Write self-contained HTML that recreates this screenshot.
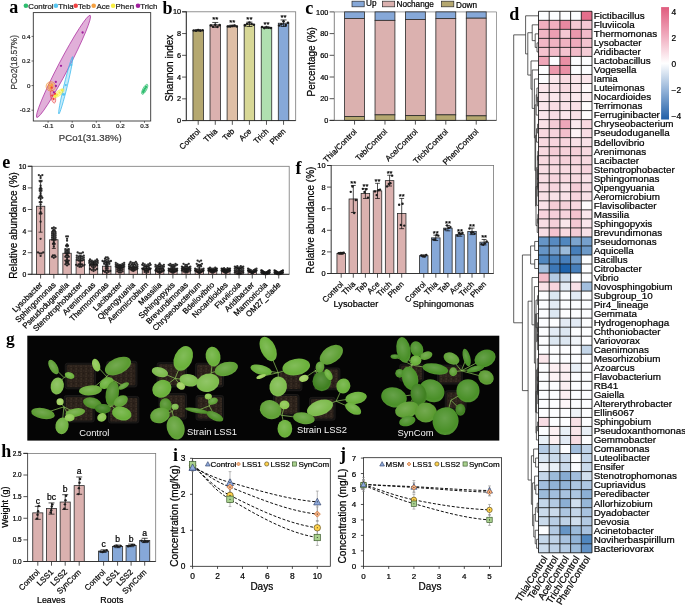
<!DOCTYPE html>
<html><head><meta charset="utf-8"><title>Figure</title>
<style>html,body{margin:0;padding:0;background:#fff}svg{display:block}</style></head>
<body><svg width="685" height="606" viewBox="0 0 685 606">
<rect width="685" height="606" fill="#fff"/>
<text x="9.20" y="13.20" font-size="18" text-anchor="start" fill="#000" font-family="Liberation Serif, Times New Roman, serif" font-weight="bold" >a</text>
<circle cx="25.90" cy="5.70" r="2.3" fill="#2dbd6e" stroke="none" stroke-width="0.5" />
<text x="28.20" y="8.50" font-size="7.9" text-anchor="start" fill="#222" font-family="Liberation Sans, Arial, sans-serif" stroke="#222" stroke-width="0.22" >Control</text>
<circle cx="55.90" cy="5.70" r="2.3" fill="#56c5f0" stroke="none" stroke-width="0.5" />
<text x="58.20" y="8.50" font-size="7.9" text-anchor="start" fill="#222" font-family="Liberation Sans, Arial, sans-serif" stroke="#222" stroke-width="0.22" >Thia</text>
<circle cx="75.70" cy="5.70" r="2.3" fill="#f04040" stroke="none" stroke-width="0.5" />
<text x="77.90" y="8.50" font-size="7.9" text-anchor="start" fill="#222" font-family="Liberation Sans, Arial, sans-serif" stroke="#222" stroke-width="0.22" >Teb</text>
<circle cx="93.70" cy="5.70" r="2.3" fill="#f5a040" stroke="none" stroke-width="0.5" />
<text x="96.40" y="8.50" font-size="7.9" text-anchor="start" fill="#222" font-family="Liberation Sans, Arial, sans-serif" stroke="#222" stroke-width="0.22" >Ace</text>
<circle cx="113.10" cy="5.70" r="2.3" fill="#f8ee40" stroke="none" stroke-width="0.5" />
<text x="115.60" y="8.50" font-size="7.9" text-anchor="start" fill="#222" font-family="Liberation Sans, Arial, sans-serif" stroke="#222" stroke-width="0.22" >Phen</text>
<circle cx="138.00" cy="5.70" r="2.3" fill="#a0209e" stroke="none" stroke-width="0.5" />
<text x="140.20" y="8.50" font-size="7.9" text-anchor="start" fill="#222" font-family="Liberation Sans, Arial, sans-serif" stroke="#222" stroke-width="0.22" >Trich</text>
<rect x="33.30" y="12.60" width="117.40" height="108.40" fill="#fff" stroke="#333" stroke-width="0.9" />
<clipPath id="ca"><rect x="33.3" y="12.6" width="117.39999999999999" height="108.4"/></clipPath><g clip-path="url(#ca)">
<ellipse cx="63.50" cy="66.40" rx="57.60" ry="5.20" transform="rotate(-62.4 63.50 66.40)" fill="#b5379f" fill-opacity="0.4" stroke="#a8259c" stroke-width="0.65"/>
<ellipse cx="65.75" cy="85.30" rx="29.50" ry="1.70" transform="rotate(-76.4 65.75 85.30)" fill="#56c5f0" fill-opacity="0.35" stroke="#38b8ee" stroke-width="0.7"/>
<ellipse cx="144.70" cy="89.30" rx="5.60" ry="1.90" transform="rotate(-62 144.70 89.30)" fill="#2dbd6e" fill-opacity="0.4" stroke="#2dbd6e" stroke-width="0.6"/>
<ellipse cx="50.80" cy="86.40" rx="4.70" ry="4.70" transform="rotate(0 50.80 86.40)" fill="#f5a040" fill-opacity="0.22" stroke="#f08a20" stroke-width="0.6"/>
<ellipse cx="50.60" cy="86.40" rx="2.60" ry="3.30" transform="rotate(0 50.60 86.40)" fill="#f5a040" fill-opacity="0.22" stroke="#f08a20" stroke-width="0.5"/>
<ellipse cx="53.00" cy="96.60" rx="2.30" ry="6.60" transform="rotate(-13 53.00 96.60)" fill="#f04040" fill-opacity="0.2" stroke="#e84040" stroke-width="0.6"/>
<ellipse cx="58.70" cy="93.30" rx="6.60" ry="2.40" transform="rotate(-39 58.70 93.30)" fill="#f8ee40" fill-opacity="0.45" stroke="#f4e840" stroke-width="0.5"/>
<circle cx="82.60" cy="32.50" r="1.15" fill="#a0209e" stroke="none" stroke-width="0.5" />
<circle cx="61.00" cy="65.80" r="1.15" fill="#a0209e" stroke="none" stroke-width="0.5" />
<circle cx="55.80" cy="81.90" r="1.15" fill="#a0209e" stroke="none" stroke-width="0.5" />
<circle cx="55.90" cy="86.00" r="1.15" fill="#a0209e" stroke="none" stroke-width="0.5" />
<circle cx="54.00" cy="92.30" r="1.15" fill="#a0209e" stroke="none" stroke-width="0.5" />
<circle cx="71.20" cy="65.00" r="1.15" fill="#56c5f0" stroke="none" stroke-width="0.5" />
<circle cx="65.80" cy="85.10" r="1.15" fill="#56c5f0" stroke="none" stroke-width="0.5" />
<circle cx="64.00" cy="94.50" r="1.15" fill="#56c5f0" stroke="none" stroke-width="0.5" />
<circle cx="63.00" cy="94.40" r="1.15" fill="#56c5f0" stroke="none" stroke-width="0.5" />
<circle cx="143.20" cy="92.00" r="1.15" fill="#2dbd6e" stroke="none" stroke-width="0.5" />
<circle cx="144.20" cy="90.20" r="1.15" fill="#2dbd6e" stroke="none" stroke-width="0.5" />
<circle cx="145.00" cy="88.60" r="1.15" fill="#2dbd6e" stroke="none" stroke-width="0.5" />
<circle cx="146.00" cy="87.00" r="1.15" fill="#2dbd6e" stroke="none" stroke-width="0.5" />
<circle cx="143.60" cy="91.00" r="1.15" fill="#2dbd6e" stroke="none" stroke-width="0.5" />
<circle cx="50.00" cy="85.60" r="1.15" fill="#f5a040" stroke="none" stroke-width="0.5" />
<circle cx="51.50" cy="87.00" r="1.15" fill="#f5a040" stroke="none" stroke-width="0.5" />
<circle cx="50.50" cy="88.00" r="1.15" fill="#f5a040" stroke="none" stroke-width="0.5" />
<circle cx="52.00" cy="85.00" r="1.15" fill="#f5a040" stroke="none" stroke-width="0.5" />
<circle cx="51.70" cy="87.70" r="1.15" fill="#f04040" stroke="none" stroke-width="0.5" />
<circle cx="52.20" cy="95.60" r="1.15" fill="#f04040" stroke="none" stroke-width="0.5" />
<circle cx="55.10" cy="93.90" r="1.15" fill="#f04040" stroke="none" stroke-width="0.5" />
<circle cx="53.50" cy="99.00" r="1.15" fill="#f04040" stroke="none" stroke-width="0.5" />
<circle cx="55.20" cy="96.20" r="1.15" fill="#f8ee40" stroke="none" stroke-width="0.5" />
<circle cx="57.30" cy="94.60" r="1.15" fill="#f8ee40" stroke="none" stroke-width="0.5" />
<circle cx="59.60" cy="92.60" r="1.15" fill="#f8ee40" stroke="none" stroke-width="0.5" />
<circle cx="62.00" cy="90.40" r="1.15" fill="#f8ee40" stroke="none" stroke-width="0.5" />
<circle cx="56.30" cy="95.30" r="1.15" fill="#f8ee40" stroke="none" stroke-width="0.5" />
</g>
<line x1="48.10" y1="121.00" x2="48.10" y2="122.80" stroke="#333" stroke-width="0.7" />
<text x="48.10" y="128.00" font-size="6.2" text-anchor="middle" fill="#222" font-family="Liberation Sans, Arial, sans-serif" stroke="#222" stroke-width="0.22" >-0.1</text>
<line x1="72.20" y1="121.00" x2="72.20" y2="122.80" stroke="#333" stroke-width="0.7" />
<text x="72.20" y="128.00" font-size="6.2" text-anchor="middle" fill="#222" font-family="Liberation Sans, Arial, sans-serif" stroke="#222" stroke-width="0.22" >0</text>
<line x1="96.30" y1="121.00" x2="96.30" y2="122.80" stroke="#333" stroke-width="0.7" />
<text x="96.30" y="128.00" font-size="6.2" text-anchor="middle" fill="#222" font-family="Liberation Sans, Arial, sans-serif" stroke="#222" stroke-width="0.22" >0.1</text>
<line x1="120.40" y1="121.00" x2="120.40" y2="122.80" stroke="#333" stroke-width="0.7" />
<text x="120.40" y="128.00" font-size="6.2" text-anchor="middle" fill="#222" font-family="Liberation Sans, Arial, sans-serif" stroke="#222" stroke-width="0.22" >0.2</text>
<line x1="144.50" y1="121.00" x2="144.50" y2="122.80" stroke="#333" stroke-width="0.7" />
<text x="144.50" y="128.00" font-size="6.2" text-anchor="middle" fill="#222" font-family="Liberation Sans, Arial, sans-serif" stroke="#222" stroke-width="0.22" >0.3</text>
<line x1="31.50" y1="36.40" x2="33.30" y2="36.40" stroke="#333" stroke-width="0.7" />
<text x="30.50" y="38.60" font-size="6.2" text-anchor="end" fill="#222" font-family="Liberation Sans, Arial, sans-serif" stroke="#222" stroke-width="0.22" >0.4</text>
<line x1="31.50" y1="61.00" x2="33.30" y2="61.00" stroke="#333" stroke-width="0.7" />
<text x="30.50" y="63.20" font-size="6.2" text-anchor="end" fill="#222" font-family="Liberation Sans, Arial, sans-serif" stroke="#222" stroke-width="0.22" >0.2</text>
<line x1="31.50" y1="85.60" x2="33.30" y2="85.60" stroke="#333" stroke-width="0.7" />
<text x="30.50" y="87.80" font-size="6.2" text-anchor="end" fill="#222" font-family="Liberation Sans, Arial, sans-serif" stroke="#222" stroke-width="0.22" >0</text>
<line x1="31.50" y1="110.20" x2="33.30" y2="110.20" stroke="#333" stroke-width="0.7" />
<text x="30.50" y="112.40" font-size="6.2" text-anchor="end" fill="#222" font-family="Liberation Sans, Arial, sans-serif" stroke="#222" stroke-width="0.22" >-0.2</text>
<text x="17.40" y="62.30" font-size="8.3" text-anchor="middle" fill="#3a3a3a" font-family="Liberation Sans, Arial, sans-serif" transform="rotate(-90 17.40 62.30)" stroke="#3a3a3a" stroke-width="0.22" >PCo2(18.57%)</text>
<text x="90.30" y="141.00" font-size="9.6" text-anchor="middle" fill="#3a3a3a" font-family="Liberation Sans, Arial, sans-serif" stroke="#3a3a3a" stroke-width="0.22" >PCo1(31.38%)</text>
<text x="162.60" y="13.80" font-size="18" text-anchor="start" fill="#000" font-family="Liberation Serif, Times New Roman, serif" font-weight="bold" >b</text>
<rect x="186.30" y="11.80" width="109.40" height="108.80" fill="#fff" stroke="#777" stroke-width="0.8" />
<line x1="186.30" y1="11.80" x2="186.30" y2="120.60" stroke="#2a2a2a" stroke-width="0.9" />
<line x1="182.10" y1="120.60" x2="295.70" y2="120.60" stroke="#2a2a2a" stroke-width="0.9" />
<line x1="182.10" y1="11.80" x2="186.70" y2="11.80" stroke="#2a2a2a" stroke-width="0.9" />
<line x1="182.10" y1="120.60" x2="186.30" y2="120.60" stroke="#2a2a2a" stroke-width="0.8" />
<text x="181.00" y="123.20" font-size="7.3" text-anchor="end" fill="#000" font-family="Liberation Sans, Arial, sans-serif" stroke="#000" stroke-width="0.22" >0</text>
<line x1="182.10" y1="98.84" x2="186.30" y2="98.84" stroke="#2a2a2a" stroke-width="0.8" />
<text x="181.00" y="101.44" font-size="7.3" text-anchor="end" fill="#000" font-family="Liberation Sans, Arial, sans-serif" stroke="#000" stroke-width="0.22" >2</text>
<line x1="182.10" y1="77.08" x2="186.30" y2="77.08" stroke="#2a2a2a" stroke-width="0.8" />
<text x="181.00" y="79.68" font-size="7.3" text-anchor="end" fill="#000" font-family="Liberation Sans, Arial, sans-serif" stroke="#000" stroke-width="0.22" >4</text>
<line x1="182.10" y1="55.32" x2="186.30" y2="55.32" stroke="#2a2a2a" stroke-width="0.8" />
<text x="181.00" y="57.92" font-size="7.3" text-anchor="end" fill="#000" font-family="Liberation Sans, Arial, sans-serif" stroke="#000" stroke-width="0.22" >6</text>
<line x1="182.10" y1="33.56" x2="186.30" y2="33.56" stroke="#2a2a2a" stroke-width="0.8" />
<text x="181.00" y="36.16" font-size="7.3" text-anchor="end" fill="#000" font-family="Liberation Sans, Arial, sans-serif" stroke="#000" stroke-width="0.22" >8</text>
<line x1="182.10" y1="11.80" x2="186.30" y2="11.80" stroke="#2a2a2a" stroke-width="0.8" />
<text x="181.00" y="14.40" font-size="7.3" text-anchor="end" fill="#000" font-family="Liberation Sans, Arial, sans-serif" stroke="#000" stroke-width="0.22" >10</text>
<text x="172.50" y="68.00" font-size="10" text-anchor="middle" fill="#000" font-family="Liberation Sans, Arial, sans-serif" transform="rotate(-90 172.50 68.00)" stroke="#000" stroke-width="0.22" >Shannon index</text>
<rect x="192.95" y="30.30" width="10.50" height="90.30" fill="#b5a870" stroke="#2a2a2a" stroke-width="0.8" />
<line x1="198.20" y1="29.64" x2="198.20" y2="30.95" stroke="#000" stroke-width="0.7" />
<line x1="195.20" y1="29.64" x2="201.20" y2="29.64" stroke="#000" stroke-width="0.7" />
<line x1="195.20" y1="30.95" x2="201.20" y2="30.95" stroke="#000" stroke-width="0.7" />
<circle cx="193.80" cy="30.50" r="1.3" fill="#1c1c1c" stroke="none" stroke-width="0.5" />
<circle cx="196.00" cy="30.71" r="1.3" fill="#1c1c1c" stroke="none" stroke-width="0.5" />
<circle cx="198.20" cy="30.12" r="1.3" fill="#1c1c1c" stroke="none" stroke-width="0.5" />
<circle cx="200.40" cy="30.80" r="1.3" fill="#1c1c1c" stroke="none" stroke-width="0.5" />
<circle cx="202.60" cy="30.25" r="1.3" fill="#1c1c1c" stroke="none" stroke-width="0.5" />
<line x1="198.20" y1="120.60" x2="198.20" y2="124.80" stroke="#2a2a2a" stroke-width="0.8" />
<text x="200.80" y="131.80" font-size="8" text-anchor="end" fill="#000" font-family="Liberation Sans, Arial, sans-serif" transform="rotate(-45 200.80 131.80)" stroke="#000" stroke-width="0.22" >Control</text>
<rect x="210.02" y="24.86" width="10.50" height="95.74" fill="#dbb1af" stroke="#2a2a2a" stroke-width="0.8" />
<line x1="215.27" y1="22.46" x2="215.27" y2="27.25" stroke="#000" stroke-width="0.7" />
<line x1="212.27" y1="22.46" x2="218.27" y2="22.46" stroke="#000" stroke-width="0.7" />
<line x1="212.27" y1="27.25" x2="218.27" y2="27.25" stroke="#000" stroke-width="0.7" />
<circle cx="210.87" cy="25.43" r="1.3" fill="#1c1c1c" stroke="none" stroke-width="0.5" />
<circle cx="213.07" cy="26.76" r="1.3" fill="#1c1c1c" stroke="none" stroke-width="0.5" />
<circle cx="215.27" cy="24.82" r="1.3" fill="#1c1c1c" stroke="none" stroke-width="0.5" />
<circle cx="217.47" cy="26.85" r="1.3" fill="#1c1c1c" stroke="none" stroke-width="0.5" />
<circle cx="219.67" cy="25.14" r="1.3" fill="#1c1c1c" stroke="none" stroke-width="0.5" />
<text x="215.27" y="22.06" font-size="7.8" text-anchor="middle" fill="#000" font-family="Liberation Sans, Arial, sans-serif" stroke="#000" stroke-width="0.22" >**</text>
<line x1="215.27" y1="120.60" x2="215.27" y2="124.80" stroke="#2a2a2a" stroke-width="0.8" />
<text x="217.87" y="131.80" font-size="8" text-anchor="end" fill="#000" font-family="Liberation Sans, Arial, sans-serif" transform="rotate(-45 217.87 131.80)" stroke="#000" stroke-width="0.22" >Thia</text>
<rect x="227.09" y="25.94" width="10.50" height="94.66" fill="#dfbfa6" stroke="#2a2a2a" stroke-width="0.8" />
<line x1="232.34" y1="25.18" x2="232.34" y2="26.71" stroke="#000" stroke-width="0.7" />
<line x1="229.34" y1="25.18" x2="235.34" y2="25.18" stroke="#000" stroke-width="0.7" />
<line x1="229.34" y1="26.71" x2="235.34" y2="26.71" stroke="#000" stroke-width="0.7" />
<circle cx="227.94" cy="26.53" r="1.3" fill="#1c1c1c" stroke="none" stroke-width="0.5" />
<circle cx="230.14" cy="26.51" r="1.3" fill="#1c1c1c" stroke="none" stroke-width="0.5" />
<circle cx="232.34" cy="26.05" r="1.3" fill="#1c1c1c" stroke="none" stroke-width="0.5" />
<circle cx="234.54" cy="25.50" r="1.3" fill="#1c1c1c" stroke="none" stroke-width="0.5" />
<circle cx="236.74" cy="26.46" r="1.3" fill="#1c1c1c" stroke="none" stroke-width="0.5" />
<text x="232.34" y="24.78" font-size="7.8" text-anchor="middle" fill="#000" font-family="Liberation Sans, Arial, sans-serif" stroke="#000" stroke-width="0.22" >**</text>
<line x1="232.34" y1="120.60" x2="232.34" y2="124.80" stroke="#2a2a2a" stroke-width="0.8" />
<text x="234.94" y="131.80" font-size="8" text-anchor="end" fill="#000" font-family="Liberation Sans, Arial, sans-serif" transform="rotate(-45 234.94 131.80)" stroke="#000" stroke-width="0.22" >Teb</text>
<rect x="244.16" y="24.31" width="10.50" height="96.29" fill="#d8d896" stroke="#2a2a2a" stroke-width="0.8" />
<line x1="249.41" y1="22.14" x2="249.41" y2="26.49" stroke="#000" stroke-width="0.7" />
<line x1="246.41" y1="22.14" x2="252.41" y2="22.14" stroke="#000" stroke-width="0.7" />
<line x1="246.41" y1="26.49" x2="252.41" y2="26.49" stroke="#000" stroke-width="0.7" />
<circle cx="245.01" cy="25.40" r="1.3" fill="#1c1c1c" stroke="none" stroke-width="0.5" />
<circle cx="247.21" cy="23.81" r="1.3" fill="#1c1c1c" stroke="none" stroke-width="0.5" />
<circle cx="249.41" cy="22.56" r="1.3" fill="#1c1c1c" stroke="none" stroke-width="0.5" />
<circle cx="251.61" cy="24.01" r="1.3" fill="#1c1c1c" stroke="none" stroke-width="0.5" />
<circle cx="253.81" cy="24.72" r="1.3" fill="#1c1c1c" stroke="none" stroke-width="0.5" />
<text x="249.41" y="21.74" font-size="7.8" text-anchor="middle" fill="#000" font-family="Liberation Sans, Arial, sans-serif" stroke="#000" stroke-width="0.22" >**</text>
<line x1="249.41" y1="120.60" x2="249.41" y2="124.80" stroke="#2a2a2a" stroke-width="0.8" />
<text x="252.01" y="131.80" font-size="8" text-anchor="end" fill="#000" font-family="Liberation Sans, Arial, sans-serif" transform="rotate(-45 252.01 131.80)" stroke="#000" stroke-width="0.22" >Ace</text>
<rect x="261.23" y="27.58" width="10.50" height="93.02" fill="#b0e0b0" stroke="#2a2a2a" stroke-width="0.8" />
<line x1="266.48" y1="26.92" x2="266.48" y2="28.23" stroke="#000" stroke-width="0.7" />
<line x1="263.48" y1="26.92" x2="269.48" y2="26.92" stroke="#000" stroke-width="0.7" />
<line x1="263.48" y1="28.23" x2="269.48" y2="28.23" stroke="#000" stroke-width="0.7" />
<circle cx="262.08" cy="27.02" r="1.3" fill="#1c1c1c" stroke="none" stroke-width="0.5" />
<circle cx="264.28" cy="28.11" r="1.3" fill="#1c1c1c" stroke="none" stroke-width="0.5" />
<circle cx="266.48" cy="27.15" r="1.3" fill="#1c1c1c" stroke="none" stroke-width="0.5" />
<circle cx="268.68" cy="27.82" r="1.3" fill="#1c1c1c" stroke="none" stroke-width="0.5" />
<circle cx="270.88" cy="27.99" r="1.3" fill="#1c1c1c" stroke="none" stroke-width="0.5" />
<text x="266.48" y="26.52" font-size="7.8" text-anchor="middle" fill="#000" font-family="Liberation Sans, Arial, sans-serif" stroke="#000" stroke-width="0.22" >**</text>
<line x1="266.48" y1="120.60" x2="266.48" y2="124.80" stroke="#2a2a2a" stroke-width="0.8" />
<text x="269.08" y="131.80" font-size="8" text-anchor="end" fill="#000" font-family="Liberation Sans, Arial, sans-serif" transform="rotate(-45 269.08 131.80)" stroke="#000" stroke-width="0.22" >Trich</text>
<rect x="278.30" y="23.22" width="10.50" height="97.38" fill="#86a8d8" stroke="#2a2a2a" stroke-width="0.8" />
<line x1="283.55" y1="19.96" x2="283.55" y2="26.49" stroke="#000" stroke-width="0.7" />
<line x1="280.55" y1="19.96" x2="286.55" y2="19.96" stroke="#000" stroke-width="0.7" />
<line x1="280.55" y1="26.49" x2="286.55" y2="26.49" stroke="#000" stroke-width="0.7" />
<circle cx="279.15" cy="25.47" r="1.3" fill="#1c1c1c" stroke="none" stroke-width="0.5" />
<circle cx="281.35" cy="24.35" r="1.3" fill="#1c1c1c" stroke="none" stroke-width="0.5" />
<circle cx="283.55" cy="21.37" r="1.3" fill="#1c1c1c" stroke="none" stroke-width="0.5" />
<circle cx="285.75" cy="25.10" r="1.3" fill="#1c1c1c" stroke="none" stroke-width="0.5" />
<circle cx="287.95" cy="22.74" r="1.3" fill="#1c1c1c" stroke="none" stroke-width="0.5" />
<text x="283.55" y="19.56" font-size="7.8" text-anchor="middle" fill="#000" font-family="Liberation Sans, Arial, sans-serif" stroke="#000" stroke-width="0.22" >**</text>
<line x1="283.55" y1="120.60" x2="283.55" y2="124.80" stroke="#2a2a2a" stroke-width="0.8" />
<text x="286.15" y="131.80" font-size="8" text-anchor="end" fill="#000" font-family="Liberation Sans, Arial, sans-serif" transform="rotate(-45 286.15 131.80)" stroke="#000" stroke-width="0.22" >Phen</text>
<text x="305.30" y="13.60" font-size="18" text-anchor="start" fill="#000" font-family="Liberation Serif, Times New Roman, serif" font-weight="bold" >c</text>
<line x1="334.00" y1="11.90" x2="496.50" y2="11.90" stroke="#777" stroke-width="0.7" />
<line x1="496.50" y1="11.90" x2="496.50" y2="120.40" stroke="#777" stroke-width="0.7" />
<rect x="344.60" y="11.90" width="19.90" height="6.51" fill="#86a8d8" stroke="#2a2a2a" stroke-width="0.8" />
<rect x="344.60" y="18.41" width="19.90" height="98.08" fill="#dbb1af" stroke="#2a2a2a" stroke-width="0.8" />
<rect x="344.60" y="116.49" width="19.90" height="3.91" fill="#b5a870" stroke="#2a2a2a" stroke-width="0.8" />
<line x1="354.55" y1="120.40" x2="354.55" y2="124.60" stroke="#2a2a2a" stroke-width="0.8" />
<text x="357.35" y="132.20" font-size="8" text-anchor="end" fill="#000" font-family="Liberation Sans, Arial, sans-serif" transform="rotate(-45 357.35 132.20)" stroke="#000" stroke-width="0.22" >Thia/Control</text>
<rect x="375.02" y="11.90" width="19.90" height="8.46" fill="#86a8d8" stroke="#2a2a2a" stroke-width="0.8" />
<rect x="375.02" y="20.36" width="19.90" height="94.50" fill="#dbb1af" stroke="#2a2a2a" stroke-width="0.8" />
<rect x="375.02" y="114.87" width="19.90" height="5.53" fill="#b5a870" stroke="#2a2a2a" stroke-width="0.8" />
<line x1="384.97" y1="120.40" x2="384.97" y2="124.60" stroke="#2a2a2a" stroke-width="0.8" />
<text x="387.77" y="132.20" font-size="8" text-anchor="end" fill="#000" font-family="Liberation Sans, Arial, sans-serif" transform="rotate(-45 387.77 132.20)" stroke="#000" stroke-width="0.22" >Teb/Control</text>
<rect x="405.44" y="11.90" width="19.90" height="7.59" fill="#86a8d8" stroke="#2a2a2a" stroke-width="0.8" />
<rect x="405.44" y="19.50" width="19.90" height="96.13" fill="#dbb1af" stroke="#2a2a2a" stroke-width="0.8" />
<rect x="405.44" y="115.63" width="19.90" height="4.77" fill="#b5a870" stroke="#2a2a2a" stroke-width="0.8" />
<line x1="415.39" y1="120.40" x2="415.39" y2="124.60" stroke="#2a2a2a" stroke-width="0.8" />
<text x="418.19" y="132.20" font-size="8" text-anchor="end" fill="#000" font-family="Liberation Sans, Arial, sans-serif" transform="rotate(-45 418.19 132.20)" stroke="#000" stroke-width="0.22" >Ace/Control</text>
<rect x="435.86" y="11.90" width="19.90" height="6.73" fill="#86a8d8" stroke="#2a2a2a" stroke-width="0.8" />
<rect x="435.86" y="18.63" width="19.90" height="96.24" fill="#dbb1af" stroke="#2a2a2a" stroke-width="0.8" />
<rect x="435.86" y="114.87" width="19.90" height="5.53" fill="#b5a870" stroke="#2a2a2a" stroke-width="0.8" />
<line x1="445.81" y1="120.40" x2="445.81" y2="124.60" stroke="#2a2a2a" stroke-width="0.8" />
<text x="448.61" y="132.20" font-size="8" text-anchor="end" fill="#000" font-family="Liberation Sans, Arial, sans-serif" transform="rotate(-45 448.61 132.20)" stroke="#000" stroke-width="0.22" >Trich/Control</text>
<rect x="466.28" y="11.90" width="19.90" height="6.29" fill="#86a8d8" stroke="#2a2a2a" stroke-width="0.8" />
<rect x="466.28" y="18.19" width="19.90" height="97.65" fill="#dbb1af" stroke="#2a2a2a" stroke-width="0.8" />
<rect x="466.28" y="115.84" width="19.90" height="4.56" fill="#b5a870" stroke="#2a2a2a" stroke-width="0.8" />
<line x1="476.23" y1="120.40" x2="476.23" y2="124.60" stroke="#2a2a2a" stroke-width="0.8" />
<text x="479.03" y="132.20" font-size="8" text-anchor="end" fill="#000" font-family="Liberation Sans, Arial, sans-serif" transform="rotate(-45 479.03 132.20)" stroke="#000" stroke-width="0.22" >Phen/Control</text>
<line x1="334.30" y1="11.90" x2="334.30" y2="120.40" stroke="#666" stroke-width="0.8" />
<line x1="329.60" y1="120.40" x2="496.50" y2="120.40" stroke="#2a2a2a" stroke-width="0.9" />
<line x1="329.60" y1="120.40" x2="334.00" y2="120.40" stroke="#2a2a2a" stroke-width="0.8" />
<text x="328.30" y="123.00" font-size="7.3" text-anchor="end" fill="#000" font-family="Liberation Sans, Arial, sans-serif" stroke="#000" stroke-width="0.22" >0</text>
<line x1="329.60" y1="98.70" x2="334.00" y2="98.70" stroke="#2a2a2a" stroke-width="0.8" />
<text x="328.30" y="101.30" font-size="7.3" text-anchor="end" fill="#000" font-family="Liberation Sans, Arial, sans-serif" stroke="#000" stroke-width="0.22" >20</text>
<line x1="329.60" y1="77.00" x2="334.00" y2="77.00" stroke="#2a2a2a" stroke-width="0.8" />
<text x="328.30" y="79.60" font-size="7.3" text-anchor="end" fill="#000" font-family="Liberation Sans, Arial, sans-serif" stroke="#000" stroke-width="0.22" >40</text>
<line x1="329.60" y1="55.30" x2="334.00" y2="55.30" stroke="#2a2a2a" stroke-width="0.8" />
<text x="328.30" y="57.90" font-size="7.3" text-anchor="end" fill="#000" font-family="Liberation Sans, Arial, sans-serif" stroke="#000" stroke-width="0.22" >60</text>
<line x1="329.60" y1="33.60" x2="334.00" y2="33.60" stroke="#2a2a2a" stroke-width="0.8" />
<text x="328.30" y="36.20" font-size="7.3" text-anchor="end" fill="#000" font-family="Liberation Sans, Arial, sans-serif" stroke="#000" stroke-width="0.22" >80</text>
<line x1="329.60" y1="11.90" x2="334.00" y2="11.90" stroke="#2a2a2a" stroke-width="0.8" />
<text x="328.30" y="14.50" font-size="7.3" text-anchor="end" fill="#000" font-family="Liberation Sans, Arial, sans-serif" stroke="#000" stroke-width="0.22" >100</text>
<text x="314.90" y="61.80" font-size="10" text-anchor="middle" fill="#000" font-family="Liberation Sans, Arial, sans-serif" transform="rotate(-90 314.90 61.80)" stroke="#000" stroke-width="0.22" >Percentage (%)</text>
<rect x="352.00" y="1.20" width="12.20" height="5.60" fill="#86a8d8" stroke="#2a2a2a" stroke-width="0.7" />
<text x="366.00" y="6.30" font-size="8.2" text-anchor="start" fill="#000" font-family="Liberation Sans, Arial, sans-serif" stroke="#000" stroke-width="0.22" >Up</text>
<rect x="382.50" y="1.20" width="12.20" height="5.60" fill="#dbb1af" stroke="#2a2a2a" stroke-width="0.7" />
<text x="396.50" y="7.40" font-size="8.2" text-anchor="start" fill="#000" font-family="Liberation Sans, Arial, sans-serif" stroke="#000" stroke-width="0.22" >Nochange</text>
<rect x="441.60" y="1.20" width="12.20" height="5.60" fill="#b5a870" stroke="#2a2a2a" stroke-width="0.7" />
<text x="456.00" y="7.60" font-size="8.2" text-anchor="start" fill="#000" font-family="Liberation Sans, Arial, sans-serif" stroke="#000" stroke-width="0.22" >Down</text>
<text x="509.30" y="20.20" font-size="18" text-anchor="start" fill="#000" font-family="Liberation Serif, Times New Roman, serif" font-weight="bold" >d</text>
<rect x="538.50" y="11.30" width="10.70" height="9.03" fill="#fcfdff" stroke="none" stroke-width="0.8" />
<rect x="549.20" y="11.30" width="10.70" height="9.03" fill="#fcfdff" stroke="none" stroke-width="0.8" />
<rect x="559.90" y="11.30" width="10.70" height="9.03" fill="#fcfdff" stroke="none" stroke-width="0.8" />
<rect x="570.60" y="11.30" width="10.70" height="9.03" fill="#fcfdff" stroke="none" stroke-width="0.8" />
<rect x="581.30" y="11.30" width="10.70" height="9.03" fill="#e36e8b" stroke="none" stroke-width="0.8" />
<text x="593.70" y="19.16" font-size="9.85" text-anchor="start" fill="#000" font-family="Liberation Sans, Arial, sans-serif" stroke="#000" stroke-width="0.22" >Fictibacillus</text>
<rect x="538.50" y="20.33" width="10.70" height="9.03" fill="#f0afbf" stroke="none" stroke-width="0.8" />
<rect x="549.20" y="20.33" width="10.70" height="9.03" fill="#f0afbf" stroke="none" stroke-width="0.8" />
<rect x="559.90" y="20.33" width="10.70" height="9.03" fill="#e888a0" stroke="none" stroke-width="0.8" />
<rect x="570.60" y="20.33" width="10.70" height="9.03" fill="#f4c8d3" stroke="none" stroke-width="0.8" />
<rect x="581.30" y="20.33" width="10.70" height="9.03" fill="#f4c8d3" stroke="none" stroke-width="0.8" />
<text x="593.70" y="28.19" font-size="9.85" text-anchor="start" fill="#000" font-family="Liberation Sans, Arial, sans-serif" stroke="#000" stroke-width="0.22" >Fluviicola</text>
<rect x="538.50" y="29.35" width="10.70" height="9.03" fill="#f1b7c6" stroke="none" stroke-width="0.8" />
<rect x="549.20" y="29.35" width="10.70" height="9.03" fill="#ed9fb2" stroke="none" stroke-width="0.8" />
<rect x="559.90" y="29.35" width="10.70" height="9.03" fill="#f4c8d3" stroke="none" stroke-width="0.8" />
<rect x="570.60" y="29.35" width="10.70" height="9.03" fill="#eb98ac" stroke="none" stroke-width="0.8" />
<rect x="581.30" y="29.35" width="10.70" height="9.03" fill="#f2bbc9" stroke="none" stroke-width="0.8" />
<text x="593.70" y="37.21" font-size="9.85" text-anchor="start" fill="#000" font-family="Liberation Sans, Arial, sans-serif" stroke="#000" stroke-width="0.22" >Thermomonas</text>
<rect x="538.50" y="38.38" width="10.70" height="9.03" fill="#f1b7c6" stroke="none" stroke-width="0.8" />
<rect x="549.20" y="38.38" width="10.70" height="9.03" fill="#f0b3c2" stroke="none" stroke-width="0.8" />
<rect x="559.90" y="38.38" width="10.70" height="9.03" fill="#f0b3c2" stroke="none" stroke-width="0.8" />
<rect x="570.60" y="38.38" width="10.70" height="9.03" fill="#efabbc" stroke="none" stroke-width="0.8" />
<rect x="581.30" y="38.38" width="10.70" height="9.03" fill="#f4c3cf" stroke="none" stroke-width="0.8" />
<text x="593.70" y="46.24" font-size="9.85" text-anchor="start" fill="#000" font-family="Liberation Sans, Arial, sans-serif" stroke="#000" stroke-width="0.22" >Lysobacter</text>
<rect x="538.50" y="47.40" width="10.70" height="9.03" fill="#f4c3cf" stroke="none" stroke-width="0.8" />
<rect x="549.20" y="47.40" width="10.70" height="9.03" fill="#f2bbc9" stroke="none" stroke-width="0.8" />
<rect x="559.90" y="47.40" width="10.70" height="9.03" fill="#f4c3cf" stroke="none" stroke-width="0.8" />
<rect x="570.60" y="47.40" width="10.70" height="9.03" fill="#f2bbc9" stroke="none" stroke-width="0.8" />
<rect x="581.30" y="47.40" width="10.70" height="9.03" fill="#f5ccd6" stroke="none" stroke-width="0.8" />
<text x="593.70" y="55.26" font-size="9.85" text-anchor="start" fill="#000" font-family="Liberation Sans, Arial, sans-serif" stroke="#000" stroke-width="0.22" >Aridibacter</text>
<rect x="538.50" y="56.42" width="10.70" height="9.03" fill="#eea7b9" stroke="none" stroke-width="0.8" />
<rect x="549.20" y="56.42" width="10.70" height="9.03" fill="#fcfdff" stroke="none" stroke-width="0.8" />
<rect x="559.90" y="56.42" width="10.70" height="9.03" fill="#ea90a6" stroke="none" stroke-width="0.8" />
<rect x="570.60" y="56.42" width="10.70" height="9.03" fill="#fcfdff" stroke="none" stroke-width="0.8" />
<rect x="581.30" y="56.42" width="10.70" height="9.03" fill="#fcfdff" stroke="none" stroke-width="0.8" />
<text x="593.70" y="64.29" font-size="9.85" text-anchor="start" fill="#000" font-family="Liberation Sans, Arial, sans-serif" stroke="#000" stroke-width="0.22" >Lactobacillus</text>
<rect x="538.50" y="65.45" width="10.70" height="9.03" fill="#fcfdff" stroke="none" stroke-width="0.8" />
<rect x="549.20" y="65.45" width="10.70" height="9.03" fill="#eb98ac" stroke="none" stroke-width="0.8" />
<rect x="559.90" y="65.45" width="10.70" height="9.03" fill="#ea90a6" stroke="none" stroke-width="0.8" />
<rect x="570.60" y="65.45" width="10.70" height="9.03" fill="#fcfdff" stroke="none" stroke-width="0.8" />
<rect x="581.30" y="65.45" width="10.70" height="9.03" fill="#fcfdff" stroke="none" stroke-width="0.8" />
<text x="593.70" y="73.31" font-size="9.85" text-anchor="start" fill="#000" font-family="Liberation Sans, Arial, sans-serif" stroke="#000" stroke-width="0.22" >Vogesella</text>
<rect x="538.50" y="74.48" width="10.70" height="9.03" fill="#fcfdff" stroke="none" stroke-width="0.8" />
<rect x="549.20" y="74.48" width="10.70" height="9.03" fill="#fae6eb" stroke="none" stroke-width="0.8" />
<rect x="559.90" y="74.48" width="10.70" height="9.03" fill="#f8d9e0" stroke="none" stroke-width="0.8" />
<rect x="570.60" y="74.48" width="10.70" height="9.03" fill="#fae6eb" stroke="none" stroke-width="0.8" />
<rect x="581.30" y="74.48" width="10.70" height="9.03" fill="#fae6eb" stroke="none" stroke-width="0.8" />
<text x="593.70" y="82.34" font-size="9.85" text-anchor="start" fill="#000" font-family="Liberation Sans, Arial, sans-serif" stroke="#000" stroke-width="0.22" >Iamia</text>
<rect x="538.50" y="83.50" width="10.70" height="9.03" fill="#fae6eb" stroke="none" stroke-width="0.8" />
<rect x="549.20" y="83.50" width="10.70" height="9.03" fill="#f9e1e7" stroke="none" stroke-width="0.8" />
<rect x="559.90" y="83.50" width="10.70" height="9.03" fill="#f8d9e0" stroke="none" stroke-width="0.8" />
<rect x="570.60" y="83.50" width="10.70" height="9.03" fill="#fae6eb" stroke="none" stroke-width="0.8" />
<rect x="581.30" y="83.50" width="10.70" height="9.03" fill="#fef9fa" stroke="none" stroke-width="0.8" />
<text x="593.70" y="91.36" font-size="9.85" text-anchor="start" fill="#000" font-family="Liberation Sans, Arial, sans-serif" stroke="#000" stroke-width="0.22" >Luteimonas</text>
<rect x="538.50" y="92.53" width="10.70" height="9.03" fill="#fae6eb" stroke="none" stroke-width="0.8" />
<rect x="549.20" y="92.53" width="10.70" height="9.03" fill="#fae6eb" stroke="none" stroke-width="0.8" />
<rect x="559.90" y="92.53" width="10.70" height="9.03" fill="#f9e1e7" stroke="none" stroke-width="0.8" />
<rect x="570.60" y="92.53" width="10.70" height="9.03" fill="#fbeaee" stroke="none" stroke-width="0.8" />
<rect x="581.30" y="92.53" width="10.70" height="9.03" fill="#fceff2" stroke="none" stroke-width="0.8" />
<text x="593.70" y="100.39" font-size="9.85" text-anchor="start" fill="#000" font-family="Liberation Sans, Arial, sans-serif" stroke="#000" stroke-width="0.22" >Nocardioides</text>
<rect x="538.50" y="101.55" width="10.70" height="9.03" fill="#fae6eb" stroke="none" stroke-width="0.8" />
<rect x="549.20" y="101.55" width="10.70" height="9.03" fill="#f8dde4" stroke="none" stroke-width="0.8" />
<rect x="559.90" y="101.55" width="10.70" height="9.03" fill="#f9e1e7" stroke="none" stroke-width="0.8" />
<rect x="570.60" y="101.55" width="10.70" height="9.03" fill="#f9e1e7" stroke="none" stroke-width="0.8" />
<rect x="581.30" y="101.55" width="10.70" height="9.03" fill="#fefcfc" stroke="none" stroke-width="0.8" />
<text x="593.70" y="109.41" font-size="9.85" text-anchor="start" fill="#000" font-family="Liberation Sans, Arial, sans-serif" stroke="#000" stroke-width="0.22" >Terrimonas</text>
<rect x="538.50" y="110.58" width="10.70" height="9.03" fill="#fae6eb" stroke="none" stroke-width="0.8" />
<rect x="549.20" y="110.58" width="10.70" height="9.03" fill="#f8dde4" stroke="none" stroke-width="0.8" />
<rect x="559.90" y="110.58" width="10.70" height="9.03" fill="#fae6eb" stroke="none" stroke-width="0.8" />
<rect x="570.60" y="110.58" width="10.70" height="9.03" fill="#f9e1e7" stroke="none" stroke-width="0.8" />
<rect x="581.30" y="110.58" width="10.70" height="9.03" fill="#fefcfc" stroke="none" stroke-width="0.8" />
<text x="593.70" y="118.44" font-size="9.85" text-anchor="start" fill="#000" font-family="Liberation Sans, Arial, sans-serif" stroke="#000" stroke-width="0.22" >Ferruginibacter</text>
<rect x="538.50" y="119.60" width="10.70" height="9.03" fill="#f9e1e7" stroke="none" stroke-width="0.8" />
<rect x="549.20" y="119.60" width="10.70" height="9.03" fill="#f5ccd6" stroke="none" stroke-width="0.8" />
<rect x="559.90" y="119.60" width="10.70" height="9.03" fill="#eea7b9" stroke="none" stroke-width="0.8" />
<rect x="570.60" y="119.60" width="10.70" height="9.03" fill="#fbeaee" stroke="none" stroke-width="0.8" />
<rect x="581.30" y="119.60" width="10.70" height="9.03" fill="#f8d9e0" stroke="none" stroke-width="0.8" />
<text x="593.70" y="127.46" font-size="9.85" text-anchor="start" fill="#000" font-family="Liberation Sans, Arial, sans-serif" stroke="#000" stroke-width="0.22" >Chryseobacterium</text>
<rect x="538.50" y="128.62" width="10.70" height="9.03" fill="#f8d9e0" stroke="none" stroke-width="0.8" />
<rect x="549.20" y="128.62" width="10.70" height="9.03" fill="#f7d4dd" stroke="none" stroke-width="0.8" />
<rect x="559.90" y="128.62" width="10.70" height="9.03" fill="#f3bfcc" stroke="none" stroke-width="0.8" />
<rect x="570.60" y="128.62" width="10.70" height="9.03" fill="#fdf4f6" stroke="none" stroke-width="0.8" />
<rect x="581.30" y="128.62" width="10.70" height="9.03" fill="#f8dde4" stroke="none" stroke-width="0.8" />
<text x="593.70" y="136.49" font-size="9.85" text-anchor="start" fill="#000" font-family="Liberation Sans, Arial, sans-serif" stroke="#000" stroke-width="0.22" >Pseudoduganella</text>
<rect x="538.50" y="137.65" width="10.70" height="9.03" fill="#f8d9e0" stroke="none" stroke-width="0.8" />
<rect x="549.20" y="137.65" width="10.70" height="9.03" fill="#f7d4dd" stroke="none" stroke-width="0.8" />
<rect x="559.90" y="137.65" width="10.70" height="9.03" fill="#f7d4dd" stroke="none" stroke-width="0.8" />
<rect x="570.60" y="137.65" width="10.70" height="9.03" fill="#f9e1e7" stroke="none" stroke-width="0.8" />
<rect x="581.30" y="137.65" width="10.70" height="9.03" fill="#f9e1e7" stroke="none" stroke-width="0.8" />
<text x="593.70" y="145.51" font-size="9.85" text-anchor="start" fill="#000" font-family="Liberation Sans, Arial, sans-serif" stroke="#000" stroke-width="0.22" >Bdellovibrio</text>
<rect x="538.50" y="146.68" width="10.70" height="9.03" fill="#f8d9e0" stroke="none" stroke-width="0.8" />
<rect x="549.20" y="146.68" width="10.70" height="9.03" fill="#f5ccd6" stroke="none" stroke-width="0.8" />
<rect x="559.90" y="146.68" width="10.70" height="9.03" fill="#f6d0d9" stroke="none" stroke-width="0.8" />
<rect x="570.60" y="146.68" width="10.70" height="9.03" fill="#f6d0d9" stroke="none" stroke-width="0.8" />
<rect x="581.30" y="146.68" width="10.70" height="9.03" fill="#f8d9e0" stroke="none" stroke-width="0.8" />
<text x="593.70" y="154.54" font-size="9.85" text-anchor="start" fill="#000" font-family="Liberation Sans, Arial, sans-serif" stroke="#000" stroke-width="0.22" >Arenimonas</text>
<rect x="538.50" y="155.70" width="10.70" height="9.03" fill="#f8d9e0" stroke="none" stroke-width="0.8" />
<rect x="549.20" y="155.70" width="10.70" height="9.03" fill="#f7d4dd" stroke="none" stroke-width="0.8" />
<rect x="559.90" y="155.70" width="10.70" height="9.03" fill="#f6d0d9" stroke="none" stroke-width="0.8" />
<rect x="570.60" y="155.70" width="10.70" height="9.03" fill="#f7d4dd" stroke="none" stroke-width="0.8" />
<rect x="581.30" y="155.70" width="10.70" height="9.03" fill="#f8d9e0" stroke="none" stroke-width="0.8" />
<text x="593.70" y="163.56" font-size="9.85" text-anchor="start" fill="#000" font-family="Liberation Sans, Arial, sans-serif" stroke="#000" stroke-width="0.22" >Lacibacter</text>
<rect x="538.50" y="164.73" width="10.70" height="9.03" fill="#f8dde4" stroke="none" stroke-width="0.8" />
<rect x="549.20" y="164.73" width="10.70" height="9.03" fill="#f8d9e0" stroke="none" stroke-width="0.8" />
<rect x="559.90" y="164.73" width="10.70" height="9.03" fill="#f8d9e0" stroke="none" stroke-width="0.8" />
<rect x="570.60" y="164.73" width="10.70" height="9.03" fill="#f8d9e0" stroke="none" stroke-width="0.8" />
<rect x="581.30" y="164.73" width="10.70" height="9.03" fill="#f7d4dd" stroke="none" stroke-width="0.8" />
<text x="593.70" y="172.59" font-size="9.85" text-anchor="start" fill="#000" font-family="Liberation Sans, Arial, sans-serif" stroke="#000" stroke-width="0.22" >Stenotrophobacter</text>
<rect x="538.50" y="173.75" width="10.70" height="9.03" fill="#f8dde4" stroke="none" stroke-width="0.8" />
<rect x="549.20" y="173.75" width="10.70" height="9.03" fill="#f7d4dd" stroke="none" stroke-width="0.8" />
<rect x="559.90" y="173.75" width="10.70" height="9.03" fill="#f8d9e0" stroke="none" stroke-width="0.8" />
<rect x="570.60" y="173.75" width="10.70" height="9.03" fill="#f8d9e0" stroke="none" stroke-width="0.8" />
<rect x="581.30" y="173.75" width="10.70" height="9.03" fill="#f9e1e7" stroke="none" stroke-width="0.8" />
<text x="593.70" y="181.61" font-size="9.85" text-anchor="start" fill="#000" font-family="Liberation Sans, Arial, sans-serif" stroke="#000" stroke-width="0.22" >Sphingomonas</text>
<rect x="538.50" y="182.78" width="10.70" height="9.03" fill="#f8dde4" stroke="none" stroke-width="0.8" />
<rect x="549.20" y="182.78" width="10.70" height="9.03" fill="#f7d4dd" stroke="none" stroke-width="0.8" />
<rect x="559.90" y="182.78" width="10.70" height="9.03" fill="#f9e1e7" stroke="none" stroke-width="0.8" />
<rect x="570.60" y="182.78" width="10.70" height="9.03" fill="#f5ccd6" stroke="none" stroke-width="0.8" />
<rect x="581.30" y="182.78" width="10.70" height="9.03" fill="#f8dde4" stroke="none" stroke-width="0.8" />
<text x="593.70" y="190.64" font-size="9.85" text-anchor="start" fill="#000" font-family="Liberation Sans, Arial, sans-serif" stroke="#000" stroke-width="0.22" >Qipengyuania</text>
<rect x="538.50" y="191.80" width="10.70" height="9.03" fill="#f9e1e7" stroke="none" stroke-width="0.8" />
<rect x="549.20" y="191.80" width="10.70" height="9.03" fill="#f9e1e7" stroke="none" stroke-width="0.8" />
<rect x="559.90" y="191.80" width="10.70" height="9.03" fill="#f9e1e7" stroke="none" stroke-width="0.8" />
<rect x="570.60" y="191.80" width="10.70" height="9.03" fill="#f7d4dd" stroke="none" stroke-width="0.8" />
<rect x="581.30" y="191.80" width="10.70" height="9.03" fill="#f9e1e7" stroke="none" stroke-width="0.8" />
<text x="593.70" y="199.66" font-size="9.85" text-anchor="start" fill="#000" font-family="Liberation Sans, Arial, sans-serif" stroke="#000" stroke-width="0.22" >Aeromicrobium</text>
<rect x="538.50" y="200.83" width="10.70" height="9.03" fill="#f9e1e7" stroke="none" stroke-width="0.8" />
<rect x="549.20" y="200.83" width="10.70" height="9.03" fill="#f5ccd6" stroke="none" stroke-width="0.8" />
<rect x="559.90" y="200.83" width="10.70" height="9.03" fill="#f6d0d9" stroke="none" stroke-width="0.8" />
<rect x="570.60" y="200.83" width="10.70" height="9.03" fill="#f8d9e0" stroke="none" stroke-width="0.8" />
<rect x="581.30" y="200.83" width="10.70" height="9.03" fill="#fefcfc" stroke="none" stroke-width="0.8" />
<text x="593.70" y="208.69" font-size="9.85" text-anchor="start" fill="#000" font-family="Liberation Sans, Arial, sans-serif" stroke="#000" stroke-width="0.22" >Flavisolibacter</text>
<rect x="538.50" y="209.85" width="10.70" height="9.03" fill="#f7d4dd" stroke="none" stroke-width="0.8" />
<rect x="549.20" y="209.85" width="10.70" height="9.03" fill="#f6d0d9" stroke="none" stroke-width="0.8" />
<rect x="559.90" y="209.85" width="10.70" height="9.03" fill="#f7d4dd" stroke="none" stroke-width="0.8" />
<rect x="570.60" y="209.85" width="10.70" height="9.03" fill="#f4c3cf" stroke="none" stroke-width="0.8" />
<rect x="581.30" y="209.85" width="10.70" height="9.03" fill="#fae6eb" stroke="none" stroke-width="0.8" />
<text x="593.70" y="217.71" font-size="9.85" text-anchor="start" fill="#000" font-family="Liberation Sans, Arial, sans-serif" stroke="#000" stroke-width="0.22" >Massilia</text>
<rect x="538.50" y="218.88" width="10.70" height="9.03" fill="#f8dde4" stroke="none" stroke-width="0.8" />
<rect x="549.20" y="218.88" width="10.70" height="9.03" fill="#f6d0d9" stroke="none" stroke-width="0.8" />
<rect x="559.90" y="218.88" width="10.70" height="9.03" fill="#fae6eb" stroke="none" stroke-width="0.8" />
<rect x="570.60" y="218.88" width="10.70" height="9.03" fill="#f4c8d3" stroke="none" stroke-width="0.8" />
<rect x="581.30" y="218.88" width="10.70" height="9.03" fill="#fae6eb" stroke="none" stroke-width="0.8" />
<text x="593.70" y="226.74" font-size="9.85" text-anchor="start" fill="#000" font-family="Liberation Sans, Arial, sans-serif" stroke="#000" stroke-width="0.22" >Sphingopyxis</text>
<rect x="538.50" y="227.90" width="10.70" height="9.03" fill="#f8dde4" stroke="none" stroke-width="0.8" />
<rect x="549.20" y="227.90" width="10.70" height="9.03" fill="#f4c3cf" stroke="none" stroke-width="0.8" />
<rect x="559.90" y="227.90" width="10.70" height="9.03" fill="#f8d9e0" stroke="none" stroke-width="0.8" />
<rect x="570.60" y="227.90" width="10.70" height="9.03" fill="#f5ccd6" stroke="none" stroke-width="0.8" />
<rect x="581.30" y="227.90" width="10.70" height="9.03" fill="#f9e1e7" stroke="none" stroke-width="0.8" />
<text x="593.70" y="235.76" font-size="9.85" text-anchor="start" fill="#000" font-family="Liberation Sans, Arial, sans-serif" stroke="#000" stroke-width="0.22" >Brevundimonas</text>
<rect x="538.50" y="236.93" width="10.70" height="9.03" fill="#6695c6" stroke="none" stroke-width="0.8" />
<rect x="549.20" y="236.93" width="10.70" height="9.03" fill="#578ac1" stroke="none" stroke-width="0.8" />
<rect x="559.90" y="236.93" width="10.70" height="9.03" fill="#5187bf" stroke="none" stroke-width="0.8" />
<rect x="570.60" y="236.93" width="10.70" height="9.03" fill="#7ca4ce" stroke="none" stroke-width="0.8" />
<rect x="581.30" y="236.93" width="10.70" height="9.03" fill="#76a0cc" stroke="none" stroke-width="0.8" />
<text x="593.70" y="244.79" font-size="9.85" text-anchor="start" fill="#000" font-family="Liberation Sans, Arial, sans-serif" stroke="#000" stroke-width="0.22" >Pseudomonas</text>
<rect x="538.50" y="245.95" width="10.70" height="9.03" fill="#6695c6" stroke="none" stroke-width="0.8" />
<rect x="549.20" y="245.95" width="10.70" height="9.03" fill="#719cca" stroke="none" stroke-width="0.8" />
<rect x="559.90" y="245.95" width="10.70" height="9.03" fill="#9cbbda" stroke="none" stroke-width="0.8" />
<rect x="570.60" y="245.95" width="10.70" height="9.03" fill="#477fbb" stroke="none" stroke-width="0.8" />
<rect x="581.30" y="245.95" width="10.70" height="9.03" fill="#6c99c8" stroke="none" stroke-width="0.8" />
<text x="593.70" y="253.81" font-size="9.85" text-anchor="start" fill="#000" font-family="Liberation Sans, Arial, sans-serif" stroke="#000" stroke-width="0.22" >Aquicella</text>
<rect x="538.50" y="254.98" width="10.70" height="9.03" fill="#5187bf" stroke="none" stroke-width="0.8" />
<rect x="549.20" y="254.98" width="10.70" height="9.03" fill="#4c83bd" stroke="none" stroke-width="0.8" />
<rect x="559.90" y="254.98" width="10.70" height="9.03" fill="#477fbb" stroke="none" stroke-width="0.8" />
<rect x="570.60" y="254.98" width="10.70" height="9.03" fill="#719cca" stroke="none" stroke-width="0.8" />
<rect x="581.30" y="254.98" width="10.70" height="9.03" fill="#fcfdff" stroke="none" stroke-width="0.8" />
<text x="593.70" y="262.84" font-size="9.85" text-anchor="start" fill="#000" font-family="Liberation Sans, Arial, sans-serif" stroke="#000" stroke-width="0.22" >Bacillus</text>
<rect x="538.50" y="264.00" width="10.70" height="9.03" fill="#a2bedd" stroke="none" stroke-width="0.8" />
<rect x="549.20" y="264.00" width="10.70" height="9.03" fill="#3d78b7" stroke="none" stroke-width="0.8" />
<rect x="559.90" y="264.00" width="10.70" height="9.03" fill="#1e63ac" stroke="none" stroke-width="0.8" />
<rect x="570.60" y="264.00" width="10.70" height="9.03" fill="#477fbb" stroke="none" stroke-width="0.8" />
<rect x="581.30" y="264.00" width="10.70" height="9.03" fill="#fcfdff" stroke="none" stroke-width="0.8" />
<text x="593.70" y="271.86" font-size="9.85" text-anchor="start" fill="#000" font-family="Liberation Sans, Arial, sans-serif" stroke="#000" stroke-width="0.22" >Citrobacter</text>
<rect x="538.50" y="273.03" width="10.70" height="9.03" fill="#f2bbc9" stroke="none" stroke-width="0.8" />
<rect x="549.20" y="273.03" width="10.70" height="9.03" fill="#b3cae3" stroke="none" stroke-width="0.8" />
<rect x="559.90" y="273.03" width="10.70" height="9.03" fill="#cadaeb" stroke="none" stroke-width="0.8" />
<rect x="570.60" y="273.03" width="10.70" height="9.03" fill="#fcfdff" stroke="none" stroke-width="0.8" />
<rect x="581.30" y="273.03" width="10.70" height="9.03" fill="#fcfdff" stroke="none" stroke-width="0.8" />
<text x="593.70" y="280.89" font-size="9.85" text-anchor="start" fill="#000" font-family="Liberation Sans, Arial, sans-serif" stroke="#000" stroke-width="0.22" >Vibrio</text>
<rect x="538.50" y="282.05" width="10.70" height="9.03" fill="#f9e1e7" stroke="none" stroke-width="0.8" />
<rect x="549.20" y="282.05" width="10.70" height="9.03" fill="#f7d4dd" stroke="none" stroke-width="0.8" />
<rect x="559.90" y="282.05" width="10.70" height="9.03" fill="#e3ebf5" stroke="none" stroke-width="0.8" />
<rect x="570.60" y="282.05" width="10.70" height="9.03" fill="#f9e1e7" stroke="none" stroke-width="0.8" />
<rect x="581.30" y="282.05" width="10.70" height="9.03" fill="#a2bedd" stroke="none" stroke-width="0.8" />
<text x="593.70" y="289.91" font-size="9.85" text-anchor="start" fill="#000" font-family="Liberation Sans, Arial, sans-serif" stroke="#000" stroke-width="0.22" >Novosphingobium</text>
<rect x="538.50" y="291.08" width="10.70" height="9.03" fill="#fcfdff" stroke="none" stroke-width="0.8" />
<rect x="549.20" y="291.08" width="10.70" height="9.03" fill="#dce7f2" stroke="none" stroke-width="0.8" />
<rect x="559.90" y="291.08" width="10.70" height="9.03" fill="#fcfdff" stroke="none" stroke-width="0.8" />
<rect x="570.60" y="291.08" width="10.70" height="9.03" fill="#e3ebf5" stroke="none" stroke-width="0.8" />
<rect x="581.30" y="291.08" width="10.70" height="9.03" fill="#fcfdff" stroke="none" stroke-width="0.8" />
<text x="593.70" y="298.94" font-size="9.85" text-anchor="start" fill="#000" font-family="Liberation Sans, Arial, sans-serif" stroke="#000" stroke-width="0.22" >Subgroup_10</text>
<rect x="538.50" y="300.10" width="10.70" height="9.03" fill="#fcfdff" stroke="none" stroke-width="0.8" />
<rect x="549.20" y="300.10" width="10.70" height="9.03" fill="#e3ebf5" stroke="none" stroke-width="0.8" />
<rect x="559.90" y="300.10" width="10.70" height="9.03" fill="#fcfdff" stroke="none" stroke-width="0.8" />
<rect x="570.60" y="300.10" width="10.70" height="9.03" fill="#fcfdff" stroke="none" stroke-width="0.8" />
<rect x="581.30" y="300.10" width="10.70" height="9.03" fill="#fcfdff" stroke="none" stroke-width="0.8" />
<text x="593.70" y="307.96" font-size="9.85" text-anchor="start" fill="#000" font-family="Liberation Sans, Arial, sans-serif" stroke="#000" stroke-width="0.22" >Pir4_lineage</text>
<rect x="538.50" y="309.12" width="10.70" height="9.03" fill="#fcfdff" stroke="none" stroke-width="0.8" />
<rect x="549.20" y="309.12" width="10.70" height="9.03" fill="#dce7f2" stroke="none" stroke-width="0.8" />
<rect x="559.90" y="309.12" width="10.70" height="9.03" fill="#fcfdff" stroke="none" stroke-width="0.8" />
<rect x="570.60" y="309.12" width="10.70" height="9.03" fill="#fcfdff" stroke="none" stroke-width="0.8" />
<rect x="581.30" y="309.12" width="10.70" height="9.03" fill="#fcfdff" stroke="none" stroke-width="0.8" />
<text x="593.70" y="316.99" font-size="9.85" text-anchor="start" fill="#000" font-family="Liberation Sans, Arial, sans-serif" stroke="#000" stroke-width="0.22" >Gemmata</text>
<rect x="538.50" y="318.15" width="10.70" height="9.03" fill="#fcfdff" stroke="none" stroke-width="0.8" />
<rect x="549.20" y="318.15" width="10.70" height="9.03" fill="#fcfdff" stroke="none" stroke-width="0.8" />
<rect x="559.90" y="318.15" width="10.70" height="9.03" fill="#e3ebf5" stroke="none" stroke-width="0.8" />
<rect x="570.60" y="318.15" width="10.70" height="9.03" fill="#e3ebf5" stroke="none" stroke-width="0.8" />
<rect x="581.30" y="318.15" width="10.70" height="9.03" fill="#fcfdff" stroke="none" stroke-width="0.8" />
<text x="593.70" y="326.01" font-size="9.85" text-anchor="start" fill="#000" font-family="Liberation Sans, Arial, sans-serif" stroke="#000" stroke-width="0.22" >Hydrogenophaga</text>
<rect x="538.50" y="327.18" width="10.70" height="9.03" fill="#fcfdff" stroke="none" stroke-width="0.8" />
<rect x="549.20" y="327.18" width="10.70" height="9.03" fill="#e3ebf5" stroke="none" stroke-width="0.8" />
<rect x="559.90" y="327.18" width="10.70" height="9.03" fill="#dce7f2" stroke="none" stroke-width="0.8" />
<rect x="570.60" y="327.18" width="10.70" height="9.03" fill="#fcfdff" stroke="none" stroke-width="0.8" />
<rect x="581.30" y="327.18" width="10.70" height="9.03" fill="#fcfdff" stroke="none" stroke-width="0.8" />
<text x="593.70" y="335.04" font-size="9.85" text-anchor="start" fill="#000" font-family="Liberation Sans, Arial, sans-serif" stroke="#000" stroke-width="0.22" >Chthoniobacter</text>
<rect x="538.50" y="336.20" width="10.70" height="9.03" fill="#fcfdff" stroke="none" stroke-width="0.8" />
<rect x="549.20" y="336.20" width="10.70" height="9.03" fill="#dce7f2" stroke="none" stroke-width="0.8" />
<rect x="559.90" y="336.20" width="10.70" height="9.03" fill="#dce7f2" stroke="none" stroke-width="0.8" />
<rect x="570.60" y="336.20" width="10.70" height="9.03" fill="#f0f4f9" stroke="none" stroke-width="0.8" />
<rect x="581.30" y="336.20" width="10.70" height="9.03" fill="#fcfdff" stroke="none" stroke-width="0.8" />
<text x="593.70" y="344.06" font-size="9.85" text-anchor="start" fill="#000" font-family="Liberation Sans, Arial, sans-serif" stroke="#000" stroke-width="0.22" >Variovorax</text>
<rect x="538.50" y="345.23" width="10.70" height="9.03" fill="#fcfdff" stroke="none" stroke-width="0.8" />
<rect x="549.20" y="345.23" width="10.70" height="9.03" fill="#fcfdff" stroke="none" stroke-width="0.8" />
<rect x="559.90" y="345.23" width="10.70" height="9.03" fill="#fcfdff" stroke="none" stroke-width="0.8" />
<rect x="570.60" y="345.23" width="10.70" height="9.03" fill="#fcfdff" stroke="none" stroke-width="0.8" />
<rect x="581.30" y="345.23" width="10.70" height="9.03" fill="#c4d6e9" stroke="none" stroke-width="0.8" />
<text x="593.70" y="353.09" font-size="9.85" text-anchor="start" fill="#000" font-family="Liberation Sans, Arial, sans-serif" stroke="#000" stroke-width="0.22" >Caenimonas</text>
<rect x="538.50" y="354.25" width="10.70" height="9.03" fill="#fae6eb" stroke="none" stroke-width="0.8" />
<rect x="549.20" y="354.25" width="10.70" height="9.03" fill="#fcfdff" stroke="none" stroke-width="0.8" />
<rect x="559.90" y="354.25" width="10.70" height="9.03" fill="#fcfdff" stroke="none" stroke-width="0.8" />
<rect x="570.60" y="354.25" width="10.70" height="9.03" fill="#fcfdff" stroke="none" stroke-width="0.8" />
<rect x="581.30" y="354.25" width="10.70" height="9.03" fill="#fcfdff" stroke="none" stroke-width="0.8" />
<text x="593.70" y="362.11" font-size="9.85" text-anchor="start" fill="#000" font-family="Liberation Sans, Arial, sans-serif" stroke="#000" stroke-width="0.22" >Mesorhizobium</text>
<rect x="538.50" y="363.28" width="10.70" height="9.03" fill="#fcfdff" stroke="none" stroke-width="0.8" />
<rect x="549.20" y="363.28" width="10.70" height="9.03" fill="#fceff2" stroke="none" stroke-width="0.8" />
<rect x="559.90" y="363.28" width="10.70" height="9.03" fill="#fceff2" stroke="none" stroke-width="0.8" />
<rect x="570.60" y="363.28" width="10.70" height="9.03" fill="#e9f0f7" stroke="none" stroke-width="0.8" />
<rect x="581.30" y="363.28" width="10.70" height="9.03" fill="#fcfdff" stroke="none" stroke-width="0.8" />
<text x="593.70" y="371.14" font-size="9.85" text-anchor="start" fill="#000" font-family="Liberation Sans, Arial, sans-serif" stroke="#000" stroke-width="0.22" >Azoarcus</text>
<rect x="538.50" y="372.30" width="10.70" height="9.03" fill="#fcfdff" stroke="none" stroke-width="0.8" />
<rect x="549.20" y="372.30" width="10.70" height="9.03" fill="#fdf4f6" stroke="none" stroke-width="0.8" />
<rect x="559.90" y="372.30" width="10.70" height="9.03" fill="#fceff2" stroke="none" stroke-width="0.8" />
<rect x="570.60" y="372.30" width="10.70" height="9.03" fill="#fcfdff" stroke="none" stroke-width="0.8" />
<rect x="581.30" y="372.30" width="10.70" height="9.03" fill="#fcfdff" stroke="none" stroke-width="0.8" />
<text x="593.70" y="380.16" font-size="9.85" text-anchor="start" fill="#000" font-family="Liberation Sans, Arial, sans-serif" stroke="#000" stroke-width="0.22" >Flavobacterium</text>
<rect x="538.50" y="381.33" width="10.70" height="9.03" fill="#fcfdff" stroke="none" stroke-width="0.8" />
<rect x="549.20" y="381.33" width="10.70" height="9.03" fill="#fcfdff" stroke="none" stroke-width="0.8" />
<rect x="559.90" y="381.33" width="10.70" height="9.03" fill="#fceff2" stroke="none" stroke-width="0.8" />
<rect x="570.60" y="381.33" width="10.70" height="9.03" fill="#fcfdff" stroke="none" stroke-width="0.8" />
<rect x="581.30" y="381.33" width="10.70" height="9.03" fill="#fcfdff" stroke="none" stroke-width="0.8" />
<text x="593.70" y="389.19" font-size="9.85" text-anchor="start" fill="#000" font-family="Liberation Sans, Arial, sans-serif" stroke="#000" stroke-width="0.22" >RB41</text>
<rect x="538.50" y="390.35" width="10.70" height="9.03" fill="#fcfdff" stroke="none" stroke-width="0.8" />
<rect x="549.20" y="390.35" width="10.70" height="9.03" fill="#fcfdff" stroke="none" stroke-width="0.8" />
<rect x="559.90" y="390.35" width="10.70" height="9.03" fill="#fceff2" stroke="none" stroke-width="0.8" />
<rect x="570.60" y="390.35" width="10.70" height="9.03" fill="#fcfdff" stroke="none" stroke-width="0.8" />
<rect x="581.30" y="390.35" width="10.70" height="9.03" fill="#fcfdff" stroke="none" stroke-width="0.8" />
<text x="593.70" y="398.21" font-size="9.85" text-anchor="start" fill="#000" font-family="Liberation Sans, Arial, sans-serif" stroke="#000" stroke-width="0.22" >Gaiella</text>
<rect x="538.50" y="399.38" width="10.70" height="9.03" fill="#fcfdff" stroke="none" stroke-width="0.8" />
<rect x="549.20" y="399.38" width="10.70" height="9.03" fill="#fcfdff" stroke="none" stroke-width="0.8" />
<rect x="559.90" y="399.38" width="10.70" height="9.03" fill="#fdf6f8" stroke="none" stroke-width="0.8" />
<rect x="570.60" y="399.38" width="10.70" height="9.03" fill="#fcfdff" stroke="none" stroke-width="0.8" />
<rect x="581.30" y="399.38" width="10.70" height="9.03" fill="#fcfdff" stroke="none" stroke-width="0.8" />
<text x="593.70" y="407.24" font-size="9.85" text-anchor="start" fill="#000" font-family="Liberation Sans, Arial, sans-serif" stroke="#000" stroke-width="0.22" >Altererythrobacter</text>
<rect x="538.50" y="408.40" width="10.70" height="9.03" fill="#fcfdff" stroke="none" stroke-width="0.8" />
<rect x="549.20" y="408.40" width="10.70" height="9.03" fill="#fcfdff" stroke="none" stroke-width="0.8" />
<rect x="559.90" y="408.40" width="10.70" height="9.03" fill="#fcfdff" stroke="none" stroke-width="0.8" />
<rect x="570.60" y="408.40" width="10.70" height="9.03" fill="#f0f4f9" stroke="none" stroke-width="0.8" />
<rect x="581.30" y="408.40" width="10.70" height="9.03" fill="#fcfdff" stroke="none" stroke-width="0.8" />
<text x="593.70" y="416.26" font-size="9.85" text-anchor="start" fill="#000" font-family="Liberation Sans, Arial, sans-serif" stroke="#000" stroke-width="0.22" >Ellin6067</text>
<rect x="538.50" y="417.43" width="10.70" height="9.03" fill="#f8dde4" stroke="none" stroke-width="0.8" />
<rect x="549.20" y="417.43" width="10.70" height="9.03" fill="#fcfdff" stroke="none" stroke-width="0.8" />
<rect x="559.90" y="417.43" width="10.70" height="9.03" fill="#fcfdff" stroke="none" stroke-width="0.8" />
<rect x="570.60" y="417.43" width="10.70" height="9.03" fill="#f9e1e7" stroke="none" stroke-width="0.8" />
<rect x="581.30" y="417.43" width="10.70" height="9.03" fill="#fcfdff" stroke="none" stroke-width="0.8" />
<text x="593.70" y="425.29" font-size="9.85" text-anchor="start" fill="#000" font-family="Liberation Sans, Arial, sans-serif" stroke="#000" stroke-width="0.22" >Sphingobium</text>
<rect x="538.50" y="426.45" width="10.70" height="9.03" fill="#fcfdff" stroke="none" stroke-width="0.8" />
<rect x="549.20" y="426.45" width="10.70" height="9.03" fill="#fceff2" stroke="none" stroke-width="0.8" />
<rect x="559.90" y="426.45" width="10.70" height="9.03" fill="#e9f0f7" stroke="none" stroke-width="0.8" />
<rect x="570.60" y="426.45" width="10.70" height="9.03" fill="#fae6eb" stroke="none" stroke-width="0.8" />
<rect x="581.30" y="426.45" width="10.70" height="9.03" fill="#e9f0f7" stroke="none" stroke-width="0.8" />
<text x="593.70" y="434.31" font-size="9.85" text-anchor="start" fill="#000" font-family="Liberation Sans, Arial, sans-serif" stroke="#000" stroke-width="0.22" >Pseudoxanthomonas</text>
<rect x="538.50" y="435.48" width="10.70" height="9.03" fill="#e9f0f7" stroke="none" stroke-width="0.8" />
<rect x="549.20" y="435.48" width="10.70" height="9.03" fill="#fceff2" stroke="none" stroke-width="0.8" />
<rect x="559.90" y="435.48" width="10.70" height="9.03" fill="#e3ebf5" stroke="none" stroke-width="0.8" />
<rect x="570.60" y="435.48" width="10.70" height="9.03" fill="#f8dde4" stroke="none" stroke-width="0.8" />
<rect x="581.30" y="435.48" width="10.70" height="9.03" fill="#fcfdff" stroke="none" stroke-width="0.8" />
<text x="593.70" y="443.34" font-size="9.85" text-anchor="start" fill="#000" font-family="Liberation Sans, Arial, sans-serif" stroke="#000" stroke-width="0.22" >Gemmobacter</text>
<rect x="538.50" y="444.50" width="10.70" height="9.03" fill="#b3cae3" stroke="none" stroke-width="0.8" />
<rect x="549.20" y="444.50" width="10.70" height="9.03" fill="#c4d6e9" stroke="none" stroke-width="0.8" />
<rect x="559.90" y="444.50" width="10.70" height="9.03" fill="#fcfdff" stroke="none" stroke-width="0.8" />
<rect x="570.60" y="444.50" width="10.70" height="9.03" fill="#a2bedd" stroke="none" stroke-width="0.8" />
<rect x="581.30" y="444.50" width="10.70" height="9.03" fill="#bed2e7" stroke="none" stroke-width="0.8" />
<text x="593.70" y="452.36" font-size="9.85" text-anchor="start" fill="#000" font-family="Liberation Sans, Arial, sans-serif" stroke="#000" stroke-width="0.22" >Comamonas</text>
<rect x="538.50" y="453.53" width="10.70" height="9.03" fill="#d6e3f0" stroke="none" stroke-width="0.8" />
<rect x="549.20" y="453.53" width="10.70" height="9.03" fill="#cadaeb" stroke="none" stroke-width="0.8" />
<rect x="559.90" y="453.53" width="10.70" height="9.03" fill="#cadaeb" stroke="none" stroke-width="0.8" />
<rect x="570.60" y="453.53" width="10.70" height="9.03" fill="#fcfdff" stroke="none" stroke-width="0.8" />
<rect x="581.30" y="453.53" width="10.70" height="9.03" fill="#c4d6e9" stroke="none" stroke-width="0.8" />
<text x="593.70" y="461.39" font-size="9.85" text-anchor="start" fill="#000" font-family="Liberation Sans, Arial, sans-serif" stroke="#000" stroke-width="0.22" >Luteolibacter</text>
<rect x="538.50" y="462.55" width="10.70" height="9.03" fill="#f0f4f9" stroke="none" stroke-width="0.8" />
<rect x="549.20" y="462.55" width="10.70" height="9.03" fill="#e9f0f7" stroke="none" stroke-width="0.8" />
<rect x="559.90" y="462.55" width="10.70" height="9.03" fill="#cadaeb" stroke="none" stroke-width="0.8" />
<rect x="570.60" y="462.55" width="10.70" height="9.03" fill="#fcfdff" stroke="none" stroke-width="0.8" />
<rect x="581.30" y="462.55" width="10.70" height="9.03" fill="#cadaeb" stroke="none" stroke-width="0.8" />
<text x="593.70" y="470.41" font-size="9.85" text-anchor="start" fill="#000" font-family="Liberation Sans, Arial, sans-serif" stroke="#000" stroke-width="0.22" >Ensifer</text>
<rect x="538.50" y="471.58" width="10.70" height="9.03" fill="#c4d6e9" stroke="none" stroke-width="0.8" />
<rect x="549.20" y="471.58" width="10.70" height="9.03" fill="#9cbbda" stroke="none" stroke-width="0.8" />
<rect x="559.90" y="471.58" width="10.70" height="9.03" fill="#86abd2" stroke="none" stroke-width="0.8" />
<rect x="570.60" y="471.58" width="10.70" height="9.03" fill="#a2bedd" stroke="none" stroke-width="0.8" />
<rect x="581.30" y="471.58" width="10.70" height="9.03" fill="#d0dfee" stroke="none" stroke-width="0.8" />
<text x="593.70" y="479.44" font-size="9.85" text-anchor="start" fill="#000" font-family="Liberation Sans, Arial, sans-serif" stroke="#000" stroke-width="0.22" >Stenotrophomonas</text>
<rect x="538.50" y="480.60" width="10.70" height="9.03" fill="#a2bedd" stroke="none" stroke-width="0.8" />
<rect x="549.20" y="480.60" width="10.70" height="9.03" fill="#91b3d6" stroke="none" stroke-width="0.8" />
<rect x="559.90" y="480.60" width="10.70" height="9.03" fill="#91b3d6" stroke="none" stroke-width="0.8" />
<rect x="570.60" y="480.60" width="10.70" height="9.03" fill="#adc6e1" stroke="none" stroke-width="0.8" />
<rect x="581.30" y="480.60" width="10.70" height="9.03" fill="#adc6e1" stroke="none" stroke-width="0.8" />
<text x="593.70" y="488.46" font-size="9.85" text-anchor="start" fill="#000" font-family="Liberation Sans, Arial, sans-serif" stroke="#000" stroke-width="0.22" >Cupriavidus</text>
<rect x="538.50" y="489.63" width="10.70" height="9.03" fill="#9cbbda" stroke="none" stroke-width="0.8" />
<rect x="549.20" y="489.63" width="10.70" height="9.03" fill="#a2bedd" stroke="none" stroke-width="0.8" />
<rect x="559.90" y="489.63" width="10.70" height="9.03" fill="#a8c2df" stroke="none" stroke-width="0.8" />
<rect x="570.60" y="489.63" width="10.70" height="9.03" fill="#adc6e1" stroke="none" stroke-width="0.8" />
<rect x="581.30" y="489.63" width="10.70" height="9.03" fill="#8cafd4" stroke="none" stroke-width="0.8" />
<text x="593.70" y="497.49" font-size="9.85" text-anchor="start" fill="#000" font-family="Liberation Sans, Arial, sans-serif" stroke="#000" stroke-width="0.22" >Peredibacter</text>
<rect x="538.50" y="498.65" width="10.70" height="9.03" fill="#c4d6e9" stroke="none" stroke-width="0.8" />
<rect x="549.20" y="498.65" width="10.70" height="9.03" fill="#b3cae3" stroke="none" stroke-width="0.8" />
<rect x="559.90" y="498.65" width="10.70" height="9.03" fill="#8cafd4" stroke="none" stroke-width="0.8" />
<rect x="570.60" y="498.65" width="10.70" height="9.03" fill="#d0dfee" stroke="none" stroke-width="0.8" />
<rect x="581.30" y="498.65" width="10.70" height="9.03" fill="#97b7d8" stroke="none" stroke-width="0.8" />
<text x="593.70" y="506.51" font-size="9.85" text-anchor="start" fill="#000" font-family="Liberation Sans, Arial, sans-serif" stroke="#000" stroke-width="0.22" >Allorhizobium</text>
<rect x="538.50" y="507.68" width="10.70" height="9.03" fill="#cadaeb" stroke="none" stroke-width="0.8" />
<rect x="549.20" y="507.68" width="10.70" height="9.03" fill="#cadaeb" stroke="none" stroke-width="0.8" />
<rect x="559.90" y="507.68" width="10.70" height="9.03" fill="#adc6e1" stroke="none" stroke-width="0.8" />
<rect x="570.60" y="507.68" width="10.70" height="9.03" fill="#c4d6e9" stroke="none" stroke-width="0.8" />
<rect x="581.30" y="507.68" width="10.70" height="9.03" fill="#a8c2df" stroke="none" stroke-width="0.8" />
<text x="593.70" y="515.54" font-size="9.85" text-anchor="start" fill="#000" font-family="Liberation Sans, Arial, sans-serif" stroke="#000" stroke-width="0.22" >Dyadobacter</text>
<rect x="538.50" y="516.70" width="10.70" height="9.03" fill="#cadaeb" stroke="none" stroke-width="0.8" />
<rect x="549.20" y="516.70" width="10.70" height="9.03" fill="#b9cee5" stroke="none" stroke-width="0.8" />
<rect x="559.90" y="516.70" width="10.70" height="9.03" fill="#bed2e7" stroke="none" stroke-width="0.8" />
<rect x="570.60" y="516.70" width="10.70" height="9.03" fill="#d0dfee" stroke="none" stroke-width="0.8" />
<rect x="581.30" y="516.70" width="10.70" height="9.03" fill="#b3cae3" stroke="none" stroke-width="0.8" />
<text x="593.70" y="524.56" font-size="9.85" text-anchor="start" fill="#000" font-family="Liberation Sans, Arial, sans-serif" stroke="#000" stroke-width="0.22" >Devosia</text>
<rect x="538.50" y="525.73" width="10.70" height="9.03" fill="#fcfdff" stroke="none" stroke-width="0.8" />
<rect x="549.20" y="525.73" width="10.70" height="9.03" fill="#b3cae3" stroke="none" stroke-width="0.8" />
<rect x="559.90" y="525.73" width="10.70" height="9.03" fill="#6695c6" stroke="none" stroke-width="0.8" />
<rect x="570.60" y="525.73" width="10.70" height="9.03" fill="#9cbbda" stroke="none" stroke-width="0.8" />
<rect x="581.30" y="525.73" width="10.70" height="9.03" fill="#a8c2df" stroke="none" stroke-width="0.8" />
<text x="593.70" y="533.59" font-size="9.85" text-anchor="start" fill="#000" font-family="Liberation Sans, Arial, sans-serif" stroke="#000" stroke-width="0.22" >Acinetobacter</text>
<rect x="538.50" y="534.75" width="10.70" height="9.03" fill="#c4d6e9" stroke="none" stroke-width="0.8" />
<rect x="549.20" y="534.75" width="10.70" height="9.03" fill="#bed2e7" stroke="none" stroke-width="0.8" />
<rect x="559.90" y="534.75" width="10.70" height="9.03" fill="#a8c2df" stroke="none" stroke-width="0.8" />
<rect x="570.60" y="534.75" width="10.70" height="9.03" fill="#91b3d6" stroke="none" stroke-width="0.8" />
<rect x="581.30" y="534.75" width="10.70" height="9.03" fill="#5187bf" stroke="none" stroke-width="0.8" />
<text x="593.70" y="542.61" font-size="9.85" text-anchor="start" fill="#000" font-family="Liberation Sans, Arial, sans-serif" stroke="#000" stroke-width="0.22" >Noviherbaspirillum</text>
<rect x="538.50" y="543.77" width="10.70" height="9.03" fill="#cadaeb" stroke="none" stroke-width="0.8" />
<rect x="549.20" y="543.77" width="10.70" height="9.03" fill="#bed2e7" stroke="none" stroke-width="0.8" />
<rect x="559.90" y="543.77" width="10.70" height="9.03" fill="#b3cae3" stroke="none" stroke-width="0.8" />
<rect x="570.60" y="543.77" width="10.70" height="9.03" fill="#9cbbda" stroke="none" stroke-width="0.8" />
<rect x="581.30" y="543.77" width="10.70" height="9.03" fill="#6191c5" stroke="none" stroke-width="0.8" />
<text x="593.70" y="551.64" font-size="9.85" text-anchor="start" fill="#000" font-family="Liberation Sans, Arial, sans-serif" stroke="#000" stroke-width="0.22" >Bacteriovorax</text>
<path d="M538.50,11.30H592.00M538.50,20.33H592.00M538.50,29.35H592.00M538.50,38.38H592.00M538.50,47.40H592.00M538.50,56.42H592.00M538.50,65.45H592.00M538.50,74.48H592.00M538.50,83.50H592.00M538.50,92.53H592.00M538.50,101.55H592.00M538.50,110.58H592.00M538.50,119.60H592.00M538.50,128.62H592.00M538.50,137.65H592.00M538.50,146.68H592.00M538.50,155.70H592.00M538.50,164.73H592.00M538.50,173.75H592.00M538.50,182.78H592.00M538.50,191.80H592.00M538.50,200.83H592.00M538.50,209.85H592.00M538.50,218.88H592.00M538.50,227.90H592.00M538.50,236.93H592.00M538.50,245.95H592.00M538.50,254.98H592.00M538.50,264.00H592.00M538.50,273.03H592.00M538.50,282.05H592.00M538.50,291.08H592.00M538.50,300.10H592.00M538.50,309.12H592.00M538.50,318.15H592.00M538.50,327.18H592.00M538.50,336.20H592.00M538.50,345.23H592.00M538.50,354.25H592.00M538.50,363.28H592.00M538.50,372.30H592.00M538.50,381.33H592.00M538.50,390.35H592.00M538.50,399.38H592.00M538.50,408.40H592.00M538.50,417.43H592.00M538.50,426.45H592.00M538.50,435.48H592.00M538.50,444.50H592.00M538.50,453.53H592.00M538.50,462.55H592.00M538.50,471.58H592.00M538.50,480.60H592.00M538.50,489.63H592.00M538.50,498.65H592.00M538.50,507.68H592.00M538.50,516.70H592.00M538.50,525.73H592.00M538.50,534.75H592.00M538.50,543.77H592.00M538.50,552.80H592.00M538.50,11.30V552.80M549.20,11.30V552.80M559.90,11.30V552.80M570.60,11.30V552.80M581.30,11.30V552.80M592.00,11.30V552.80" stroke="#111" stroke-width="0.85" fill="none"/>
<text x="547.85" y="558.50" font-size="9.5" text-anchor="end" fill="#000" font-family="Liberation Sans, Arial, sans-serif" transform="rotate(-58 547.85 558.50)" stroke="#000" stroke-width="0.22" >Thia/Control</text>
<text x="558.55" y="558.50" font-size="9.5" text-anchor="end" fill="#000" font-family="Liberation Sans, Arial, sans-serif" transform="rotate(-58 558.55 558.50)" stroke="#000" stroke-width="0.22" >Teb/Control</text>
<text x="569.25" y="558.50" font-size="9.5" text-anchor="end" fill="#000" font-family="Liberation Sans, Arial, sans-serif" transform="rotate(-58 569.25 558.50)" stroke="#000" stroke-width="0.22" >Ace/Control</text>
<text x="579.95" y="558.50" font-size="9.5" text-anchor="end" fill="#000" font-family="Liberation Sans, Arial, sans-serif" transform="rotate(-58 579.95 558.50)" stroke="#000" stroke-width="0.22" >Trich/Control</text>
<text x="590.65" y="558.50" font-size="9.5" text-anchor="end" fill="#000" font-family="Liberation Sans, Arial, sans-serif" transform="rotate(-58 590.65 558.50)" stroke="#000" stroke-width="0.22" >Phen/Control</text>
<defs><linearGradient id="cb" x1="0" y1="0" x2="0" y2="1"><stop offset="0" stop-color="#e05c7e"/><stop offset="0.25" stop-color="#f0aabd"/><stop offset="0.5" stop-color="#ffffff"/><stop offset="0.75" stop-color="#8fb0d6"/><stop offset="1" stop-color="#1f5fa8"/></linearGradient></defs>
<rect x="661.10" y="7.10" width="7.90" height="112.40" fill="url(#cb)" stroke="none" stroke-width="0.8" />
<text x="671.60" y="15.20" font-size="8.4" text-anchor="start" fill="#000" font-family="Liberation Sans, Arial, sans-serif" stroke="#000" stroke-width="0.22" >4</text>
<text x="671.60" y="41.10" font-size="8.4" text-anchor="start" fill="#000" font-family="Liberation Sans, Arial, sans-serif" stroke="#000" stroke-width="0.22" >2</text>
<text x="671.60" y="67.00" font-size="8.4" text-anchor="start" fill="#000" font-family="Liberation Sans, Arial, sans-serif" stroke="#000" stroke-width="0.22" >0</text>
<text x="671.60" y="92.90" font-size="8.4" text-anchor="start" fill="#000" font-family="Liberation Sans, Arial, sans-serif" stroke="#000" stroke-width="0.22" >−2</text>
<text x="671.60" y="118.80" font-size="8.4" text-anchor="start" fill="#000" font-family="Liberation Sans, Arial, sans-serif" stroke="#000" stroke-width="0.22" >−4</text>
<path d="M538.50,42.89H537.00V51.91H538.50" fill="none" stroke="#2a2a2a" stroke-width="0.75"/>
<path d="M538.50,33.86H535.20V47.40H537.00" fill="none" stroke="#2a2a2a" stroke-width="0.75"/>
<path d="M538.50,24.84H532.20V40.63H535.20" fill="none" stroke="#2a2a2a" stroke-width="0.75"/>
<path d="M538.50,97.04H537.60V106.06H538.50" fill="none" stroke="#2a2a2a" stroke-width="0.75"/>
<path d="M538.50,88.01H536.90V101.55H537.60" fill="none" stroke="#2a2a2a" stroke-width="0.75"/>
<path d="M536.90,94.78H536.20V115.09H538.50" fill="none" stroke="#2a2a2a" stroke-width="0.75"/>
<path d="M538.50,124.11H537.60V133.14H538.50" fill="none" stroke="#2a2a2a" stroke-width="0.75"/>
<path d="M537.60,128.62H536.50V142.16H538.50" fill="none" stroke="#2a2a2a" stroke-width="0.75"/>
<path d="M538.50,151.19H537.80V160.21H538.50" fill="none" stroke="#2a2a2a" stroke-width="0.75"/>
<path d="M538.50,178.26H537.80V187.29H538.50" fill="none" stroke="#2a2a2a" stroke-width="0.75"/>
<path d="M537.80,182.78H537.80V196.31H538.50" fill="none" stroke="#2a2a2a" stroke-width="0.75"/>
<path d="M538.50,169.24H537.80V189.54H537.80" fill="none" stroke="#2a2a2a" stroke-width="0.75"/>
<path d="M537.80,155.70H537.40V179.39H537.80" fill="none" stroke="#2a2a2a" stroke-width="0.75"/>
<path d="M537.40,167.55H536.70V205.34H538.50" fill="none" stroke="#2a2a2a" stroke-width="0.75"/>
<path d="M538.50,214.36H537.80V223.39H538.50" fill="none" stroke="#2a2a2a" stroke-width="0.75"/>
<path d="M537.80,218.88H537.20V232.41H538.50" fill="none" stroke="#2a2a2a" stroke-width="0.75"/>
<path d="M536.70,186.44H536.00V225.64H537.20" fill="none" stroke="#2a2a2a" stroke-width="0.75"/>
<path d="M536.50,135.39H535.60V206.04H536.00" fill="none" stroke="#2a2a2a" stroke-width="0.75"/>
<path d="M536.20,104.93H535.00V170.72H535.60" fill="none" stroke="#2a2a2a" stroke-width="0.75"/>
<path d="M538.50,78.99H534.40V137.83H535.00" fill="none" stroke="#2a2a2a" stroke-width="0.75"/>
<path d="M538.50,69.96H532.20V108.41H534.40" fill="none" stroke="#2a2a2a" stroke-width="0.75"/>
<path d="M538.50,60.94H531.00V89.18H532.20" fill="none" stroke="#2a2a2a" stroke-width="0.75"/>
<path d="M532.20,32.73H527.80V75.06H531.00" fill="none" stroke="#2a2a2a" stroke-width="0.75"/>
<path d="M538.50,15.81H525.60V53.90H527.80" fill="none" stroke="#2a2a2a" stroke-width="0.75"/>
<path d="M538.50,241.44H534.70V250.46H538.50" fill="none" stroke="#2a2a2a" stroke-width="0.75"/>
<path d="M538.50,259.49H534.70V268.51H538.50" fill="none" stroke="#2a2a2a" stroke-width="0.75"/>
<path d="M534.70,245.95H530.60V264.00H534.70" fill="none" stroke="#2a2a2a" stroke-width="0.75"/>
<path d="M538.50,295.59H537.60V304.61H538.50" fill="none" stroke="#2a2a2a" stroke-width="0.75"/>
<path d="M538.50,322.66H537.60V331.69H538.50" fill="none" stroke="#2a2a2a" stroke-width="0.75"/>
<path d="M537.60,327.18H537.60V340.71H538.50" fill="none" stroke="#2a2a2a" stroke-width="0.75"/>
<path d="M537.60,333.94H537.40V349.74H538.50" fill="none" stroke="#2a2a2a" stroke-width="0.75"/>
<path d="M538.50,313.64H536.70V341.84H537.40" fill="none" stroke="#2a2a2a" stroke-width="0.75"/>
<path d="M537.60,300.10H536.00V327.74H536.70" fill="none" stroke="#2a2a2a" stroke-width="0.75"/>
<path d="M538.50,385.84H537.80V394.86H538.50" fill="none" stroke="#2a2a2a" stroke-width="0.75"/>
<path d="M538.50,376.81H537.80V390.35H537.80" fill="none" stroke="#2a2a2a" stroke-width="0.75"/>
<path d="M537.80,383.58H537.80V403.89H538.50" fill="none" stroke="#2a2a2a" stroke-width="0.75"/>
<path d="M538.50,367.79H537.80V393.73H537.80" fill="none" stroke="#2a2a2a" stroke-width="0.75"/>
<path d="M538.50,358.76H537.30V380.76H537.80" fill="none" stroke="#2a2a2a" stroke-width="0.75"/>
<path d="M537.30,369.76H536.60V412.91H538.50" fill="none" stroke="#2a2a2a" stroke-width="0.75"/>
<path d="M538.50,421.94H537.60V430.96H538.50" fill="none" stroke="#2a2a2a" stroke-width="0.75"/>
<path d="M537.60,426.45H536.40V439.99H538.50" fill="none" stroke="#2a2a2a" stroke-width="0.75"/>
<path d="M536.60,391.34H536.00V433.22H536.40" fill="none" stroke="#2a2a2a" stroke-width="0.75"/>
<path d="M536.00,313.92H535.60V412.28H536.00" fill="none" stroke="#2a2a2a" stroke-width="0.75"/>
<path d="M538.50,286.56H534.40V363.10H535.60" fill="none" stroke="#2a2a2a" stroke-width="0.75"/>
<path d="M538.50,277.54H532.00V324.83H534.40" fill="none" stroke="#2a2a2a" stroke-width="0.75"/>
<path d="M538.50,458.04H535.60V467.06H538.50" fill="none" stroke="#2a2a2a" stroke-width="0.75"/>
<path d="M538.50,449.01H533.60V462.55H535.60" fill="none" stroke="#2a2a2a" stroke-width="0.75"/>
<path d="M538.50,485.11H535.80V494.14H538.50" fill="none" stroke="#2a2a2a" stroke-width="0.75"/>
<path d="M538.50,476.09H534.60V489.62H535.80" fill="none" stroke="#2a2a2a" stroke-width="0.75"/>
<path d="M538.50,503.16H537.20V512.19H538.50" fill="none" stroke="#2a2a2a" stroke-width="0.75"/>
<path d="M537.20,507.68H535.40V521.21H538.50" fill="none" stroke="#2a2a2a" stroke-width="0.75"/>
<path d="M538.50,539.26H536.60V548.29H538.50" fill="none" stroke="#2a2a2a" stroke-width="0.75"/>
<path d="M538.50,530.24H535.20V543.77H536.60" fill="none" stroke="#2a2a2a" stroke-width="0.75"/>
<path d="M535.40,514.44H533.80V537.01H535.20" fill="none" stroke="#2a2a2a" stroke-width="0.75"/>
<path d="M534.60,482.86H532.60V525.72H533.80" fill="none" stroke="#2a2a2a" stroke-width="0.75"/>
<path d="M533.60,455.78H531.40V504.29H532.60" fill="none" stroke="#2a2a2a" stroke-width="0.75"/>
<path d="M532.00,301.18H528.10V480.04H531.40" fill="none" stroke="#2a2a2a" stroke-width="0.75"/>
<path d="M530.60,254.98H522.40V390.61H528.10" fill="none" stroke="#2a2a2a" stroke-width="0.75"/>
<path d="M525.60,34.86H513.70V322.79H522.40" fill="none" stroke="#2a2a2a" stroke-width="0.75"/>
<text x="2.20" y="167.70" font-size="18" text-anchor="start" fill="#000" font-family="Liberation Serif, Times New Roman, serif" font-weight="bold" >e</text>
<rect x="32.00" y="166.30" width="257.20" height="108.00" fill="#fff" stroke="#777" stroke-width="0.8" />
<line x1="32.00" y1="166.30" x2="32.00" y2="274.30" stroke="#555" stroke-width="0.9" />
<line x1="27.80" y1="274.30" x2="289.20" y2="274.30" stroke="#2a2a2a" stroke-width="0.9" />
<line x1="27.80" y1="166.30" x2="32.40" y2="166.30" stroke="#2a2a2a" stroke-width="0.9" />
<line x1="27.80" y1="274.30" x2="32.00" y2="274.30" stroke="#2a2a2a" stroke-width="0.8" />
<text x="26.30" y="276.80" font-size="6.8" text-anchor="end" fill="#000" font-family="Liberation Sans, Arial, sans-serif" stroke="#000" stroke-width="0.22" >0</text>
<line x1="27.80" y1="252.70" x2="32.00" y2="252.70" stroke="#2a2a2a" stroke-width="0.8" />
<text x="26.30" y="255.20" font-size="6.8" text-anchor="end" fill="#000" font-family="Liberation Sans, Arial, sans-serif" stroke="#000" stroke-width="0.22" >2</text>
<line x1="27.80" y1="231.10" x2="32.00" y2="231.10" stroke="#2a2a2a" stroke-width="0.8" />
<text x="26.30" y="233.60" font-size="6.8" text-anchor="end" fill="#000" font-family="Liberation Sans, Arial, sans-serif" stroke="#000" stroke-width="0.22" >4</text>
<line x1="27.80" y1="209.50" x2="32.00" y2="209.50" stroke="#2a2a2a" stroke-width="0.8" />
<text x="26.30" y="212.00" font-size="6.8" text-anchor="end" fill="#000" font-family="Liberation Sans, Arial, sans-serif" stroke="#000" stroke-width="0.22" >6</text>
<line x1="27.80" y1="187.90" x2="32.00" y2="187.90" stroke="#2a2a2a" stroke-width="0.8" />
<text x="26.30" y="190.40" font-size="6.8" text-anchor="end" fill="#000" font-family="Liberation Sans, Arial, sans-serif" stroke="#000" stroke-width="0.22" >8</text>
<line x1="27.80" y1="166.30" x2="32.00" y2="166.30" stroke="#2a2a2a" stroke-width="0.8" />
<text x="26.30" y="168.80" font-size="6.8" text-anchor="end" fill="#000" font-family="Liberation Sans, Arial, sans-serif" stroke="#000" stroke-width="0.22" >10</text>
<text x="17.00" y="225.50" font-size="10" text-anchor="middle" fill="#000" font-family="Liberation Sans, Arial, sans-serif" transform="rotate(-90 17.00 225.50)" stroke="#000" stroke-width="0.22" >Relative abundance (%)</text>
<rect x="36.40" y="206.26" width="8.40" height="68.04" fill="#dbb1af" stroke="#2a2a2a" stroke-width="0.8" />
<line x1="40.60" y1="180.34" x2="40.60" y2="232.18" stroke="#000" stroke-width="0.7" />
<line x1="38.60" y1="180.34" x2="42.60" y2="180.34" stroke="#000" stroke-width="0.7" />
<line x1="38.60" y1="232.18" x2="42.60" y2="232.18" stroke="#000" stroke-width="0.7" />
<circle cx="40.60" cy="255.90" r="1.15" fill="#1a1a1a" stroke="none" stroke-width="0" fill-opacity="0.9"/>
<circle cx="37.98" cy="252.43" r="1.15" fill="#1a1a1a" stroke="none" stroke-width="0" fill-opacity="0.9"/>
<circle cx="39.73" cy="253.47" r="1.15" fill="#1a1a1a" stroke="none" stroke-width="0" fill-opacity="0.9"/>
<circle cx="41.48" cy="253.47" r="1.15" fill="#1a1a1a" stroke="none" stroke-width="0" fill-opacity="0.9"/>
<circle cx="43.23" cy="252.43" r="1.15" fill="#1a1a1a" stroke="none" stroke-width="0" fill-opacity="0.9"/>
<circle cx="40.60" cy="238.80" r="1.15" fill="#1a1a1a" stroke="none" stroke-width="0" fill-opacity="0.9"/>
<circle cx="40.60" cy="221.70" r="1.15" fill="#1a1a1a" stroke="none" stroke-width="0" fill-opacity="0.9"/>
<circle cx="39.73" cy="213.57" r="1.15" fill="#1a1a1a" stroke="none" stroke-width="0" fill-opacity="0.9"/>
<circle cx="41.48" cy="213.57" r="1.15" fill="#1a1a1a" stroke="none" stroke-width="0" fill-opacity="0.9"/>
<circle cx="40.60" cy="212.20" r="1.15" fill="#1a1a1a" stroke="none" stroke-width="0" fill-opacity="0.9"/>
<circle cx="40.60" cy="208.40" r="1.15" fill="#1a1a1a" stroke="none" stroke-width="0" fill-opacity="0.9"/>
<circle cx="40.60" cy="204.60" r="1.15" fill="#1a1a1a" stroke="none" stroke-width="0" fill-opacity="0.9"/>
<circle cx="39.73" cy="202.18" r="1.15" fill="#1a1a1a" stroke="none" stroke-width="0" fill-opacity="0.9"/>
<circle cx="41.48" cy="202.18" r="1.15" fill="#1a1a1a" stroke="none" stroke-width="0" fill-opacity="0.9"/>
<circle cx="38.85" cy="197.85" r="1.15" fill="#1a1a1a" stroke="none" stroke-width="0" fill-opacity="0.9"/>
<circle cx="40.60" cy="198.90" r="1.15" fill="#1a1a1a" stroke="none" stroke-width="0" fill-opacity="0.9"/>
<circle cx="42.35" cy="197.85" r="1.15" fill="#1a1a1a" stroke="none" stroke-width="0" fill-opacity="0.9"/>
<circle cx="39.73" cy="196.48" r="1.15" fill="#1a1a1a" stroke="none" stroke-width="0" fill-opacity="0.9"/>
<circle cx="41.48" cy="196.48" r="1.15" fill="#1a1a1a" stroke="none" stroke-width="0" fill-opacity="0.9"/>
<circle cx="40.60" cy="195.10" r="1.15" fill="#1a1a1a" stroke="none" stroke-width="0" fill-opacity="0.9"/>
<circle cx="40.60" cy="193.20" r="1.15" fill="#1a1a1a" stroke="none" stroke-width="0" fill-opacity="0.9"/>
<circle cx="39.73" cy="190.78" r="1.15" fill="#1a1a1a" stroke="none" stroke-width="0" fill-opacity="0.9"/>
<circle cx="41.48" cy="190.78" r="1.15" fill="#1a1a1a" stroke="none" stroke-width="0" fill-opacity="0.9"/>
<circle cx="39.73" cy="188.88" r="1.15" fill="#1a1a1a" stroke="none" stroke-width="0" fill-opacity="0.9"/>
<circle cx="41.48" cy="188.88" r="1.15" fill="#1a1a1a" stroke="none" stroke-width="0" fill-opacity="0.9"/>
<circle cx="40.60" cy="187.50" r="1.15" fill="#1a1a1a" stroke="none" stroke-width="0" fill-opacity="0.9"/>
<circle cx="40.60" cy="185.60" r="1.15" fill="#1a1a1a" stroke="none" stroke-width="0" fill-opacity="0.9"/>
<circle cx="39.73" cy="181.28" r="1.15" fill="#1a1a1a" stroke="none" stroke-width="0" fill-opacity="0.9"/>
<circle cx="41.48" cy="181.28" r="1.15" fill="#1a1a1a" stroke="none" stroke-width="0" fill-opacity="0.9"/>
<circle cx="40.60" cy="178.00" r="1.15" fill="#1a1a1a" stroke="none" stroke-width="0" fill-opacity="0.9"/>
<circle cx="38.85" cy="175.05" r="1.15" fill="#1a1a1a" stroke="none" stroke-width="0" fill-opacity="0.9"/>
<circle cx="40.60" cy="176.10" r="1.15" fill="#1a1a1a" stroke="none" stroke-width="0" fill-opacity="0.9"/>
<circle cx="42.35" cy="175.05" r="1.15" fill="#1a1a1a" stroke="none" stroke-width="0" fill-opacity="0.9"/>
<line x1="40.60" y1="274.30" x2="40.60" y2="278.50" stroke="#2a2a2a" stroke-width="0.8" />
<text x="43.00" y="285.30" font-size="8" text-anchor="end" fill="#000" font-family="Liberation Sans, Arial, sans-serif" transform="rotate(-45 43.00 285.30)" stroke="#000" stroke-width="0.22" >Lysobacter</text>
<rect x="49.63" y="239.74" width="8.40" height="34.56" fill="#dbb1af" stroke="#2a2a2a" stroke-width="0.8" />
<line x1="53.83" y1="231.10" x2="53.83" y2="248.38" stroke="#000" stroke-width="0.7" />
<line x1="51.83" y1="231.10" x2="55.83" y2="231.10" stroke="#000" stroke-width="0.7" />
<line x1="51.83" y1="248.38" x2="55.83" y2="248.38" stroke="#000" stroke-width="0.7" />
<circle cx="52.08" cy="256.75" r="1.15" fill="#1a1a1a" stroke="none" stroke-width="0" fill-opacity="0.9"/>
<circle cx="53.83" cy="257.80" r="1.15" fill="#1a1a1a" stroke="none" stroke-width="0" fill-opacity="0.9"/>
<circle cx="55.58" cy="256.75" r="1.15" fill="#1a1a1a" stroke="none" stroke-width="0" fill-opacity="0.9"/>
<circle cx="52.95" cy="255.38" r="1.15" fill="#1a1a1a" stroke="none" stroke-width="0" fill-opacity="0.9"/>
<circle cx="54.70" cy="255.38" r="1.15" fill="#1a1a1a" stroke="none" stroke-width="0" fill-opacity="0.9"/>
<circle cx="53.83" cy="246.40" r="1.15" fill="#1a1a1a" stroke="none" stroke-width="0" fill-opacity="0.9"/>
<circle cx="52.95" cy="243.97" r="1.15" fill="#1a1a1a" stroke="none" stroke-width="0" fill-opacity="0.9"/>
<circle cx="54.70" cy="243.97" r="1.15" fill="#1a1a1a" stroke="none" stroke-width="0" fill-opacity="0.9"/>
<circle cx="53.83" cy="242.60" r="1.15" fill="#1a1a1a" stroke="none" stroke-width="0" fill-opacity="0.9"/>
<circle cx="52.08" cy="239.65" r="1.15" fill="#1a1a1a" stroke="none" stroke-width="0" fill-opacity="0.9"/>
<circle cx="53.83" cy="240.70" r="1.15" fill="#1a1a1a" stroke="none" stroke-width="0" fill-opacity="0.9"/>
<circle cx="55.58" cy="239.65" r="1.15" fill="#1a1a1a" stroke="none" stroke-width="0" fill-opacity="0.9"/>
<circle cx="52.08" cy="237.75" r="1.15" fill="#1a1a1a" stroke="none" stroke-width="0" fill-opacity="0.9"/>
<circle cx="53.83" cy="238.80" r="1.15" fill="#1a1a1a" stroke="none" stroke-width="0" fill-opacity="0.9"/>
<circle cx="55.58" cy="237.75" r="1.15" fill="#1a1a1a" stroke="none" stroke-width="0" fill-opacity="0.9"/>
<circle cx="52.08" cy="235.85" r="1.15" fill="#1a1a1a" stroke="none" stroke-width="0" fill-opacity="0.9"/>
<circle cx="53.83" cy="236.90" r="1.15" fill="#1a1a1a" stroke="none" stroke-width="0" fill-opacity="0.9"/>
<circle cx="55.58" cy="235.85" r="1.15" fill="#1a1a1a" stroke="none" stroke-width="0" fill-opacity="0.9"/>
<circle cx="52.08" cy="233.95" r="1.15" fill="#1a1a1a" stroke="none" stroke-width="0" fill-opacity="0.9"/>
<circle cx="53.83" cy="235.00" r="1.15" fill="#1a1a1a" stroke="none" stroke-width="0" fill-opacity="0.9"/>
<circle cx="55.58" cy="233.95" r="1.15" fill="#1a1a1a" stroke="none" stroke-width="0" fill-opacity="0.9"/>
<circle cx="52.08" cy="232.05" r="1.15" fill="#1a1a1a" stroke="none" stroke-width="0" fill-opacity="0.9"/>
<circle cx="53.83" cy="233.10" r="1.15" fill="#1a1a1a" stroke="none" stroke-width="0" fill-opacity="0.9"/>
<circle cx="55.58" cy="232.05" r="1.15" fill="#1a1a1a" stroke="none" stroke-width="0" fill-opacity="0.9"/>
<circle cx="52.95" cy="230.68" r="1.15" fill="#1a1a1a" stroke="none" stroke-width="0" fill-opacity="0.9"/>
<circle cx="54.70" cy="230.68" r="1.15" fill="#1a1a1a" stroke="none" stroke-width="0" fill-opacity="0.9"/>
<circle cx="52.08" cy="228.25" r="1.15" fill="#1a1a1a" stroke="none" stroke-width="0" fill-opacity="0.9"/>
<circle cx="53.83" cy="229.30" r="1.15" fill="#1a1a1a" stroke="none" stroke-width="0" fill-opacity="0.9"/>
<circle cx="55.58" cy="228.25" r="1.15" fill="#1a1a1a" stroke="none" stroke-width="0" fill-opacity="0.9"/>
<circle cx="53.83" cy="227.40" r="1.15" fill="#1a1a1a" stroke="none" stroke-width="0" fill-opacity="0.9"/>
<line x1="53.83" y1="274.30" x2="53.83" y2="278.50" stroke="#2a2a2a" stroke-width="0.8" />
<text x="56.23" y="285.30" font-size="8" text-anchor="end" fill="#000" font-family="Liberation Sans, Arial, sans-serif" transform="rotate(-45 56.23 285.30)" stroke="#000" stroke-width="0.22" >Sphingomonas</text>
<rect x="62.86" y="253.24" width="8.40" height="21.06" fill="#dbb1af" stroke="#2a2a2a" stroke-width="0.8" />
<line x1="67.06" y1="245.14" x2="67.06" y2="261.34" stroke="#000" stroke-width="0.7" />
<line x1="65.06" y1="245.14" x2="69.06" y2="245.14" stroke="#000" stroke-width="0.7" />
<line x1="65.06" y1="261.34" x2="69.06" y2="261.34" stroke="#000" stroke-width="0.7" />
<circle cx="65.31" cy="264.35" r="1.15" fill="#1a1a1a" stroke="none" stroke-width="0" fill-opacity="0.9"/>
<circle cx="67.06" cy="265.40" r="1.15" fill="#1a1a1a" stroke="none" stroke-width="0" fill-opacity="0.9"/>
<circle cx="68.81" cy="264.35" r="1.15" fill="#1a1a1a" stroke="none" stroke-width="0" fill-opacity="0.9"/>
<circle cx="66.19" cy="262.98" r="1.15" fill="#1a1a1a" stroke="none" stroke-width="0" fill-opacity="0.9"/>
<circle cx="67.94" cy="262.98" r="1.15" fill="#1a1a1a" stroke="none" stroke-width="0" fill-opacity="0.9"/>
<circle cx="65.31" cy="260.55" r="1.15" fill="#1a1a1a" stroke="none" stroke-width="0" fill-opacity="0.9"/>
<circle cx="67.06" cy="261.60" r="1.15" fill="#1a1a1a" stroke="none" stroke-width="0" fill-opacity="0.9"/>
<circle cx="68.81" cy="260.55" r="1.15" fill="#1a1a1a" stroke="none" stroke-width="0" fill-opacity="0.9"/>
<circle cx="67.06" cy="259.70" r="1.15" fill="#1a1a1a" stroke="none" stroke-width="0" fill-opacity="0.9"/>
<circle cx="65.31" cy="256.75" r="1.15" fill="#1a1a1a" stroke="none" stroke-width="0" fill-opacity="0.9"/>
<circle cx="67.06" cy="257.80" r="1.15" fill="#1a1a1a" stroke="none" stroke-width="0" fill-opacity="0.9"/>
<circle cx="68.81" cy="256.75" r="1.15" fill="#1a1a1a" stroke="none" stroke-width="0" fill-opacity="0.9"/>
<circle cx="66.19" cy="255.38" r="1.15" fill="#1a1a1a" stroke="none" stroke-width="0" fill-opacity="0.9"/>
<circle cx="67.94" cy="255.38" r="1.15" fill="#1a1a1a" stroke="none" stroke-width="0" fill-opacity="0.9"/>
<circle cx="65.31" cy="252.95" r="1.15" fill="#1a1a1a" stroke="none" stroke-width="0" fill-opacity="0.9"/>
<circle cx="67.06" cy="254.00" r="1.15" fill="#1a1a1a" stroke="none" stroke-width="0" fill-opacity="0.9"/>
<circle cx="68.81" cy="252.95" r="1.15" fill="#1a1a1a" stroke="none" stroke-width="0" fill-opacity="0.9"/>
<circle cx="65.31" cy="251.05" r="1.15" fill="#1a1a1a" stroke="none" stroke-width="0" fill-opacity="0.9"/>
<circle cx="67.06" cy="252.10" r="1.15" fill="#1a1a1a" stroke="none" stroke-width="0" fill-opacity="0.9"/>
<circle cx="68.81" cy="251.05" r="1.15" fill="#1a1a1a" stroke="none" stroke-width="0" fill-opacity="0.9"/>
<circle cx="65.31" cy="249.15" r="1.15" fill="#1a1a1a" stroke="none" stroke-width="0" fill-opacity="0.9"/>
<circle cx="67.06" cy="250.20" r="1.15" fill="#1a1a1a" stroke="none" stroke-width="0" fill-opacity="0.9"/>
<circle cx="68.81" cy="249.15" r="1.15" fill="#1a1a1a" stroke="none" stroke-width="0" fill-opacity="0.9"/>
<circle cx="66.19" cy="245.88" r="1.15" fill="#1a1a1a" stroke="none" stroke-width="0" fill-opacity="0.9"/>
<circle cx="67.94" cy="245.88" r="1.15" fill="#1a1a1a" stroke="none" stroke-width="0" fill-opacity="0.9"/>
<circle cx="67.06" cy="244.50" r="1.15" fill="#1a1a1a" stroke="none" stroke-width="0" fill-opacity="0.9"/>
<circle cx="67.06" cy="240.70" r="1.15" fill="#1a1a1a" stroke="none" stroke-width="0" fill-opacity="0.9"/>
<circle cx="67.06" cy="238.80" r="1.15" fill="#1a1a1a" stroke="none" stroke-width="0" fill-opacity="0.9"/>
<circle cx="66.19" cy="236.38" r="1.15" fill="#1a1a1a" stroke="none" stroke-width="0" fill-opacity="0.9"/>
<circle cx="67.94" cy="236.38" r="1.15" fill="#1a1a1a" stroke="none" stroke-width="0" fill-opacity="0.9"/>
<line x1="67.06" y1="274.30" x2="67.06" y2="278.50" stroke="#2a2a2a" stroke-width="0.8" />
<text x="69.46" y="285.30" font-size="8" text-anchor="end" fill="#000" font-family="Liberation Sans, Arial, sans-serif" transform="rotate(-45 69.46 285.30)" stroke="#000" stroke-width="0.22" >Pseudoduganella</text>
<rect x="76.09" y="260.26" width="8.40" height="14.04" fill="#dbb1af" stroke="#2a2a2a" stroke-width="0.8" />
<line x1="80.29" y1="255.94" x2="80.29" y2="264.58" stroke="#000" stroke-width="0.7" />
<line x1="78.29" y1="255.94" x2="82.29" y2="255.94" stroke="#000" stroke-width="0.7" />
<line x1="78.29" y1="264.58" x2="82.29" y2="264.58" stroke="#000" stroke-width="0.7" />
<circle cx="76.09" cy="264.78" r="1.15" fill="#1a1a1a" stroke="none" stroke-width="0" fill-opacity="0.9"/>
<circle cx="77.77" cy="265.79" r="1.15" fill="#1a1a1a" stroke="none" stroke-width="0" fill-opacity="0.9"/>
<circle cx="79.45" cy="266.80" r="1.15" fill="#1a1a1a" stroke="none" stroke-width="0" fill-opacity="0.9"/>
<circle cx="81.13" cy="266.80" r="1.15" fill="#1a1a1a" stroke="none" stroke-width="0" fill-opacity="0.9"/>
<circle cx="82.81" cy="265.79" r="1.15" fill="#1a1a1a" stroke="none" stroke-width="0" fill-opacity="0.9"/>
<circle cx="84.49" cy="264.78" r="1.15" fill="#1a1a1a" stroke="none" stroke-width="0" fill-opacity="0.9"/>
<circle cx="78.54" cy="264.35" r="1.15" fill="#1a1a1a" stroke="none" stroke-width="0" fill-opacity="0.9"/>
<circle cx="80.29" cy="265.40" r="1.15" fill="#1a1a1a" stroke="none" stroke-width="0" fill-opacity="0.9"/>
<circle cx="82.04" cy="264.35" r="1.15" fill="#1a1a1a" stroke="none" stroke-width="0" fill-opacity="0.9"/>
<circle cx="80.29" cy="263.50" r="1.15" fill="#1a1a1a" stroke="none" stroke-width="0" fill-opacity="0.9"/>
<circle cx="76.79" cy="259.50" r="1.15" fill="#1a1a1a" stroke="none" stroke-width="0" fill-opacity="0.9"/>
<circle cx="78.54" cy="260.55" r="1.15" fill="#1a1a1a" stroke="none" stroke-width="0" fill-opacity="0.9"/>
<circle cx="80.29" cy="261.60" r="1.15" fill="#1a1a1a" stroke="none" stroke-width="0" fill-opacity="0.9"/>
<circle cx="82.04" cy="260.55" r="1.15" fill="#1a1a1a" stroke="none" stroke-width="0" fill-opacity="0.9"/>
<circle cx="83.79" cy="259.50" r="1.15" fill="#1a1a1a" stroke="none" stroke-width="0" fill-opacity="0.9"/>
<circle cx="76.79" cy="257.60" r="1.15" fill="#1a1a1a" stroke="none" stroke-width="0" fill-opacity="0.9"/>
<circle cx="78.54" cy="258.65" r="1.15" fill="#1a1a1a" stroke="none" stroke-width="0" fill-opacity="0.9"/>
<circle cx="80.29" cy="259.70" r="1.15" fill="#1a1a1a" stroke="none" stroke-width="0" fill-opacity="0.9"/>
<circle cx="82.04" cy="258.65" r="1.15" fill="#1a1a1a" stroke="none" stroke-width="0" fill-opacity="0.9"/>
<circle cx="83.79" cy="257.60" r="1.15" fill="#1a1a1a" stroke="none" stroke-width="0" fill-opacity="0.9"/>
<circle cx="76.79" cy="255.70" r="1.15" fill="#1a1a1a" stroke="none" stroke-width="0" fill-opacity="0.9"/>
<circle cx="78.54" cy="256.75" r="1.15" fill="#1a1a1a" stroke="none" stroke-width="0" fill-opacity="0.9"/>
<circle cx="80.29" cy="257.80" r="1.15" fill="#1a1a1a" stroke="none" stroke-width="0" fill-opacity="0.9"/>
<circle cx="82.04" cy="256.75" r="1.15" fill="#1a1a1a" stroke="none" stroke-width="0" fill-opacity="0.9"/>
<circle cx="83.79" cy="255.70" r="1.15" fill="#1a1a1a" stroke="none" stroke-width="0" fill-opacity="0.9"/>
<circle cx="80.29" cy="255.90" r="1.15" fill="#1a1a1a" stroke="none" stroke-width="0" fill-opacity="0.9"/>
<circle cx="77.66" cy="252.43" r="1.15" fill="#1a1a1a" stroke="none" stroke-width="0" fill-opacity="0.9"/>
<circle cx="79.41" cy="253.47" r="1.15" fill="#1a1a1a" stroke="none" stroke-width="0" fill-opacity="0.9"/>
<circle cx="81.16" cy="253.47" r="1.15" fill="#1a1a1a" stroke="none" stroke-width="0" fill-opacity="0.9"/>
<circle cx="82.91" cy="252.43" r="1.15" fill="#1a1a1a" stroke="none" stroke-width="0" fill-opacity="0.9"/>
<line x1="80.29" y1="274.30" x2="80.29" y2="278.50" stroke="#2a2a2a" stroke-width="0.8" />
<text x="82.69" y="285.30" font-size="8" text-anchor="end" fill="#000" font-family="Liberation Sans, Arial, sans-serif" transform="rotate(-45 82.69 285.30)" stroke="#000" stroke-width="0.22" >Stenotrophobacter</text>
<rect x="89.32" y="264.58" width="8.40" height="9.72" fill="#dbb1af" stroke="#2a2a2a" stroke-width="0.8" />
<line x1="93.52" y1="261.34" x2="93.52" y2="267.82" stroke="#000" stroke-width="0.7" />
<line x1="91.52" y1="261.34" x2="95.52" y2="261.34" stroke="#000" stroke-width="0.7" />
<line x1="91.52" y1="267.82" x2="95.52" y2="267.82" stroke="#000" stroke-width="0.7" />
<circle cx="90.02" cy="269.00" r="1.15" fill="#1a1a1a" stroke="none" stroke-width="0" fill-opacity="0.9"/>
<circle cx="91.77" cy="270.05" r="1.15" fill="#1a1a1a" stroke="none" stroke-width="0" fill-opacity="0.9"/>
<circle cx="93.52" cy="271.10" r="1.15" fill="#1a1a1a" stroke="none" stroke-width="0" fill-opacity="0.9"/>
<circle cx="95.27" cy="270.05" r="1.15" fill="#1a1a1a" stroke="none" stroke-width="0" fill-opacity="0.9"/>
<circle cx="97.02" cy="269.00" r="1.15" fill="#1a1a1a" stroke="none" stroke-width="0" fill-opacity="0.9"/>
<circle cx="93.52" cy="269.20" r="1.15" fill="#1a1a1a" stroke="none" stroke-width="0" fill-opacity="0.9"/>
<circle cx="90.02" cy="265.20" r="1.15" fill="#1a1a1a" stroke="none" stroke-width="0" fill-opacity="0.9"/>
<circle cx="91.77" cy="266.25" r="1.15" fill="#1a1a1a" stroke="none" stroke-width="0" fill-opacity="0.9"/>
<circle cx="93.52" cy="267.30" r="1.15" fill="#1a1a1a" stroke="none" stroke-width="0" fill-opacity="0.9"/>
<circle cx="95.27" cy="266.25" r="1.15" fill="#1a1a1a" stroke="none" stroke-width="0" fill-opacity="0.9"/>
<circle cx="97.02" cy="265.20" r="1.15" fill="#1a1a1a" stroke="none" stroke-width="0" fill-opacity="0.9"/>
<circle cx="89.32" cy="262.88" r="1.15" fill="#1a1a1a" stroke="none" stroke-width="0" fill-opacity="0.9"/>
<circle cx="91.00" cy="263.89" r="1.15" fill="#1a1a1a" stroke="none" stroke-width="0" fill-opacity="0.9"/>
<circle cx="92.68" cy="264.90" r="1.15" fill="#1a1a1a" stroke="none" stroke-width="0" fill-opacity="0.9"/>
<circle cx="94.36" cy="264.90" r="1.15" fill="#1a1a1a" stroke="none" stroke-width="0" fill-opacity="0.9"/>
<circle cx="96.04" cy="263.89" r="1.15" fill="#1a1a1a" stroke="none" stroke-width="0" fill-opacity="0.9"/>
<circle cx="97.72" cy="262.88" r="1.15" fill="#1a1a1a" stroke="none" stroke-width="0" fill-opacity="0.9"/>
<circle cx="89.32" cy="260.98" r="1.15" fill="#1a1a1a" stroke="none" stroke-width="0" fill-opacity="0.9"/>
<circle cx="90.52" cy="261.70" r="1.15" fill="#1a1a1a" stroke="none" stroke-width="0" fill-opacity="0.9"/>
<circle cx="91.72" cy="262.42" r="1.15" fill="#1a1a1a" stroke="none" stroke-width="0" fill-opacity="0.9"/>
<circle cx="92.92" cy="263.14" r="1.15" fill="#1a1a1a" stroke="none" stroke-width="0" fill-opacity="0.9"/>
<circle cx="94.12" cy="263.14" r="1.15" fill="#1a1a1a" stroke="none" stroke-width="0" fill-opacity="0.9"/>
<circle cx="95.32" cy="262.42" r="1.15" fill="#1a1a1a" stroke="none" stroke-width="0" fill-opacity="0.9"/>
<circle cx="96.52" cy="261.70" r="1.15" fill="#1a1a1a" stroke="none" stroke-width="0" fill-opacity="0.9"/>
<circle cx="97.72" cy="260.98" r="1.15" fill="#1a1a1a" stroke="none" stroke-width="0" fill-opacity="0.9"/>
<circle cx="90.02" cy="259.50" r="1.15" fill="#1a1a1a" stroke="none" stroke-width="0" fill-opacity="0.9"/>
<circle cx="91.77" cy="260.55" r="1.15" fill="#1a1a1a" stroke="none" stroke-width="0" fill-opacity="0.9"/>
<circle cx="93.52" cy="261.60" r="1.15" fill="#1a1a1a" stroke="none" stroke-width="0" fill-opacity="0.9"/>
<circle cx="95.27" cy="260.55" r="1.15" fill="#1a1a1a" stroke="none" stroke-width="0" fill-opacity="0.9"/>
<circle cx="97.02" cy="259.50" r="1.15" fill="#1a1a1a" stroke="none" stroke-width="0" fill-opacity="0.9"/>
<line x1="93.52" y1="274.30" x2="93.52" y2="278.50" stroke="#2a2a2a" stroke-width="0.8" />
<text x="95.92" y="285.30" font-size="8" text-anchor="end" fill="#000" font-family="Liberation Sans, Arial, sans-serif" transform="rotate(-45 95.92 285.30)" stroke="#000" stroke-width="0.22" >Arenimonas</text>
<rect x="102.55" y="266.20" width="8.40" height="8.10" fill="#dbb1af" stroke="#2a2a2a" stroke-width="0.8" />
<line x1="106.75" y1="261.88" x2="106.75" y2="270.52" stroke="#000" stroke-width="0.7" />
<line x1="104.75" y1="261.88" x2="108.75" y2="261.88" stroke="#000" stroke-width="0.7" />
<line x1="104.75" y1="270.52" x2="108.75" y2="270.52" stroke="#000" stroke-width="0.7" />
<circle cx="103.25" cy="270.90" r="1.15" fill="#1a1a1a" stroke="none" stroke-width="0" fill-opacity="0.9"/>
<circle cx="105.00" cy="271.95" r="1.15" fill="#1a1a1a" stroke="none" stroke-width="0" fill-opacity="0.9"/>
<circle cx="106.75" cy="273.00" r="1.15" fill="#1a1a1a" stroke="none" stroke-width="0" fill-opacity="0.9"/>
<circle cx="108.50" cy="271.95" r="1.15" fill="#1a1a1a" stroke="none" stroke-width="0" fill-opacity="0.9"/>
<circle cx="110.25" cy="270.90" r="1.15" fill="#1a1a1a" stroke="none" stroke-width="0" fill-opacity="0.9"/>
<circle cx="105.88" cy="270.58" r="1.15" fill="#1a1a1a" stroke="none" stroke-width="0" fill-opacity="0.9"/>
<circle cx="107.62" cy="270.58" r="1.15" fill="#1a1a1a" stroke="none" stroke-width="0" fill-opacity="0.9"/>
<circle cx="105.88" cy="268.68" r="1.15" fill="#1a1a1a" stroke="none" stroke-width="0" fill-opacity="0.9"/>
<circle cx="107.62" cy="268.68" r="1.15" fill="#1a1a1a" stroke="none" stroke-width="0" fill-opacity="0.9"/>
<circle cx="105.88" cy="266.78" r="1.15" fill="#1a1a1a" stroke="none" stroke-width="0" fill-opacity="0.9"/>
<circle cx="107.62" cy="266.78" r="1.15" fill="#1a1a1a" stroke="none" stroke-width="0" fill-opacity="0.9"/>
<circle cx="104.12" cy="263.83" r="1.15" fill="#1a1a1a" stroke="none" stroke-width="0" fill-opacity="0.9"/>
<circle cx="105.88" cy="264.88" r="1.15" fill="#1a1a1a" stroke="none" stroke-width="0" fill-opacity="0.9"/>
<circle cx="107.62" cy="264.88" r="1.15" fill="#1a1a1a" stroke="none" stroke-width="0" fill-opacity="0.9"/>
<circle cx="109.38" cy="263.83" r="1.15" fill="#1a1a1a" stroke="none" stroke-width="0" fill-opacity="0.9"/>
<circle cx="102.55" cy="260.98" r="1.15" fill="#1a1a1a" stroke="none" stroke-width="0" fill-opacity="0.9"/>
<circle cx="103.95" cy="261.82" r="1.15" fill="#1a1a1a" stroke="none" stroke-width="0" fill-opacity="0.9"/>
<circle cx="105.35" cy="262.66" r="1.15" fill="#1a1a1a" stroke="none" stroke-width="0" fill-opacity="0.9"/>
<circle cx="106.75" cy="263.50" r="1.15" fill="#1a1a1a" stroke="none" stroke-width="0" fill-opacity="0.9"/>
<circle cx="108.15" cy="262.66" r="1.15" fill="#1a1a1a" stroke="none" stroke-width="0" fill-opacity="0.9"/>
<circle cx="109.55" cy="261.82" r="1.15" fill="#1a1a1a" stroke="none" stroke-width="0" fill-opacity="0.9"/>
<circle cx="110.95" cy="260.98" r="1.15" fill="#1a1a1a" stroke="none" stroke-width="0" fill-opacity="0.9"/>
<circle cx="105.00" cy="260.55" r="1.15" fill="#1a1a1a" stroke="none" stroke-width="0" fill-opacity="0.9"/>
<circle cx="106.75" cy="261.60" r="1.15" fill="#1a1a1a" stroke="none" stroke-width="0" fill-opacity="0.9"/>
<circle cx="108.50" cy="260.55" r="1.15" fill="#1a1a1a" stroke="none" stroke-width="0" fill-opacity="0.9"/>
<circle cx="105.00" cy="258.65" r="1.15" fill="#1a1a1a" stroke="none" stroke-width="0" fill-opacity="0.9"/>
<circle cx="106.75" cy="259.70" r="1.15" fill="#1a1a1a" stroke="none" stroke-width="0" fill-opacity="0.9"/>
<circle cx="108.50" cy="258.65" r="1.15" fill="#1a1a1a" stroke="none" stroke-width="0" fill-opacity="0.9"/>
<circle cx="105.88" cy="257.28" r="1.15" fill="#1a1a1a" stroke="none" stroke-width="0" fill-opacity="0.9"/>
<circle cx="107.62" cy="257.28" r="1.15" fill="#1a1a1a" stroke="none" stroke-width="0" fill-opacity="0.9"/>
<line x1="106.75" y1="274.30" x2="106.75" y2="278.50" stroke="#2a2a2a" stroke-width="0.8" />
<text x="109.15" y="285.30" font-size="8" text-anchor="end" fill="#000" font-family="Liberation Sans, Arial, sans-serif" transform="rotate(-45 109.15 285.30)" stroke="#000" stroke-width="0.22" >Thermomonas</text>
<rect x="115.78" y="267.82" width="8.40" height="6.48" fill="#dbb1af" stroke="#2a2a2a" stroke-width="0.8" />
<line x1="119.98" y1="265.66" x2="119.98" y2="269.98" stroke="#000" stroke-width="0.7" />
<line x1="117.98" y1="265.66" x2="121.98" y2="265.66" stroke="#000" stroke-width="0.7" />
<line x1="117.98" y1="269.98" x2="121.98" y2="269.98" stroke="#000" stroke-width="0.7" />
<circle cx="117.35" cy="271.43" r="1.15" fill="#1a1a1a" stroke="none" stroke-width="0" fill-opacity="0.9"/>
<circle cx="119.10" cy="272.48" r="1.15" fill="#1a1a1a" stroke="none" stroke-width="0" fill-opacity="0.9"/>
<circle cx="120.85" cy="272.48" r="1.15" fill="#1a1a1a" stroke="none" stroke-width="0" fill-opacity="0.9"/>
<circle cx="122.60" cy="271.43" r="1.15" fill="#1a1a1a" stroke="none" stroke-width="0" fill-opacity="0.9"/>
<circle cx="117.35" cy="269.53" r="1.15" fill="#1a1a1a" stroke="none" stroke-width="0" fill-opacity="0.9"/>
<circle cx="119.10" cy="270.58" r="1.15" fill="#1a1a1a" stroke="none" stroke-width="0" fill-opacity="0.9"/>
<circle cx="120.85" cy="270.58" r="1.15" fill="#1a1a1a" stroke="none" stroke-width="0" fill-opacity="0.9"/>
<circle cx="122.60" cy="269.53" r="1.15" fill="#1a1a1a" stroke="none" stroke-width="0" fill-opacity="0.9"/>
<circle cx="115.78" cy="266.68" r="1.15" fill="#1a1a1a" stroke="none" stroke-width="0" fill-opacity="0.9"/>
<circle cx="116.98" cy="267.40" r="1.15" fill="#1a1a1a" stroke="none" stroke-width="0" fill-opacity="0.9"/>
<circle cx="118.18" cy="268.12" r="1.15" fill="#1a1a1a" stroke="none" stroke-width="0" fill-opacity="0.9"/>
<circle cx="119.38" cy="268.84" r="1.15" fill="#1a1a1a" stroke="none" stroke-width="0" fill-opacity="0.9"/>
<circle cx="120.58" cy="268.84" r="1.15" fill="#1a1a1a" stroke="none" stroke-width="0" fill-opacity="0.9"/>
<circle cx="121.78" cy="268.12" r="1.15" fill="#1a1a1a" stroke="none" stroke-width="0" fill-opacity="0.9"/>
<circle cx="122.98" cy="267.40" r="1.15" fill="#1a1a1a" stroke="none" stroke-width="0" fill-opacity="0.9"/>
<circle cx="124.18" cy="266.68" r="1.15" fill="#1a1a1a" stroke="none" stroke-width="0" fill-opacity="0.9"/>
<circle cx="115.78" cy="264.78" r="1.15" fill="#1a1a1a" stroke="none" stroke-width="0" fill-opacity="0.9"/>
<circle cx="116.98" cy="265.50" r="1.15" fill="#1a1a1a" stroke="none" stroke-width="0" fill-opacity="0.9"/>
<circle cx="118.18" cy="266.22" r="1.15" fill="#1a1a1a" stroke="none" stroke-width="0" fill-opacity="0.9"/>
<circle cx="119.38" cy="266.94" r="1.15" fill="#1a1a1a" stroke="none" stroke-width="0" fill-opacity="0.9"/>
<circle cx="120.58" cy="266.94" r="1.15" fill="#1a1a1a" stroke="none" stroke-width="0" fill-opacity="0.9"/>
<circle cx="121.78" cy="266.22" r="1.15" fill="#1a1a1a" stroke="none" stroke-width="0" fill-opacity="0.9"/>
<circle cx="122.98" cy="265.50" r="1.15" fill="#1a1a1a" stroke="none" stroke-width="0" fill-opacity="0.9"/>
<circle cx="124.18" cy="264.78" r="1.15" fill="#1a1a1a" stroke="none" stroke-width="0" fill-opacity="0.9"/>
<circle cx="115.78" cy="262.88" r="1.15" fill="#1a1a1a" stroke="none" stroke-width="0" fill-opacity="0.9"/>
<circle cx="117.46" cy="263.89" r="1.15" fill="#1a1a1a" stroke="none" stroke-width="0" fill-opacity="0.9"/>
<circle cx="119.14" cy="264.90" r="1.15" fill="#1a1a1a" stroke="none" stroke-width="0" fill-opacity="0.9"/>
<circle cx="120.82" cy="264.90" r="1.15" fill="#1a1a1a" stroke="none" stroke-width="0" fill-opacity="0.9"/>
<circle cx="122.50" cy="263.89" r="1.15" fill="#1a1a1a" stroke="none" stroke-width="0" fill-opacity="0.9"/>
<circle cx="124.18" cy="262.88" r="1.15" fill="#1a1a1a" stroke="none" stroke-width="0" fill-opacity="0.9"/>
<line x1="119.98" y1="274.30" x2="119.98" y2="278.50" stroke="#2a2a2a" stroke-width="0.8" />
<text x="122.38" y="285.30" font-size="8" text-anchor="end" fill="#000" font-family="Liberation Sans, Arial, sans-serif" transform="rotate(-45 122.38 285.30)" stroke="#000" stroke-width="0.22" >Lacibacter</text>
<rect x="129.01" y="267.28" width="8.40" height="7.02" fill="#dbb1af" stroke="#2a2a2a" stroke-width="0.8" />
<line x1="133.21" y1="264.58" x2="133.21" y2="269.98" stroke="#000" stroke-width="0.7" />
<line x1="131.21" y1="264.58" x2="135.21" y2="264.58" stroke="#000" stroke-width="0.7" />
<line x1="131.21" y1="269.98" x2="135.21" y2="269.98" stroke="#000" stroke-width="0.7" />
<circle cx="129.01" cy="268.58" r="1.15" fill="#1a1a1a" stroke="none" stroke-width="0" fill-opacity="0.9"/>
<circle cx="130.41" cy="269.42" r="1.15" fill="#1a1a1a" stroke="none" stroke-width="0" fill-opacity="0.9"/>
<circle cx="131.81" cy="270.26" r="1.15" fill="#1a1a1a" stroke="none" stroke-width="0" fill-opacity="0.9"/>
<circle cx="133.21" cy="271.10" r="1.15" fill="#1a1a1a" stroke="none" stroke-width="0" fill-opacity="0.9"/>
<circle cx="134.61" cy="270.26" r="1.15" fill="#1a1a1a" stroke="none" stroke-width="0" fill-opacity="0.9"/>
<circle cx="136.01" cy="269.42" r="1.15" fill="#1a1a1a" stroke="none" stroke-width="0" fill-opacity="0.9"/>
<circle cx="137.41" cy="268.58" r="1.15" fill="#1a1a1a" stroke="none" stroke-width="0" fill-opacity="0.9"/>
<circle cx="129.01" cy="266.68" r="1.15" fill="#1a1a1a" stroke="none" stroke-width="0" fill-opacity="0.9"/>
<circle cx="130.21" cy="267.40" r="1.15" fill="#1a1a1a" stroke="none" stroke-width="0" fill-opacity="0.9"/>
<circle cx="131.41" cy="268.12" r="1.15" fill="#1a1a1a" stroke="none" stroke-width="0" fill-opacity="0.9"/>
<circle cx="132.61" cy="268.84" r="1.15" fill="#1a1a1a" stroke="none" stroke-width="0" fill-opacity="0.9"/>
<circle cx="133.81" cy="268.84" r="1.15" fill="#1a1a1a" stroke="none" stroke-width="0" fill-opacity="0.9"/>
<circle cx="135.01" cy="268.12" r="1.15" fill="#1a1a1a" stroke="none" stroke-width="0" fill-opacity="0.9"/>
<circle cx="136.21" cy="267.40" r="1.15" fill="#1a1a1a" stroke="none" stroke-width="0" fill-opacity="0.9"/>
<circle cx="137.41" cy="266.68" r="1.15" fill="#1a1a1a" stroke="none" stroke-width="0" fill-opacity="0.9"/>
<circle cx="129.01" cy="264.78" r="1.15" fill="#1a1a1a" stroke="none" stroke-width="0" fill-opacity="0.9"/>
<circle cx="130.69" cy="265.79" r="1.15" fill="#1a1a1a" stroke="none" stroke-width="0" fill-opacity="0.9"/>
<circle cx="132.37" cy="266.80" r="1.15" fill="#1a1a1a" stroke="none" stroke-width="0" fill-opacity="0.9"/>
<circle cx="134.05" cy="266.80" r="1.15" fill="#1a1a1a" stroke="none" stroke-width="0" fill-opacity="0.9"/>
<circle cx="135.73" cy="265.79" r="1.15" fill="#1a1a1a" stroke="none" stroke-width="0" fill-opacity="0.9"/>
<circle cx="137.41" cy="264.78" r="1.15" fill="#1a1a1a" stroke="none" stroke-width="0" fill-opacity="0.9"/>
<circle cx="129.71" cy="263.30" r="1.15" fill="#1a1a1a" stroke="none" stroke-width="0" fill-opacity="0.9"/>
<circle cx="131.46" cy="264.35" r="1.15" fill="#1a1a1a" stroke="none" stroke-width="0" fill-opacity="0.9"/>
<circle cx="133.21" cy="265.40" r="1.15" fill="#1a1a1a" stroke="none" stroke-width="0" fill-opacity="0.9"/>
<circle cx="134.96" cy="264.35" r="1.15" fill="#1a1a1a" stroke="none" stroke-width="0" fill-opacity="0.9"/>
<circle cx="136.71" cy="263.30" r="1.15" fill="#1a1a1a" stroke="none" stroke-width="0" fill-opacity="0.9"/>
<circle cx="130.59" cy="261.93" r="1.15" fill="#1a1a1a" stroke="none" stroke-width="0" fill-opacity="0.9"/>
<circle cx="132.34" cy="262.98" r="1.15" fill="#1a1a1a" stroke="none" stroke-width="0" fill-opacity="0.9"/>
<circle cx="134.09" cy="262.98" r="1.15" fill="#1a1a1a" stroke="none" stroke-width="0" fill-opacity="0.9"/>
<circle cx="135.84" cy="261.93" r="1.15" fill="#1a1a1a" stroke="none" stroke-width="0" fill-opacity="0.9"/>
<line x1="133.21" y1="274.30" x2="133.21" y2="278.50" stroke="#2a2a2a" stroke-width="0.8" />
<text x="135.61" y="285.30" font-size="8" text-anchor="end" fill="#000" font-family="Liberation Sans, Arial, sans-serif" transform="rotate(-45 135.61 285.30)" stroke="#000" stroke-width="0.22" >Qipengyuania</text>
<rect x="142.24" y="268.36" width="8.40" height="5.94" fill="#dbb1af" stroke="#2a2a2a" stroke-width="0.8" />
<line x1="146.44" y1="266.20" x2="146.44" y2="270.52" stroke="#000" stroke-width="0.7" />
<line x1="144.44" y1="266.20" x2="148.44" y2="266.20" stroke="#000" stroke-width="0.7" />
<line x1="144.44" y1="270.52" x2="148.44" y2="270.52" stroke="#000" stroke-width="0.7" />
<circle cx="144.69" cy="271.95" r="1.15" fill="#1a1a1a" stroke="none" stroke-width="0" fill-opacity="0.9"/>
<circle cx="146.44" cy="273.00" r="1.15" fill="#1a1a1a" stroke="none" stroke-width="0" fill-opacity="0.9"/>
<circle cx="148.19" cy="271.95" r="1.15" fill="#1a1a1a" stroke="none" stroke-width="0" fill-opacity="0.9"/>
<circle cx="142.24" cy="268.58" r="1.15" fill="#1a1a1a" stroke="none" stroke-width="0" fill-opacity="0.9"/>
<circle cx="143.08" cy="269.08" r="1.15" fill="#1a1a1a" stroke="none" stroke-width="0" fill-opacity="0.9"/>
<circle cx="143.92" cy="269.59" r="1.15" fill="#1a1a1a" stroke="none" stroke-width="0" fill-opacity="0.9"/>
<circle cx="144.76" cy="270.09" r="1.15" fill="#1a1a1a" stroke="none" stroke-width="0" fill-opacity="0.9"/>
<circle cx="145.60" cy="270.60" r="1.15" fill="#1a1a1a" stroke="none" stroke-width="0" fill-opacity="0.9"/>
<circle cx="146.44" cy="271.10" r="1.15" fill="#1a1a1a" stroke="none" stroke-width="0" fill-opacity="0.9"/>
<circle cx="147.28" cy="270.60" r="1.15" fill="#1a1a1a" stroke="none" stroke-width="0" fill-opacity="0.9"/>
<circle cx="148.12" cy="270.09" r="1.15" fill="#1a1a1a" stroke="none" stroke-width="0" fill-opacity="0.9"/>
<circle cx="148.96" cy="269.59" r="1.15" fill="#1a1a1a" stroke="none" stroke-width="0" fill-opacity="0.9"/>
<circle cx="149.80" cy="269.08" r="1.15" fill="#1a1a1a" stroke="none" stroke-width="0" fill-opacity="0.9"/>
<circle cx="150.64" cy="268.58" r="1.15" fill="#1a1a1a" stroke="none" stroke-width="0" fill-opacity="0.9"/>
<circle cx="143.81" cy="267.63" r="1.15" fill="#1a1a1a" stroke="none" stroke-width="0" fill-opacity="0.9"/>
<circle cx="145.56" cy="268.68" r="1.15" fill="#1a1a1a" stroke="none" stroke-width="0" fill-opacity="0.9"/>
<circle cx="147.31" cy="268.68" r="1.15" fill="#1a1a1a" stroke="none" stroke-width="0" fill-opacity="0.9"/>
<circle cx="149.06" cy="267.63" r="1.15" fill="#1a1a1a" stroke="none" stroke-width="0" fill-opacity="0.9"/>
<circle cx="142.24" cy="264.78" r="1.15" fill="#1a1a1a" stroke="none" stroke-width="0" fill-opacity="0.9"/>
<circle cx="143.64" cy="265.62" r="1.15" fill="#1a1a1a" stroke="none" stroke-width="0" fill-opacity="0.9"/>
<circle cx="145.04" cy="266.46" r="1.15" fill="#1a1a1a" stroke="none" stroke-width="0" fill-opacity="0.9"/>
<circle cx="146.44" cy="267.30" r="1.15" fill="#1a1a1a" stroke="none" stroke-width="0" fill-opacity="0.9"/>
<circle cx="147.84" cy="266.46" r="1.15" fill="#1a1a1a" stroke="none" stroke-width="0" fill-opacity="0.9"/>
<circle cx="149.24" cy="265.62" r="1.15" fill="#1a1a1a" stroke="none" stroke-width="0" fill-opacity="0.9"/>
<circle cx="150.64" cy="264.78" r="1.15" fill="#1a1a1a" stroke="none" stroke-width="0" fill-opacity="0.9"/>
<circle cx="142.94" cy="263.30" r="1.15" fill="#1a1a1a" stroke="none" stroke-width="0" fill-opacity="0.9"/>
<circle cx="144.69" cy="264.35" r="1.15" fill="#1a1a1a" stroke="none" stroke-width="0" fill-opacity="0.9"/>
<circle cx="146.44" cy="265.40" r="1.15" fill="#1a1a1a" stroke="none" stroke-width="0" fill-opacity="0.9"/>
<circle cx="148.19" cy="264.35" r="1.15" fill="#1a1a1a" stroke="none" stroke-width="0" fill-opacity="0.9"/>
<circle cx="149.94" cy="263.30" r="1.15" fill="#1a1a1a" stroke="none" stroke-width="0" fill-opacity="0.9"/>
<line x1="146.44" y1="274.30" x2="146.44" y2="278.50" stroke="#2a2a2a" stroke-width="0.8" />
<text x="148.84" y="285.30" font-size="8" text-anchor="end" fill="#000" font-family="Liberation Sans, Arial, sans-serif" transform="rotate(-45 148.84 285.30)" stroke="#000" stroke-width="0.22" >Aeromicrobium</text>
<rect x="155.47" y="268.90" width="8.40" height="5.40" fill="#dbb1af" stroke="#2a2a2a" stroke-width="0.8" />
<line x1="159.67" y1="266.20" x2="159.67" y2="271.60" stroke="#000" stroke-width="0.7" />
<line x1="157.67" y1="266.20" x2="161.67" y2="266.20" stroke="#000" stroke-width="0.7" />
<line x1="157.67" y1="271.60" x2="161.67" y2="271.60" stroke="#000" stroke-width="0.7" />
<circle cx="155.47" cy="270.48" r="1.15" fill="#1a1a1a" stroke="none" stroke-width="0" fill-opacity="0.9"/>
<circle cx="156.52" cy="271.11" r="1.15" fill="#1a1a1a" stroke="none" stroke-width="0" fill-opacity="0.9"/>
<circle cx="157.57" cy="271.74" r="1.15" fill="#1a1a1a" stroke="none" stroke-width="0" fill-opacity="0.9"/>
<circle cx="158.62" cy="272.37" r="1.15" fill="#1a1a1a" stroke="none" stroke-width="0" fill-opacity="0.9"/>
<circle cx="159.67" cy="273.00" r="1.15" fill="#1a1a1a" stroke="none" stroke-width="0" fill-opacity="0.9"/>
<circle cx="160.72" cy="272.37" r="1.15" fill="#1a1a1a" stroke="none" stroke-width="0" fill-opacity="0.9"/>
<circle cx="161.77" cy="271.74" r="1.15" fill="#1a1a1a" stroke="none" stroke-width="0" fill-opacity="0.9"/>
<circle cx="162.82" cy="271.11" r="1.15" fill="#1a1a1a" stroke="none" stroke-width="0" fill-opacity="0.9"/>
<circle cx="163.87" cy="270.48" r="1.15" fill="#1a1a1a" stroke="none" stroke-width="0" fill-opacity="0.9"/>
<circle cx="156.17" cy="269.00" r="1.15" fill="#1a1a1a" stroke="none" stroke-width="0" fill-opacity="0.9"/>
<circle cx="157.92" cy="270.05" r="1.15" fill="#1a1a1a" stroke="none" stroke-width="0" fill-opacity="0.9"/>
<circle cx="159.67" cy="271.10" r="1.15" fill="#1a1a1a" stroke="none" stroke-width="0" fill-opacity="0.9"/>
<circle cx="161.42" cy="270.05" r="1.15" fill="#1a1a1a" stroke="none" stroke-width="0" fill-opacity="0.9"/>
<circle cx="163.17" cy="269.00" r="1.15" fill="#1a1a1a" stroke="none" stroke-width="0" fill-opacity="0.9"/>
<circle cx="155.47" cy="266.68" r="1.15" fill="#1a1a1a" stroke="none" stroke-width="0" fill-opacity="0.9"/>
<circle cx="156.87" cy="267.52" r="1.15" fill="#1a1a1a" stroke="none" stroke-width="0" fill-opacity="0.9"/>
<circle cx="158.27" cy="268.36" r="1.15" fill="#1a1a1a" stroke="none" stroke-width="0" fill-opacity="0.9"/>
<circle cx="159.67" cy="269.20" r="1.15" fill="#1a1a1a" stroke="none" stroke-width="0" fill-opacity="0.9"/>
<circle cx="161.07" cy="268.36" r="1.15" fill="#1a1a1a" stroke="none" stroke-width="0" fill-opacity="0.9"/>
<circle cx="162.47" cy="267.52" r="1.15" fill="#1a1a1a" stroke="none" stroke-width="0" fill-opacity="0.9"/>
<circle cx="163.87" cy="266.68" r="1.15" fill="#1a1a1a" stroke="none" stroke-width="0" fill-opacity="0.9"/>
<circle cx="155.47" cy="264.78" r="1.15" fill="#1a1a1a" stroke="none" stroke-width="0" fill-opacity="0.9"/>
<circle cx="157.15" cy="265.79" r="1.15" fill="#1a1a1a" stroke="none" stroke-width="0" fill-opacity="0.9"/>
<circle cx="158.83" cy="266.80" r="1.15" fill="#1a1a1a" stroke="none" stroke-width="0" fill-opacity="0.9"/>
<circle cx="160.51" cy="266.80" r="1.15" fill="#1a1a1a" stroke="none" stroke-width="0" fill-opacity="0.9"/>
<circle cx="162.19" cy="265.79" r="1.15" fill="#1a1a1a" stroke="none" stroke-width="0" fill-opacity="0.9"/>
<circle cx="163.87" cy="264.78" r="1.15" fill="#1a1a1a" stroke="none" stroke-width="0" fill-opacity="0.9"/>
<circle cx="158.80" cy="264.88" r="1.15" fill="#1a1a1a" stroke="none" stroke-width="0" fill-opacity="0.9"/>
<circle cx="160.55" cy="264.88" r="1.15" fill="#1a1a1a" stroke="none" stroke-width="0" fill-opacity="0.9"/>
<circle cx="159.67" cy="263.50" r="1.15" fill="#1a1a1a" stroke="none" stroke-width="0" fill-opacity="0.9"/>
<line x1="159.67" y1="274.30" x2="159.67" y2="278.50" stroke="#2a2a2a" stroke-width="0.8" />
<text x="162.07" y="285.30" font-size="8" text-anchor="end" fill="#000" font-family="Liberation Sans, Arial, sans-serif" transform="rotate(-45 162.07 285.30)" stroke="#000" stroke-width="0.22" >Massilia</text>
<rect x="168.70" y="268.90" width="8.40" height="5.40" fill="#dbb1af" stroke="#2a2a2a" stroke-width="0.8" />
<line x1="172.90" y1="266.20" x2="172.90" y2="271.60" stroke="#000" stroke-width="0.7" />
<line x1="170.90" y1="266.20" x2="174.90" y2="266.20" stroke="#000" stroke-width="0.7" />
<line x1="170.90" y1="271.60" x2="174.90" y2="271.60" stroke="#000" stroke-width="0.7" />
<circle cx="168.70" cy="270.48" r="1.15" fill="#1a1a1a" stroke="none" stroke-width="0" fill-opacity="0.9"/>
<circle cx="169.90" cy="271.20" r="1.15" fill="#1a1a1a" stroke="none" stroke-width="0" fill-opacity="0.9"/>
<circle cx="171.10" cy="271.92" r="1.15" fill="#1a1a1a" stroke="none" stroke-width="0" fill-opacity="0.9"/>
<circle cx="172.30" cy="272.64" r="1.15" fill="#1a1a1a" stroke="none" stroke-width="0" fill-opacity="0.9"/>
<circle cx="173.50" cy="272.64" r="1.15" fill="#1a1a1a" stroke="none" stroke-width="0" fill-opacity="0.9"/>
<circle cx="174.70" cy="271.92" r="1.15" fill="#1a1a1a" stroke="none" stroke-width="0" fill-opacity="0.9"/>
<circle cx="175.90" cy="271.20" r="1.15" fill="#1a1a1a" stroke="none" stroke-width="0" fill-opacity="0.9"/>
<circle cx="177.10" cy="270.48" r="1.15" fill="#1a1a1a" stroke="none" stroke-width="0" fill-opacity="0.9"/>
<circle cx="168.70" cy="268.58" r="1.15" fill="#1a1a1a" stroke="none" stroke-width="0" fill-opacity="0.9"/>
<circle cx="169.90" cy="269.30" r="1.15" fill="#1a1a1a" stroke="none" stroke-width="0" fill-opacity="0.9"/>
<circle cx="171.10" cy="270.02" r="1.15" fill="#1a1a1a" stroke="none" stroke-width="0" fill-opacity="0.9"/>
<circle cx="172.30" cy="270.74" r="1.15" fill="#1a1a1a" stroke="none" stroke-width="0" fill-opacity="0.9"/>
<circle cx="173.50" cy="270.74" r="1.15" fill="#1a1a1a" stroke="none" stroke-width="0" fill-opacity="0.9"/>
<circle cx="174.70" cy="270.02" r="1.15" fill="#1a1a1a" stroke="none" stroke-width="0" fill-opacity="0.9"/>
<circle cx="175.90" cy="269.30" r="1.15" fill="#1a1a1a" stroke="none" stroke-width="0" fill-opacity="0.9"/>
<circle cx="177.10" cy="268.58" r="1.15" fill="#1a1a1a" stroke="none" stroke-width="0" fill-opacity="0.9"/>
<circle cx="171.15" cy="268.15" r="1.15" fill="#1a1a1a" stroke="none" stroke-width="0" fill-opacity="0.9"/>
<circle cx="172.90" cy="269.20" r="1.15" fill="#1a1a1a" stroke="none" stroke-width="0" fill-opacity="0.9"/>
<circle cx="174.65" cy="268.15" r="1.15" fill="#1a1a1a" stroke="none" stroke-width="0" fill-opacity="0.9"/>
<circle cx="168.70" cy="264.78" r="1.15" fill="#1a1a1a" stroke="none" stroke-width="0" fill-opacity="0.9"/>
<circle cx="170.10" cy="265.62" r="1.15" fill="#1a1a1a" stroke="none" stroke-width="0" fill-opacity="0.9"/>
<circle cx="171.50" cy="266.46" r="1.15" fill="#1a1a1a" stroke="none" stroke-width="0" fill-opacity="0.9"/>
<circle cx="172.90" cy="267.30" r="1.15" fill="#1a1a1a" stroke="none" stroke-width="0" fill-opacity="0.9"/>
<circle cx="174.30" cy="266.46" r="1.15" fill="#1a1a1a" stroke="none" stroke-width="0" fill-opacity="0.9"/>
<circle cx="175.70" cy="265.62" r="1.15" fill="#1a1a1a" stroke="none" stroke-width="0" fill-opacity="0.9"/>
<circle cx="177.10" cy="264.78" r="1.15" fill="#1a1a1a" stroke="none" stroke-width="0" fill-opacity="0.9"/>
<circle cx="170.28" cy="263.83" r="1.15" fill="#1a1a1a" stroke="none" stroke-width="0" fill-opacity="0.9"/>
<circle cx="172.03" cy="264.88" r="1.15" fill="#1a1a1a" stroke="none" stroke-width="0" fill-opacity="0.9"/>
<circle cx="173.78" cy="264.88" r="1.15" fill="#1a1a1a" stroke="none" stroke-width="0" fill-opacity="0.9"/>
<circle cx="175.53" cy="263.83" r="1.15" fill="#1a1a1a" stroke="none" stroke-width="0" fill-opacity="0.9"/>
<line x1="172.90" y1="274.30" x2="172.90" y2="278.50" stroke="#2a2a2a" stroke-width="0.8" />
<text x="175.30" y="285.30" font-size="8" text-anchor="end" fill="#000" font-family="Liberation Sans, Arial, sans-serif" transform="rotate(-45 175.30 285.30)" stroke="#000" stroke-width="0.22" >Sphingopyxis</text>
<rect x="181.93" y="268.90" width="8.40" height="5.40" fill="#dbb1af" stroke="#2a2a2a" stroke-width="0.8" />
<line x1="186.13" y1="266.20" x2="186.13" y2="271.60" stroke="#000" stroke-width="0.7" />
<line x1="184.13" y1="266.20" x2="188.13" y2="266.20" stroke="#000" stroke-width="0.7" />
<line x1="184.13" y1="271.60" x2="188.13" y2="271.60" stroke="#000" stroke-width="0.7" />
<circle cx="181.93" cy="270.48" r="1.15" fill="#1a1a1a" stroke="none" stroke-width="0" fill-opacity="0.9"/>
<circle cx="183.61" cy="271.49" r="1.15" fill="#1a1a1a" stroke="none" stroke-width="0" fill-opacity="0.9"/>
<circle cx="185.29" cy="272.50" r="1.15" fill="#1a1a1a" stroke="none" stroke-width="0" fill-opacity="0.9"/>
<circle cx="186.97" cy="272.50" r="1.15" fill="#1a1a1a" stroke="none" stroke-width="0" fill-opacity="0.9"/>
<circle cx="188.65" cy="271.49" r="1.15" fill="#1a1a1a" stroke="none" stroke-width="0" fill-opacity="0.9"/>
<circle cx="190.33" cy="270.48" r="1.15" fill="#1a1a1a" stroke="none" stroke-width="0" fill-opacity="0.9"/>
<circle cx="181.93" cy="268.58" r="1.15" fill="#1a1a1a" stroke="none" stroke-width="0" fill-opacity="0.9"/>
<circle cx="183.13" cy="269.30" r="1.15" fill="#1a1a1a" stroke="none" stroke-width="0" fill-opacity="0.9"/>
<circle cx="184.33" cy="270.02" r="1.15" fill="#1a1a1a" stroke="none" stroke-width="0" fill-opacity="0.9"/>
<circle cx="185.53" cy="270.74" r="1.15" fill="#1a1a1a" stroke="none" stroke-width="0" fill-opacity="0.9"/>
<circle cx="186.73" cy="270.74" r="1.15" fill="#1a1a1a" stroke="none" stroke-width="0" fill-opacity="0.9"/>
<circle cx="187.93" cy="270.02" r="1.15" fill="#1a1a1a" stroke="none" stroke-width="0" fill-opacity="0.9"/>
<circle cx="189.13" cy="269.30" r="1.15" fill="#1a1a1a" stroke="none" stroke-width="0" fill-opacity="0.9"/>
<circle cx="190.33" cy="268.58" r="1.15" fill="#1a1a1a" stroke="none" stroke-width="0" fill-opacity="0.9"/>
<circle cx="181.93" cy="266.68" r="1.15" fill="#1a1a1a" stroke="none" stroke-width="0" fill-opacity="0.9"/>
<circle cx="182.86" cy="267.24" r="1.15" fill="#1a1a1a" stroke="none" stroke-width="0" fill-opacity="0.9"/>
<circle cx="183.80" cy="267.80" r="1.15" fill="#1a1a1a" stroke="none" stroke-width="0" fill-opacity="0.9"/>
<circle cx="184.73" cy="268.36" r="1.15" fill="#1a1a1a" stroke="none" stroke-width="0" fill-opacity="0.9"/>
<circle cx="185.66" cy="268.92" r="1.15" fill="#1a1a1a" stroke="none" stroke-width="0" fill-opacity="0.9"/>
<circle cx="186.60" cy="268.92" r="1.15" fill="#1a1a1a" stroke="none" stroke-width="0" fill-opacity="0.9"/>
<circle cx="187.53" cy="268.36" r="1.15" fill="#1a1a1a" stroke="none" stroke-width="0" fill-opacity="0.9"/>
<circle cx="188.46" cy="267.80" r="1.15" fill="#1a1a1a" stroke="none" stroke-width="0" fill-opacity="0.9"/>
<circle cx="189.40" cy="267.24" r="1.15" fill="#1a1a1a" stroke="none" stroke-width="0" fill-opacity="0.9"/>
<circle cx="190.33" cy="266.68" r="1.15" fill="#1a1a1a" stroke="none" stroke-width="0" fill-opacity="0.9"/>
<circle cx="185.25" cy="266.78" r="1.15" fill="#1a1a1a" stroke="none" stroke-width="0" fill-opacity="0.9"/>
<circle cx="187.00" cy="266.78" r="1.15" fill="#1a1a1a" stroke="none" stroke-width="0" fill-opacity="0.9"/>
<circle cx="183.50" cy="263.83" r="1.15" fill="#1a1a1a" stroke="none" stroke-width="0" fill-opacity="0.9"/>
<circle cx="185.25" cy="264.88" r="1.15" fill="#1a1a1a" stroke="none" stroke-width="0" fill-opacity="0.9"/>
<circle cx="187.00" cy="264.88" r="1.15" fill="#1a1a1a" stroke="none" stroke-width="0" fill-opacity="0.9"/>
<circle cx="188.75" cy="263.83" r="1.15" fill="#1a1a1a" stroke="none" stroke-width="0" fill-opacity="0.9"/>
<line x1="186.13" y1="274.30" x2="186.13" y2="278.50" stroke="#2a2a2a" stroke-width="0.8" />
<text x="188.53" y="285.30" font-size="8" text-anchor="end" fill="#000" font-family="Liberation Sans, Arial, sans-serif" transform="rotate(-45 188.53 285.30)" stroke="#000" stroke-width="0.22" >Brevundimonas</text>
<rect x="195.16" y="268.90" width="8.40" height="5.40" fill="#dbb1af" stroke="#2a2a2a" stroke-width="0.8" />
<line x1="199.36" y1="265.12" x2="199.36" y2="272.68" stroke="#000" stroke-width="0.7" />
<line x1="197.36" y1="265.12" x2="201.36" y2="265.12" stroke="#000" stroke-width="0.7" />
<line x1="197.36" y1="272.68" x2="201.36" y2="272.68" stroke="#000" stroke-width="0.7" />
<circle cx="195.16" cy="270.48" r="1.15" fill="#1a1a1a" stroke="none" stroke-width="0" fill-opacity="0.9"/>
<circle cx="195.86" cy="270.90" r="1.15" fill="#1a1a1a" stroke="none" stroke-width="0" fill-opacity="0.9"/>
<circle cx="196.56" cy="271.32" r="1.15" fill="#1a1a1a" stroke="none" stroke-width="0" fill-opacity="0.9"/>
<circle cx="197.26" cy="271.74" r="1.15" fill="#1a1a1a" stroke="none" stroke-width="0" fill-opacity="0.9"/>
<circle cx="197.96" cy="272.16" r="1.15" fill="#1a1a1a" stroke="none" stroke-width="0" fill-opacity="0.9"/>
<circle cx="198.66" cy="272.58" r="1.15" fill="#1a1a1a" stroke="none" stroke-width="0" fill-opacity="0.9"/>
<circle cx="199.36" cy="273.00" r="1.15" fill="#1a1a1a" stroke="none" stroke-width="0" fill-opacity="0.9"/>
<circle cx="200.06" cy="272.58" r="1.15" fill="#1a1a1a" stroke="none" stroke-width="0" fill-opacity="0.9"/>
<circle cx="200.76" cy="272.16" r="1.15" fill="#1a1a1a" stroke="none" stroke-width="0" fill-opacity="0.9"/>
<circle cx="201.46" cy="271.74" r="1.15" fill="#1a1a1a" stroke="none" stroke-width="0" fill-opacity="0.9"/>
<circle cx="202.16" cy="271.32" r="1.15" fill="#1a1a1a" stroke="none" stroke-width="0" fill-opacity="0.9"/>
<circle cx="202.86" cy="270.90" r="1.15" fill="#1a1a1a" stroke="none" stroke-width="0" fill-opacity="0.9"/>
<circle cx="203.56" cy="270.48" r="1.15" fill="#1a1a1a" stroke="none" stroke-width="0" fill-opacity="0.9"/>
<circle cx="195.16" cy="268.58" r="1.15" fill="#1a1a1a" stroke="none" stroke-width="0" fill-opacity="0.9"/>
<circle cx="196.84" cy="269.59" r="1.15" fill="#1a1a1a" stroke="none" stroke-width="0" fill-opacity="0.9"/>
<circle cx="198.52" cy="270.60" r="1.15" fill="#1a1a1a" stroke="none" stroke-width="0" fill-opacity="0.9"/>
<circle cx="200.20" cy="270.60" r="1.15" fill="#1a1a1a" stroke="none" stroke-width="0" fill-opacity="0.9"/>
<circle cx="201.88" cy="269.59" r="1.15" fill="#1a1a1a" stroke="none" stroke-width="0" fill-opacity="0.9"/>
<circle cx="203.56" cy="268.58" r="1.15" fill="#1a1a1a" stroke="none" stroke-width="0" fill-opacity="0.9"/>
<circle cx="199.36" cy="269.20" r="1.15" fill="#1a1a1a" stroke="none" stroke-width="0" fill-opacity="0.9"/>
<circle cx="197.61" cy="266.25" r="1.15" fill="#1a1a1a" stroke="none" stroke-width="0" fill-opacity="0.9"/>
<circle cx="199.36" cy="267.30" r="1.15" fill="#1a1a1a" stroke="none" stroke-width="0" fill-opacity="0.9"/>
<circle cx="201.11" cy="266.25" r="1.15" fill="#1a1a1a" stroke="none" stroke-width="0" fill-opacity="0.9"/>
<circle cx="196.73" cy="263.83" r="1.15" fill="#1a1a1a" stroke="none" stroke-width="0" fill-opacity="0.9"/>
<circle cx="198.48" cy="264.88" r="1.15" fill="#1a1a1a" stroke="none" stroke-width="0" fill-opacity="0.9"/>
<circle cx="200.23" cy="264.88" r="1.15" fill="#1a1a1a" stroke="none" stroke-width="0" fill-opacity="0.9"/>
<circle cx="201.98" cy="263.83" r="1.15" fill="#1a1a1a" stroke="none" stroke-width="0" fill-opacity="0.9"/>
<circle cx="197.61" cy="260.55" r="1.15" fill="#1a1a1a" stroke="none" stroke-width="0" fill-opacity="0.9"/>
<circle cx="199.36" cy="261.60" r="1.15" fill="#1a1a1a" stroke="none" stroke-width="0" fill-opacity="0.9"/>
<circle cx="201.11" cy="260.55" r="1.15" fill="#1a1a1a" stroke="none" stroke-width="0" fill-opacity="0.9"/>
<line x1="199.36" y1="274.30" x2="199.36" y2="278.50" stroke="#2a2a2a" stroke-width="0.8" />
<text x="201.76" y="285.30" font-size="8" text-anchor="end" fill="#000" font-family="Liberation Sans, Arial, sans-serif" transform="rotate(-45 201.76 285.30)" stroke="#000" stroke-width="0.22" >Chryseobacterium</text>
<rect x="208.39" y="270.52" width="8.40" height="3.78" fill="#dbb1af" stroke="#2a2a2a" stroke-width="0.8" />
<line x1="212.59" y1="269.44" x2="212.59" y2="271.60" stroke="#000" stroke-width="0.7" />
<line x1="210.59" y1="269.44" x2="214.59" y2="269.44" stroke="#000" stroke-width="0.7" />
<line x1="210.59" y1="271.60" x2="214.59" y2="271.60" stroke="#000" stroke-width="0.7" />
<circle cx="208.39" cy="270.48" r="1.15" fill="#1a1a1a" stroke="none" stroke-width="0" fill-opacity="0.9"/>
<circle cx="209.59" cy="271.20" r="1.15" fill="#1a1a1a" stroke="none" stroke-width="0" fill-opacity="0.9"/>
<circle cx="210.79" cy="271.92" r="1.15" fill="#1a1a1a" stroke="none" stroke-width="0" fill-opacity="0.9"/>
<circle cx="211.99" cy="272.64" r="1.15" fill="#1a1a1a" stroke="none" stroke-width="0" fill-opacity="0.9"/>
<circle cx="213.19" cy="272.64" r="1.15" fill="#1a1a1a" stroke="none" stroke-width="0" fill-opacity="0.9"/>
<circle cx="214.39" cy="271.92" r="1.15" fill="#1a1a1a" stroke="none" stroke-width="0" fill-opacity="0.9"/>
<circle cx="215.59" cy="271.20" r="1.15" fill="#1a1a1a" stroke="none" stroke-width="0" fill-opacity="0.9"/>
<circle cx="216.79" cy="270.48" r="1.15" fill="#1a1a1a" stroke="none" stroke-width="0" fill-opacity="0.9"/>
<circle cx="208.39" cy="268.58" r="1.15" fill="#1a1a1a" stroke="none" stroke-width="0" fill-opacity="0.9"/>
<circle cx="208.88" cy="268.88" r="1.15" fill="#1a1a1a" stroke="none" stroke-width="0" fill-opacity="0.9"/>
<circle cx="209.38" cy="269.17" r="1.15" fill="#1a1a1a" stroke="none" stroke-width="0" fill-opacity="0.9"/>
<circle cx="209.87" cy="269.47" r="1.15" fill="#1a1a1a" stroke="none" stroke-width="0" fill-opacity="0.9"/>
<circle cx="210.37" cy="269.77" r="1.15" fill="#1a1a1a" stroke="none" stroke-width="0" fill-opacity="0.9"/>
<circle cx="210.86" cy="270.06" r="1.15" fill="#1a1a1a" stroke="none" stroke-width="0" fill-opacity="0.9"/>
<circle cx="211.35" cy="270.36" r="1.15" fill="#1a1a1a" stroke="none" stroke-width="0" fill-opacity="0.9"/>
<circle cx="211.85" cy="270.66" r="1.15" fill="#1a1a1a" stroke="none" stroke-width="0" fill-opacity="0.9"/>
<circle cx="212.34" cy="270.95" r="1.15" fill="#1a1a1a" stroke="none" stroke-width="0" fill-opacity="0.9"/>
<circle cx="212.84" cy="270.95" r="1.15" fill="#1a1a1a" stroke="none" stroke-width="0" fill-opacity="0.9"/>
<circle cx="213.33" cy="270.66" r="1.15" fill="#1a1a1a" stroke="none" stroke-width="0" fill-opacity="0.9"/>
<circle cx="213.83" cy="270.36" r="1.15" fill="#1a1a1a" stroke="none" stroke-width="0" fill-opacity="0.9"/>
<circle cx="214.32" cy="270.06" r="1.15" fill="#1a1a1a" stroke="none" stroke-width="0" fill-opacity="0.9"/>
<circle cx="214.81" cy="269.77" r="1.15" fill="#1a1a1a" stroke="none" stroke-width="0" fill-opacity="0.9"/>
<circle cx="215.31" cy="269.47" r="1.15" fill="#1a1a1a" stroke="none" stroke-width="0" fill-opacity="0.9"/>
<circle cx="215.80" cy="269.17" r="1.15" fill="#1a1a1a" stroke="none" stroke-width="0" fill-opacity="0.9"/>
<circle cx="216.30" cy="268.88" r="1.15" fill="#1a1a1a" stroke="none" stroke-width="0" fill-opacity="0.9"/>
<circle cx="216.79" cy="268.58" r="1.15" fill="#1a1a1a" stroke="none" stroke-width="0" fill-opacity="0.9"/>
<circle cx="209.97" cy="267.63" r="1.15" fill="#1a1a1a" stroke="none" stroke-width="0" fill-opacity="0.9"/>
<circle cx="211.72" cy="268.68" r="1.15" fill="#1a1a1a" stroke="none" stroke-width="0" fill-opacity="0.9"/>
<circle cx="213.47" cy="268.68" r="1.15" fill="#1a1a1a" stroke="none" stroke-width="0" fill-opacity="0.9"/>
<circle cx="215.22" cy="267.63" r="1.15" fill="#1a1a1a" stroke="none" stroke-width="0" fill-opacity="0.9"/>
<line x1="212.59" y1="274.30" x2="212.59" y2="278.50" stroke="#2a2a2a" stroke-width="0.8" />
<text x="214.99" y="285.30" font-size="8" text-anchor="end" fill="#000" font-family="Liberation Sans, Arial, sans-serif" transform="rotate(-45 214.99 285.30)" stroke="#000" stroke-width="0.22" >Bdellovibrio</text>
<rect x="221.62" y="271.06" width="8.40" height="3.24" fill="#dbb1af" stroke="#2a2a2a" stroke-width="0.8" />
<line x1="225.82" y1="269.98" x2="225.82" y2="272.14" stroke="#000" stroke-width="0.7" />
<line x1="223.82" y1="269.98" x2="227.82" y2="269.98" stroke="#000" stroke-width="0.7" />
<line x1="223.82" y1="272.14" x2="227.82" y2="272.14" stroke="#000" stroke-width="0.7" />
<circle cx="221.62" cy="270.48" r="1.15" fill="#1a1a1a" stroke="none" stroke-width="0" fill-opacity="0.9"/>
<circle cx="222.46" cy="270.98" r="1.15" fill="#1a1a1a" stroke="none" stroke-width="0" fill-opacity="0.9"/>
<circle cx="223.30" cy="271.49" r="1.15" fill="#1a1a1a" stroke="none" stroke-width="0" fill-opacity="0.9"/>
<circle cx="224.14" cy="271.99" r="1.15" fill="#1a1a1a" stroke="none" stroke-width="0" fill-opacity="0.9"/>
<circle cx="224.98" cy="272.50" r="1.15" fill="#1a1a1a" stroke="none" stroke-width="0" fill-opacity="0.9"/>
<circle cx="225.82" cy="273.00" r="1.15" fill="#1a1a1a" stroke="none" stroke-width="0" fill-opacity="0.9"/>
<circle cx="226.66" cy="272.50" r="1.15" fill="#1a1a1a" stroke="none" stroke-width="0" fill-opacity="0.9"/>
<circle cx="227.50" cy="271.99" r="1.15" fill="#1a1a1a" stroke="none" stroke-width="0" fill-opacity="0.9"/>
<circle cx="228.34" cy="271.49" r="1.15" fill="#1a1a1a" stroke="none" stroke-width="0" fill-opacity="0.9"/>
<circle cx="229.18" cy="270.98" r="1.15" fill="#1a1a1a" stroke="none" stroke-width="0" fill-opacity="0.9"/>
<circle cx="230.02" cy="270.48" r="1.15" fill="#1a1a1a" stroke="none" stroke-width="0" fill-opacity="0.9"/>
<circle cx="221.62" cy="268.58" r="1.15" fill="#1a1a1a" stroke="none" stroke-width="0" fill-opacity="0.9"/>
<circle cx="222.18" cy="268.92" r="1.15" fill="#1a1a1a" stroke="none" stroke-width="0" fill-opacity="0.9"/>
<circle cx="222.74" cy="269.25" r="1.15" fill="#1a1a1a" stroke="none" stroke-width="0" fill-opacity="0.9"/>
<circle cx="223.30" cy="269.59" r="1.15" fill="#1a1a1a" stroke="none" stroke-width="0" fill-opacity="0.9"/>
<circle cx="223.86" cy="269.92" r="1.15" fill="#1a1a1a" stroke="none" stroke-width="0" fill-opacity="0.9"/>
<circle cx="224.42" cy="270.26" r="1.15" fill="#1a1a1a" stroke="none" stroke-width="0" fill-opacity="0.9"/>
<circle cx="224.98" cy="270.60" r="1.15" fill="#1a1a1a" stroke="none" stroke-width="0" fill-opacity="0.9"/>
<circle cx="225.54" cy="270.93" r="1.15" fill="#1a1a1a" stroke="none" stroke-width="0" fill-opacity="0.9"/>
<circle cx="226.10" cy="270.93" r="1.15" fill="#1a1a1a" stroke="none" stroke-width="0" fill-opacity="0.9"/>
<circle cx="226.66" cy="270.60" r="1.15" fill="#1a1a1a" stroke="none" stroke-width="0" fill-opacity="0.9"/>
<circle cx="227.22" cy="270.26" r="1.15" fill="#1a1a1a" stroke="none" stroke-width="0" fill-opacity="0.9"/>
<circle cx="227.78" cy="269.92" r="1.15" fill="#1a1a1a" stroke="none" stroke-width="0" fill-opacity="0.9"/>
<circle cx="228.34" cy="269.59" r="1.15" fill="#1a1a1a" stroke="none" stroke-width="0" fill-opacity="0.9"/>
<circle cx="228.90" cy="269.25" r="1.15" fill="#1a1a1a" stroke="none" stroke-width="0" fill-opacity="0.9"/>
<circle cx="229.46" cy="268.92" r="1.15" fill="#1a1a1a" stroke="none" stroke-width="0" fill-opacity="0.9"/>
<circle cx="230.02" cy="268.58" r="1.15" fill="#1a1a1a" stroke="none" stroke-width="0" fill-opacity="0.9"/>
<circle cx="224.07" cy="268.15" r="1.15" fill="#1a1a1a" stroke="none" stroke-width="0" fill-opacity="0.9"/>
<circle cx="225.82" cy="269.20" r="1.15" fill="#1a1a1a" stroke="none" stroke-width="0" fill-opacity="0.9"/>
<circle cx="227.57" cy="268.15" r="1.15" fill="#1a1a1a" stroke="none" stroke-width="0" fill-opacity="0.9"/>
<line x1="225.82" y1="274.30" x2="225.82" y2="278.50" stroke="#2a2a2a" stroke-width="0.8" />
<text x="228.22" y="285.30" font-size="8" text-anchor="end" fill="#000" font-family="Liberation Sans, Arial, sans-serif" transform="rotate(-45 228.22 285.30)" stroke="#000" stroke-width="0.22" >Nocardioides</text>
<rect x="234.85" y="271.06" width="8.40" height="3.24" fill="#dbb1af" stroke="#2a2a2a" stroke-width="0.8" />
<line x1="239.05" y1="268.36" x2="239.05" y2="273.76" stroke="#000" stroke-width="0.7" />
<line x1="237.05" y1="268.36" x2="241.05" y2="268.36" stroke="#000" stroke-width="0.7" />
<line x1="237.05" y1="273.76" x2="241.05" y2="273.76" stroke="#000" stroke-width="0.7" />
<circle cx="234.85" cy="272.38" r="1.15" fill="#1a1a1a" stroke="none" stroke-width="0" fill-opacity="0.9"/>
<circle cx="236.53" cy="273.39" r="1.15" fill="#1a1a1a" stroke="none" stroke-width="0" fill-opacity="0.9"/>
<circle cx="238.21" cy="274.00" r="1.15" fill="#1a1a1a" stroke="none" stroke-width="0" fill-opacity="0.9"/>
<circle cx="239.89" cy="274.00" r="1.15" fill="#1a1a1a" stroke="none" stroke-width="0" fill-opacity="0.9"/>
<circle cx="241.57" cy="273.39" r="1.15" fill="#1a1a1a" stroke="none" stroke-width="0" fill-opacity="0.9"/>
<circle cx="243.25" cy="272.38" r="1.15" fill="#1a1a1a" stroke="none" stroke-width="0" fill-opacity="0.9"/>
<circle cx="234.85" cy="270.48" r="1.15" fill="#1a1a1a" stroke="none" stroke-width="0" fill-opacity="0.9"/>
<circle cx="236.53" cy="271.49" r="1.15" fill="#1a1a1a" stroke="none" stroke-width="0" fill-opacity="0.9"/>
<circle cx="238.21" cy="272.50" r="1.15" fill="#1a1a1a" stroke="none" stroke-width="0" fill-opacity="0.9"/>
<circle cx="239.89" cy="272.50" r="1.15" fill="#1a1a1a" stroke="none" stroke-width="0" fill-opacity="0.9"/>
<circle cx="241.57" cy="271.49" r="1.15" fill="#1a1a1a" stroke="none" stroke-width="0" fill-opacity="0.9"/>
<circle cx="243.25" cy="270.48" r="1.15" fill="#1a1a1a" stroke="none" stroke-width="0" fill-opacity="0.9"/>
<circle cx="234.85" cy="268.58" r="1.15" fill="#1a1a1a" stroke="none" stroke-width="0" fill-opacity="0.9"/>
<circle cx="236.53" cy="269.59" r="1.15" fill="#1a1a1a" stroke="none" stroke-width="0" fill-opacity="0.9"/>
<circle cx="238.21" cy="270.60" r="1.15" fill="#1a1a1a" stroke="none" stroke-width="0" fill-opacity="0.9"/>
<circle cx="239.89" cy="270.60" r="1.15" fill="#1a1a1a" stroke="none" stroke-width="0" fill-opacity="0.9"/>
<circle cx="241.57" cy="269.59" r="1.15" fill="#1a1a1a" stroke="none" stroke-width="0" fill-opacity="0.9"/>
<circle cx="243.25" cy="268.58" r="1.15" fill="#1a1a1a" stroke="none" stroke-width="0" fill-opacity="0.9"/>
<circle cx="234.85" cy="266.68" r="1.15" fill="#1a1a1a" stroke="none" stroke-width="0" fill-opacity="0.9"/>
<circle cx="235.90" cy="267.31" r="1.15" fill="#1a1a1a" stroke="none" stroke-width="0" fill-opacity="0.9"/>
<circle cx="236.95" cy="267.94" r="1.15" fill="#1a1a1a" stroke="none" stroke-width="0" fill-opacity="0.9"/>
<circle cx="238.00" cy="268.57" r="1.15" fill="#1a1a1a" stroke="none" stroke-width="0" fill-opacity="0.9"/>
<circle cx="239.05" cy="269.20" r="1.15" fill="#1a1a1a" stroke="none" stroke-width="0" fill-opacity="0.9"/>
<circle cx="240.10" cy="268.57" r="1.15" fill="#1a1a1a" stroke="none" stroke-width="0" fill-opacity="0.9"/>
<circle cx="241.15" cy="267.94" r="1.15" fill="#1a1a1a" stroke="none" stroke-width="0" fill-opacity="0.9"/>
<circle cx="242.20" cy="267.31" r="1.15" fill="#1a1a1a" stroke="none" stroke-width="0" fill-opacity="0.9"/>
<circle cx="243.25" cy="266.68" r="1.15" fill="#1a1a1a" stroke="none" stroke-width="0" fill-opacity="0.9"/>
<circle cx="237.30" cy="266.25" r="1.15" fill="#1a1a1a" stroke="none" stroke-width="0" fill-opacity="0.9"/>
<circle cx="239.05" cy="267.30" r="1.15" fill="#1a1a1a" stroke="none" stroke-width="0" fill-opacity="0.9"/>
<circle cx="240.80" cy="266.25" r="1.15" fill="#1a1a1a" stroke="none" stroke-width="0" fill-opacity="0.9"/>
<line x1="239.05" y1="274.30" x2="239.05" y2="278.50" stroke="#2a2a2a" stroke-width="0.8" />
<text x="241.45" y="285.30" font-size="8" text-anchor="end" fill="#000" font-family="Liberation Sans, Arial, sans-serif" transform="rotate(-45 241.45 285.30)" stroke="#000" stroke-width="0.22" >Fluviicola</text>
<rect x="248.08" y="272.14" width="8.40" height="2.16" fill="#dbb1af" stroke="#2a2a2a" stroke-width="0.8" />
<line x1="252.28" y1="271.49" x2="252.28" y2="272.79" stroke="#000" stroke-width="0.7" />
<line x1="250.28" y1="271.49" x2="254.28" y2="271.49" stroke="#000" stroke-width="0.7" />
<line x1="250.28" y1="272.79" x2="254.28" y2="272.79" stroke="#000" stroke-width="0.7" />
<circle cx="248.08" cy="270.48" r="1.15" fill="#1a1a1a" stroke="none" stroke-width="0" fill-opacity="0.9"/>
<circle cx="248.46" cy="270.71" r="1.15" fill="#1a1a1a" stroke="none" stroke-width="0" fill-opacity="0.9"/>
<circle cx="248.84" cy="270.94" r="1.15" fill="#1a1a1a" stroke="none" stroke-width="0" fill-opacity="0.9"/>
<circle cx="249.23" cy="271.17" r="1.15" fill="#1a1a1a" stroke="none" stroke-width="0" fill-opacity="0.9"/>
<circle cx="249.61" cy="271.40" r="1.15" fill="#1a1a1a" stroke="none" stroke-width="0" fill-opacity="0.9"/>
<circle cx="249.99" cy="271.63" r="1.15" fill="#1a1a1a" stroke="none" stroke-width="0" fill-opacity="0.9"/>
<circle cx="250.37" cy="271.85" r="1.15" fill="#1a1a1a" stroke="none" stroke-width="0" fill-opacity="0.9"/>
<circle cx="250.75" cy="272.08" r="1.15" fill="#1a1a1a" stroke="none" stroke-width="0" fill-opacity="0.9"/>
<circle cx="251.13" cy="272.31" r="1.15" fill="#1a1a1a" stroke="none" stroke-width="0" fill-opacity="0.9"/>
<circle cx="251.52" cy="272.54" r="1.15" fill="#1a1a1a" stroke="none" stroke-width="0" fill-opacity="0.9"/>
<circle cx="251.90" cy="272.77" r="1.15" fill="#1a1a1a" stroke="none" stroke-width="0" fill-opacity="0.9"/>
<circle cx="252.28" cy="273.00" r="1.15" fill="#1a1a1a" stroke="none" stroke-width="0" fill-opacity="0.9"/>
<circle cx="252.66" cy="272.77" r="1.15" fill="#1a1a1a" stroke="none" stroke-width="0" fill-opacity="0.9"/>
<circle cx="253.04" cy="272.54" r="1.15" fill="#1a1a1a" stroke="none" stroke-width="0" fill-opacity="0.9"/>
<circle cx="253.43" cy="272.31" r="1.15" fill="#1a1a1a" stroke="none" stroke-width="0" fill-opacity="0.9"/>
<circle cx="253.81" cy="272.08" r="1.15" fill="#1a1a1a" stroke="none" stroke-width="0" fill-opacity="0.9"/>
<circle cx="254.19" cy="271.85" r="1.15" fill="#1a1a1a" stroke="none" stroke-width="0" fill-opacity="0.9"/>
<circle cx="254.57" cy="271.63" r="1.15" fill="#1a1a1a" stroke="none" stroke-width="0" fill-opacity="0.9"/>
<circle cx="254.95" cy="271.40" r="1.15" fill="#1a1a1a" stroke="none" stroke-width="0" fill-opacity="0.9"/>
<circle cx="255.33" cy="271.17" r="1.15" fill="#1a1a1a" stroke="none" stroke-width="0" fill-opacity="0.9"/>
<circle cx="255.72" cy="270.94" r="1.15" fill="#1a1a1a" stroke="none" stroke-width="0" fill-opacity="0.9"/>
<circle cx="256.10" cy="270.71" r="1.15" fill="#1a1a1a" stroke="none" stroke-width="0" fill-opacity="0.9"/>
<circle cx="256.48" cy="270.48" r="1.15" fill="#1a1a1a" stroke="none" stroke-width="0" fill-opacity="0.9"/>
<circle cx="248.08" cy="268.58" r="1.15" fill="#1a1a1a" stroke="none" stroke-width="0" fill-opacity="0.9"/>
<circle cx="249.48" cy="269.42" r="1.15" fill="#1a1a1a" stroke="none" stroke-width="0" fill-opacity="0.9"/>
<circle cx="250.88" cy="270.26" r="1.15" fill="#1a1a1a" stroke="none" stroke-width="0" fill-opacity="0.9"/>
<circle cx="252.28" cy="271.10" r="1.15" fill="#1a1a1a" stroke="none" stroke-width="0" fill-opacity="0.9"/>
<circle cx="253.68" cy="270.26" r="1.15" fill="#1a1a1a" stroke="none" stroke-width="0" fill-opacity="0.9"/>
<circle cx="255.08" cy="269.42" r="1.15" fill="#1a1a1a" stroke="none" stroke-width="0" fill-opacity="0.9"/>
<circle cx="256.48" cy="268.58" r="1.15" fill="#1a1a1a" stroke="none" stroke-width="0" fill-opacity="0.9"/>
<line x1="252.28" y1="274.30" x2="252.28" y2="278.50" stroke="#2a2a2a" stroke-width="0.8" />
<text x="254.68" y="285.30" font-size="8" text-anchor="end" fill="#000" font-family="Liberation Sans, Arial, sans-serif" transform="rotate(-45 254.68 285.30)" stroke="#000" stroke-width="0.22" >Aridibacter</text>
<rect x="261.31" y="273.00" width="8.40" height="1.30" fill="#dbb1af" stroke="#2a2a2a" stroke-width="0.8" />
<line x1="265.51" y1="272.57" x2="265.51" y2="273.44" stroke="#000" stroke-width="0.7" />
<line x1="263.51" y1="272.57" x2="267.51" y2="272.57" stroke="#000" stroke-width="0.7" />
<line x1="263.51" y1="273.44" x2="267.51" y2="273.44" stroke="#000" stroke-width="0.7" />
<circle cx="261.31" cy="272.38" r="1.15" fill="#1a1a1a" stroke="none" stroke-width="0" fill-opacity="0.9"/>
<circle cx="262.24" cy="272.94" r="1.15" fill="#1a1a1a" stroke="none" stroke-width="0" fill-opacity="0.9"/>
<circle cx="263.18" cy="273.50" r="1.15" fill="#1a1a1a" stroke="none" stroke-width="0" fill-opacity="0.9"/>
<circle cx="264.11" cy="274.00" r="1.15" fill="#1a1a1a" stroke="none" stroke-width="0" fill-opacity="0.9"/>
<circle cx="265.04" cy="274.00" r="1.15" fill="#1a1a1a" stroke="none" stroke-width="0" fill-opacity="0.9"/>
<circle cx="265.98" cy="274.00" r="1.15" fill="#1a1a1a" stroke="none" stroke-width="0" fill-opacity="0.9"/>
<circle cx="266.91" cy="274.00" r="1.15" fill="#1a1a1a" stroke="none" stroke-width="0" fill-opacity="0.9"/>
<circle cx="267.84" cy="273.50" r="1.15" fill="#1a1a1a" stroke="none" stroke-width="0" fill-opacity="0.9"/>
<circle cx="268.78" cy="272.94" r="1.15" fill="#1a1a1a" stroke="none" stroke-width="0" fill-opacity="0.9"/>
<circle cx="269.71" cy="272.38" r="1.15" fill="#1a1a1a" stroke="none" stroke-width="0" fill-opacity="0.9"/>
<circle cx="261.31" cy="270.48" r="1.15" fill="#1a1a1a" stroke="none" stroke-width="0" fill-opacity="0.9"/>
<circle cx="261.75" cy="270.75" r="1.15" fill="#1a1a1a" stroke="none" stroke-width="0" fill-opacity="0.9"/>
<circle cx="262.19" cy="271.01" r="1.15" fill="#1a1a1a" stroke="none" stroke-width="0" fill-opacity="0.9"/>
<circle cx="262.64" cy="271.28" r="1.15" fill="#1a1a1a" stroke="none" stroke-width="0" fill-opacity="0.9"/>
<circle cx="263.08" cy="271.54" r="1.15" fill="#1a1a1a" stroke="none" stroke-width="0" fill-opacity="0.9"/>
<circle cx="263.52" cy="271.81" r="1.15" fill="#1a1a1a" stroke="none" stroke-width="0" fill-opacity="0.9"/>
<circle cx="263.96" cy="272.07" r="1.15" fill="#1a1a1a" stroke="none" stroke-width="0" fill-opacity="0.9"/>
<circle cx="264.40" cy="272.34" r="1.15" fill="#1a1a1a" stroke="none" stroke-width="0" fill-opacity="0.9"/>
<circle cx="264.85" cy="272.60" r="1.15" fill="#1a1a1a" stroke="none" stroke-width="0" fill-opacity="0.9"/>
<circle cx="265.29" cy="272.87" r="1.15" fill="#1a1a1a" stroke="none" stroke-width="0" fill-opacity="0.9"/>
<circle cx="265.73" cy="272.87" r="1.15" fill="#1a1a1a" stroke="none" stroke-width="0" fill-opacity="0.9"/>
<circle cx="266.17" cy="272.60" r="1.15" fill="#1a1a1a" stroke="none" stroke-width="0" fill-opacity="0.9"/>
<circle cx="266.62" cy="272.34" r="1.15" fill="#1a1a1a" stroke="none" stroke-width="0" fill-opacity="0.9"/>
<circle cx="267.06" cy="272.07" r="1.15" fill="#1a1a1a" stroke="none" stroke-width="0" fill-opacity="0.9"/>
<circle cx="267.50" cy="271.81" r="1.15" fill="#1a1a1a" stroke="none" stroke-width="0" fill-opacity="0.9"/>
<circle cx="267.94" cy="271.54" r="1.15" fill="#1a1a1a" stroke="none" stroke-width="0" fill-opacity="0.9"/>
<circle cx="268.38" cy="271.28" r="1.15" fill="#1a1a1a" stroke="none" stroke-width="0" fill-opacity="0.9"/>
<circle cx="268.83" cy="271.01" r="1.15" fill="#1a1a1a" stroke="none" stroke-width="0" fill-opacity="0.9"/>
<circle cx="269.27" cy="270.75" r="1.15" fill="#1a1a1a" stroke="none" stroke-width="0" fill-opacity="0.9"/>
<circle cx="269.71" cy="270.48" r="1.15" fill="#1a1a1a" stroke="none" stroke-width="0" fill-opacity="0.9"/>
<line x1="265.51" y1="274.30" x2="265.51" y2="278.50" stroke="#2a2a2a" stroke-width="0.8" />
<text x="267.91" y="285.30" font-size="8" text-anchor="end" fill="#000" font-family="Liberation Sans, Arial, sans-serif" transform="rotate(-45 267.91 285.30)" stroke="#000" stroke-width="0.22" >Marmoricola</text>
<rect x="274.54" y="273.22" width="8.40" height="1.08" fill="#dbb1af" stroke="#2a2a2a" stroke-width="0.8" />
<line x1="278.74" y1="272.79" x2="278.74" y2="273.65" stroke="#000" stroke-width="0.7" />
<line x1="276.74" y1="272.79" x2="280.74" y2="272.79" stroke="#000" stroke-width="0.7" />
<line x1="276.74" y1="273.65" x2="280.74" y2="273.65" stroke="#000" stroke-width="0.7" />
<circle cx="274.54" cy="272.38" r="1.15" fill="#1a1a1a" stroke="none" stroke-width="0" fill-opacity="0.9"/>
<circle cx="275.14" cy="272.74" r="1.15" fill="#1a1a1a" stroke="none" stroke-width="0" fill-opacity="0.9"/>
<circle cx="275.74" cy="273.10" r="1.15" fill="#1a1a1a" stroke="none" stroke-width="0" fill-opacity="0.9"/>
<circle cx="276.34" cy="273.46" r="1.15" fill="#1a1a1a" stroke="none" stroke-width="0" fill-opacity="0.9"/>
<circle cx="276.94" cy="273.82" r="1.15" fill="#1a1a1a" stroke="none" stroke-width="0" fill-opacity="0.9"/>
<circle cx="277.54" cy="274.00" r="1.15" fill="#1a1a1a" stroke="none" stroke-width="0" fill-opacity="0.9"/>
<circle cx="278.14" cy="274.00" r="1.15" fill="#1a1a1a" stroke="none" stroke-width="0" fill-opacity="0.9"/>
<circle cx="278.74" cy="274.00" r="1.15" fill="#1a1a1a" stroke="none" stroke-width="0" fill-opacity="0.9"/>
<circle cx="279.34" cy="274.00" r="1.15" fill="#1a1a1a" stroke="none" stroke-width="0" fill-opacity="0.9"/>
<circle cx="279.94" cy="274.00" r="1.15" fill="#1a1a1a" stroke="none" stroke-width="0" fill-opacity="0.9"/>
<circle cx="280.54" cy="273.82" r="1.15" fill="#1a1a1a" stroke="none" stroke-width="0" fill-opacity="0.9"/>
<circle cx="281.14" cy="273.46" r="1.15" fill="#1a1a1a" stroke="none" stroke-width="0" fill-opacity="0.9"/>
<circle cx="281.74" cy="273.10" r="1.15" fill="#1a1a1a" stroke="none" stroke-width="0" fill-opacity="0.9"/>
<circle cx="282.34" cy="272.74" r="1.15" fill="#1a1a1a" stroke="none" stroke-width="0" fill-opacity="0.9"/>
<circle cx="282.94" cy="272.38" r="1.15" fill="#1a1a1a" stroke="none" stroke-width="0" fill-opacity="0.9"/>
<circle cx="274.54" cy="270.48" r="1.15" fill="#1a1a1a" stroke="none" stroke-width="0" fill-opacity="0.9"/>
<circle cx="275.14" cy="270.84" r="1.15" fill="#1a1a1a" stroke="none" stroke-width="0" fill-opacity="0.9"/>
<circle cx="275.74" cy="271.20" r="1.15" fill="#1a1a1a" stroke="none" stroke-width="0" fill-opacity="0.9"/>
<circle cx="276.34" cy="271.56" r="1.15" fill="#1a1a1a" stroke="none" stroke-width="0" fill-opacity="0.9"/>
<circle cx="276.94" cy="271.92" r="1.15" fill="#1a1a1a" stroke="none" stroke-width="0" fill-opacity="0.9"/>
<circle cx="277.54" cy="272.28" r="1.15" fill="#1a1a1a" stroke="none" stroke-width="0" fill-opacity="0.9"/>
<circle cx="278.14" cy="272.64" r="1.15" fill="#1a1a1a" stroke="none" stroke-width="0" fill-opacity="0.9"/>
<circle cx="278.74" cy="273.00" r="1.15" fill="#1a1a1a" stroke="none" stroke-width="0" fill-opacity="0.9"/>
<circle cx="279.34" cy="272.64" r="1.15" fill="#1a1a1a" stroke="none" stroke-width="0" fill-opacity="0.9"/>
<circle cx="279.94" cy="272.28" r="1.15" fill="#1a1a1a" stroke="none" stroke-width="0" fill-opacity="0.9"/>
<circle cx="280.54" cy="271.92" r="1.15" fill="#1a1a1a" stroke="none" stroke-width="0" fill-opacity="0.9"/>
<circle cx="281.14" cy="271.56" r="1.15" fill="#1a1a1a" stroke="none" stroke-width="0" fill-opacity="0.9"/>
<circle cx="281.74" cy="271.20" r="1.15" fill="#1a1a1a" stroke="none" stroke-width="0" fill-opacity="0.9"/>
<circle cx="282.34" cy="270.84" r="1.15" fill="#1a1a1a" stroke="none" stroke-width="0" fill-opacity="0.9"/>
<circle cx="282.94" cy="270.48" r="1.15" fill="#1a1a1a" stroke="none" stroke-width="0" fill-opacity="0.9"/>
<line x1="278.74" y1="274.30" x2="278.74" y2="278.50" stroke="#2a2a2a" stroke-width="0.8" />
<text x="281.14" y="285.30" font-size="8" text-anchor="end" fill="#000" font-family="Liberation Sans, Arial, sans-serif" transform="rotate(-45 281.14 285.30)" stroke="#000" stroke-width="0.22" >OM27_clade</text>
<text x="295.60" y="173.80" font-size="18" text-anchor="start" fill="#000" font-family="Liberation Serif, Times New Roman, serif" font-weight="bold" >f</text>
<rect x="331.20" y="165.50" width="162.40" height="108.00" fill="#fff" stroke="#777" stroke-width="0.8" />
<line x1="331.20" y1="165.50" x2="331.20" y2="273.50" stroke="#555" stroke-width="0.9" />
<line x1="327.00" y1="273.50" x2="493.60" y2="273.50" stroke="#2a2a2a" stroke-width="0.9" />
<line x1="327.00" y1="165.50" x2="331.60" y2="165.50" stroke="#2a2a2a" stroke-width="0.9" />
<line x1="327.00" y1="273.50" x2="331.20" y2="273.50" stroke="#2a2a2a" stroke-width="0.8" />
<text x="325.60" y="276.10" font-size="7.4" text-anchor="end" fill="#000" font-family="Liberation Sans, Arial, sans-serif" stroke="#000" stroke-width="0.22" >0</text>
<line x1="327.00" y1="251.90" x2="331.20" y2="251.90" stroke="#2a2a2a" stroke-width="0.8" />
<text x="325.60" y="254.50" font-size="7.4" text-anchor="end" fill="#000" font-family="Liberation Sans, Arial, sans-serif" stroke="#000" stroke-width="0.22" >2</text>
<line x1="327.00" y1="230.30" x2="331.20" y2="230.30" stroke="#2a2a2a" stroke-width="0.8" />
<text x="325.60" y="232.90" font-size="7.4" text-anchor="end" fill="#000" font-family="Liberation Sans, Arial, sans-serif" stroke="#000" stroke-width="0.22" >4</text>
<line x1="327.00" y1="208.70" x2="331.20" y2="208.70" stroke="#2a2a2a" stroke-width="0.8" />
<text x="325.60" y="211.30" font-size="7.4" text-anchor="end" fill="#000" font-family="Liberation Sans, Arial, sans-serif" stroke="#000" stroke-width="0.22" >6</text>
<line x1="327.00" y1="187.10" x2="331.20" y2="187.10" stroke="#2a2a2a" stroke-width="0.8" />
<text x="325.60" y="189.70" font-size="7.4" text-anchor="end" fill="#000" font-family="Liberation Sans, Arial, sans-serif" stroke="#000" stroke-width="0.22" >8</text>
<line x1="327.00" y1="165.50" x2="331.20" y2="165.50" stroke="#2a2a2a" stroke-width="0.8" />
<text x="325.60" y="168.10" font-size="7.4" text-anchor="end" fill="#000" font-family="Liberation Sans, Arial, sans-serif" stroke="#000" stroke-width="0.22" >10</text>
<text x="314.00" y="220.00" font-size="10" text-anchor="middle" fill="#000" font-family="Liberation Sans, Arial, sans-serif" transform="rotate(-90 314.00 220.00)" stroke="#000" stroke-width="0.22" >Relative abundance (%)</text>
<rect x="336.95" y="253.52" width="8.50" height="19.98" fill="#dbb1af" stroke="#2a2a2a" stroke-width="0.8" />
<line x1="341.20" y1="252.66" x2="341.20" y2="254.38" stroke="#000" stroke-width="0.7" />
<line x1="338.80" y1="252.66" x2="343.60" y2="252.66" stroke="#000" stroke-width="0.7" />
<line x1="338.80" y1="254.38" x2="343.60" y2="254.38" stroke="#000" stroke-width="0.7" />
<circle cx="338.65" cy="253.29" r="1.2" fill="#1c1c1c" stroke="none" stroke-width="0.5" />
<circle cx="340.35" cy="253.06" r="1.2" fill="#1c1c1c" stroke="none" stroke-width="0.5" />
<circle cx="342.05" cy="252.96" r="1.2" fill="#1c1c1c" stroke="none" stroke-width="0.5" />
<circle cx="343.75" cy="252.68" r="1.2" fill="#1c1c1c" stroke="none" stroke-width="0.5" />
<line x1="341.20" y1="273.50" x2="341.20" y2="277.70" stroke="#2a2a2a" stroke-width="0.8" />
<text x="343.80" y="284.70" font-size="8" text-anchor="end" fill="#000" font-family="Liberation Sans, Arial, sans-serif" transform="rotate(-45 343.80 284.70)" stroke="#000" stroke-width="0.22" >Control</text>
<rect x="349.05" y="198.98" width="8.50" height="74.52" fill="#dbb1af" stroke="#2a2a2a" stroke-width="0.8" />
<line x1="353.30" y1="185.48" x2="353.30" y2="212.48" stroke="#000" stroke-width="0.7" />
<line x1="350.90" y1="185.48" x2="355.70" y2="185.48" stroke="#000" stroke-width="0.7" />
<line x1="350.90" y1="212.48" x2="355.70" y2="212.48" stroke="#000" stroke-width="0.7" />
<circle cx="350.75" cy="191.86" r="1.2" fill="#1c1c1c" stroke="none" stroke-width="0.5" />
<circle cx="352.45" cy="186.44" r="1.2" fill="#1c1c1c" stroke="none" stroke-width="0.5" />
<circle cx="354.15" cy="212.97" r="1.2" fill="#1c1c1c" stroke="none" stroke-width="0.5" />
<circle cx="355.85" cy="200.00" r="1.2" fill="#1c1c1c" stroke="none" stroke-width="0.5" />
<text x="353.30" y="185.98" font-size="7.6" text-anchor="middle" fill="#000" font-family="Liberation Sans, Arial, sans-serif" stroke="#000" stroke-width="0.22" >**</text>
<line x1="353.30" y1="273.50" x2="353.30" y2="277.70" stroke="#2a2a2a" stroke-width="0.8" />
<text x="355.90" y="284.70" font-size="8" text-anchor="end" fill="#000" font-family="Liberation Sans, Arial, sans-serif" transform="rotate(-45 355.90 284.70)" stroke="#000" stroke-width="0.22" >Thia</text>
<rect x="361.15" y="193.58" width="8.50" height="79.92" fill="#dbb1af" stroke="#2a2a2a" stroke-width="0.8" />
<line x1="365.40" y1="188.72" x2="365.40" y2="198.44" stroke="#000" stroke-width="0.7" />
<line x1="363.00" y1="188.72" x2="367.80" y2="188.72" stroke="#000" stroke-width="0.7" />
<line x1="363.00" y1="198.44" x2="367.80" y2="198.44" stroke="#000" stroke-width="0.7" />
<circle cx="362.85" cy="188.84" r="1.2" fill="#1c1c1c" stroke="none" stroke-width="0.5" />
<circle cx="364.55" cy="191.99" r="1.2" fill="#1c1c1c" stroke="none" stroke-width="0.5" />
<circle cx="366.25" cy="189.29" r="1.2" fill="#1c1c1c" stroke="none" stroke-width="0.5" />
<circle cx="367.95" cy="197.72" r="1.2" fill="#1c1c1c" stroke="none" stroke-width="0.5" />
<text x="365.40" y="189.22" font-size="7.6" text-anchor="middle" fill="#000" font-family="Liberation Sans, Arial, sans-serif" stroke="#000" stroke-width="0.22" >**</text>
<line x1="365.40" y1="273.50" x2="365.40" y2="277.70" stroke="#2a2a2a" stroke-width="0.8" />
<text x="368.00" y="284.70" font-size="8" text-anchor="end" fill="#000" font-family="Liberation Sans, Arial, sans-serif" transform="rotate(-45 368.00 284.70)" stroke="#000" stroke-width="0.22" >Teb</text>
<rect x="373.25" y="190.88" width="8.50" height="82.62" fill="#dbb1af" stroke="#2a2a2a" stroke-width="0.8" />
<line x1="377.50" y1="183.32" x2="377.50" y2="198.44" stroke="#000" stroke-width="0.7" />
<line x1="375.10" y1="183.32" x2="379.90" y2="183.32" stroke="#000" stroke-width="0.7" />
<line x1="375.10" y1="198.44" x2="379.90" y2="198.44" stroke="#000" stroke-width="0.7" />
<circle cx="374.95" cy="191.39" r="1.2" fill="#1c1c1c" stroke="none" stroke-width="0.5" />
<circle cx="376.65" cy="195.10" r="1.2" fill="#1c1c1c" stroke="none" stroke-width="0.5" />
<circle cx="378.35" cy="190.15" r="1.2" fill="#1c1c1c" stroke="none" stroke-width="0.5" />
<circle cx="380.05" cy="189.65" r="1.2" fill="#1c1c1c" stroke="none" stroke-width="0.5" />
<text x="377.50" y="183.82" font-size="7.6" text-anchor="middle" fill="#000" font-family="Liberation Sans, Arial, sans-serif" stroke="#000" stroke-width="0.22" >**</text>
<line x1="377.50" y1="273.50" x2="377.50" y2="277.70" stroke="#2a2a2a" stroke-width="0.8" />
<text x="380.10" y="284.70" font-size="8" text-anchor="end" fill="#000" font-family="Liberation Sans, Arial, sans-serif" transform="rotate(-45 380.10 284.70)" stroke="#000" stroke-width="0.22" >Ace</text>
<rect x="385.35" y="180.62" width="8.50" height="92.88" fill="#dbb1af" stroke="#2a2a2a" stroke-width="0.8" />
<line x1="389.60" y1="175.22" x2="389.60" y2="186.02" stroke="#000" stroke-width="0.7" />
<line x1="387.20" y1="175.22" x2="392.00" y2="175.22" stroke="#000" stroke-width="0.7" />
<line x1="387.20" y1="186.02" x2="392.00" y2="186.02" stroke="#000" stroke-width="0.7" />
<circle cx="387.05" cy="186.40" r="1.2" fill="#1c1c1c" stroke="none" stroke-width="0.5" />
<circle cx="388.75" cy="183.99" r="1.2" fill="#1c1c1c" stroke="none" stroke-width="0.5" />
<circle cx="390.45" cy="183.24" r="1.2" fill="#1c1c1c" stroke="none" stroke-width="0.5" />
<circle cx="392.15" cy="175.67" r="1.2" fill="#1c1c1c" stroke="none" stroke-width="0.5" />
<text x="389.60" y="175.72" font-size="7.6" text-anchor="middle" fill="#000" font-family="Liberation Sans, Arial, sans-serif" stroke="#000" stroke-width="0.22" >**</text>
<line x1="389.60" y1="273.50" x2="389.60" y2="277.70" stroke="#2a2a2a" stroke-width="0.8" />
<text x="392.20" y="284.70" font-size="8" text-anchor="end" fill="#000" font-family="Liberation Sans, Arial, sans-serif" transform="rotate(-45 392.20 284.70)" stroke="#000" stroke-width="0.22" >Trich</text>
<rect x="397.45" y="213.56" width="8.50" height="59.94" fill="#dbb1af" stroke="#2a2a2a" stroke-width="0.8" />
<line x1="401.70" y1="198.44" x2="401.70" y2="228.68" stroke="#000" stroke-width="0.7" />
<line x1="399.30" y1="198.44" x2="404.10" y2="198.44" stroke="#000" stroke-width="0.7" />
<line x1="399.30" y1="228.68" x2="404.10" y2="228.68" stroke="#000" stroke-width="0.7" />
<circle cx="399.15" cy="204.72" r="1.2" fill="#1c1c1c" stroke="none" stroke-width="0.5" />
<circle cx="400.85" cy="224.88" r="1.2" fill="#1c1c1c" stroke="none" stroke-width="0.5" />
<circle cx="402.55" cy="203.68" r="1.2" fill="#1c1c1c" stroke="none" stroke-width="0.5" />
<circle cx="404.25" cy="225.58" r="1.2" fill="#1c1c1c" stroke="none" stroke-width="0.5" />
<text x="401.70" y="198.94" font-size="7.6" text-anchor="middle" fill="#000" font-family="Liberation Sans, Arial, sans-serif" stroke="#000" stroke-width="0.22" >**</text>
<line x1="401.70" y1="273.50" x2="401.70" y2="277.70" stroke="#2a2a2a" stroke-width="0.8" />
<text x="404.30" y="284.70" font-size="8" text-anchor="end" fill="#000" font-family="Liberation Sans, Arial, sans-serif" transform="rotate(-45 404.30 284.70)" stroke="#000" stroke-width="0.22" >Phen</text>
<text x="355.90" y="307.20" font-size="9.2" text-anchor="middle" fill="#000" font-family="Liberation Sans, Arial, sans-serif" stroke="#000" stroke-width="0.22" >Lysobacter</text>
<rect x="419.50" y="255.68" width="8.50" height="17.82" fill="#86a8d8" stroke="#2a2a2a" stroke-width="0.8" />
<line x1="423.75" y1="254.82" x2="423.75" y2="256.54" stroke="#000" stroke-width="0.7" />
<line x1="421.35" y1="254.82" x2="426.15" y2="254.82" stroke="#000" stroke-width="0.7" />
<line x1="421.35" y1="256.54" x2="426.15" y2="256.54" stroke="#000" stroke-width="0.7" />
<circle cx="421.20" cy="255.46" r="1.2" fill="#1c1c1c" stroke="none" stroke-width="0.5" />
<circle cx="422.90" cy="256.39" r="1.2" fill="#1c1c1c" stroke="none" stroke-width="0.5" />
<circle cx="424.60" cy="256.63" r="1.2" fill="#1c1c1c" stroke="none" stroke-width="0.5" />
<circle cx="426.30" cy="254.97" r="1.2" fill="#1c1c1c" stroke="none" stroke-width="0.5" />
<line x1="423.75" y1="273.50" x2="423.75" y2="277.70" stroke="#2a2a2a" stroke-width="0.8" />
<text x="426.35" y="284.70" font-size="8" text-anchor="end" fill="#000" font-family="Liberation Sans, Arial, sans-serif" transform="rotate(-45 426.35 284.70)" stroke="#000" stroke-width="0.22" >Control</text>
<rect x="431.57" y="237.86" width="8.50" height="35.64" fill="#86a8d8" stroke="#2a2a2a" stroke-width="0.8" />
<line x1="435.82" y1="235.16" x2="435.82" y2="240.56" stroke="#000" stroke-width="0.7" />
<line x1="433.42" y1="235.16" x2="438.22" y2="235.16" stroke="#000" stroke-width="0.7" />
<line x1="433.42" y1="240.56" x2="438.22" y2="240.56" stroke="#000" stroke-width="0.7" />
<circle cx="433.27" cy="239.59" r="1.2" fill="#1c1c1c" stroke="none" stroke-width="0.5" />
<circle cx="434.97" cy="239.55" r="1.2" fill="#1c1c1c" stroke="none" stroke-width="0.5" />
<circle cx="436.67" cy="234.99" r="1.2" fill="#1c1c1c" stroke="none" stroke-width="0.5" />
<circle cx="438.37" cy="235.65" r="1.2" fill="#1c1c1c" stroke="none" stroke-width="0.5" />
<text x="435.82" y="235.66" font-size="7.6" text-anchor="middle" fill="#000" font-family="Liberation Sans, Arial, sans-serif" stroke="#000" stroke-width="0.22" >**</text>
<line x1="435.82" y1="273.50" x2="435.82" y2="277.70" stroke="#2a2a2a" stroke-width="0.8" />
<text x="438.42" y="284.70" font-size="8" text-anchor="end" fill="#000" font-family="Liberation Sans, Arial, sans-serif" transform="rotate(-45 438.42 284.70)" stroke="#000" stroke-width="0.22" >Thia</text>
<rect x="443.64" y="228.14" width="8.50" height="45.36" fill="#86a8d8" stroke="#2a2a2a" stroke-width="0.8" />
<line x1="447.89" y1="225.44" x2="447.89" y2="230.84" stroke="#000" stroke-width="0.7" />
<line x1="445.49" y1="225.44" x2="450.29" y2="225.44" stroke="#000" stroke-width="0.7" />
<line x1="445.49" y1="230.84" x2="450.29" y2="230.84" stroke="#000" stroke-width="0.7" />
<circle cx="445.34" cy="229.39" r="1.2" fill="#1c1c1c" stroke="none" stroke-width="0.5" />
<circle cx="447.04" cy="225.40" r="1.2" fill="#1c1c1c" stroke="none" stroke-width="0.5" />
<circle cx="448.74" cy="227.91" r="1.2" fill="#1c1c1c" stroke="none" stroke-width="0.5" />
<circle cx="450.44" cy="227.08" r="1.2" fill="#1c1c1c" stroke="none" stroke-width="0.5" />
<text x="447.89" y="225.94" font-size="7.6" text-anchor="middle" fill="#000" font-family="Liberation Sans, Arial, sans-serif" stroke="#000" stroke-width="0.22" >**</text>
<line x1="447.89" y1="273.50" x2="447.89" y2="277.70" stroke="#2a2a2a" stroke-width="0.8" />
<text x="450.49" y="284.70" font-size="8" text-anchor="end" fill="#000" font-family="Liberation Sans, Arial, sans-serif" transform="rotate(-45 450.49 284.70)" stroke="#000" stroke-width="0.22" >Teb</text>
<rect x="455.71" y="234.62" width="8.50" height="38.88" fill="#86a8d8" stroke="#2a2a2a" stroke-width="0.8" />
<line x1="459.96" y1="233.00" x2="459.96" y2="236.24" stroke="#000" stroke-width="0.7" />
<line x1="457.56" y1="233.00" x2="462.36" y2="233.00" stroke="#000" stroke-width="0.7" />
<line x1="457.56" y1="236.24" x2="462.36" y2="236.24" stroke="#000" stroke-width="0.7" />
<circle cx="457.41" cy="235.67" r="1.2" fill="#1c1c1c" stroke="none" stroke-width="0.5" />
<circle cx="459.11" cy="233.05" r="1.2" fill="#1c1c1c" stroke="none" stroke-width="0.5" />
<circle cx="460.81" cy="233.94" r="1.2" fill="#1c1c1c" stroke="none" stroke-width="0.5" />
<circle cx="462.51" cy="232.96" r="1.2" fill="#1c1c1c" stroke="none" stroke-width="0.5" />
<text x="459.96" y="233.50" font-size="7.6" text-anchor="middle" fill="#000" font-family="Liberation Sans, Arial, sans-serif" stroke="#000" stroke-width="0.22" >**</text>
<line x1="459.96" y1="273.50" x2="459.96" y2="277.70" stroke="#2a2a2a" stroke-width="0.8" />
<text x="462.56" y="284.70" font-size="8" text-anchor="end" fill="#000" font-family="Liberation Sans, Arial, sans-serif" transform="rotate(-45 462.56 284.70)" stroke="#000" stroke-width="0.22" >Ace</text>
<rect x="467.78" y="231.38" width="8.50" height="42.12" fill="#86a8d8" stroke="#2a2a2a" stroke-width="0.8" />
<line x1="472.03" y1="228.14" x2="472.03" y2="234.62" stroke="#000" stroke-width="0.7" />
<line x1="469.63" y1="228.14" x2="474.43" y2="228.14" stroke="#000" stroke-width="0.7" />
<line x1="469.63" y1="234.62" x2="474.43" y2="234.62" stroke="#000" stroke-width="0.7" />
<circle cx="469.48" cy="228.57" r="1.2" fill="#1c1c1c" stroke="none" stroke-width="0.5" />
<circle cx="471.18" cy="232.81" r="1.2" fill="#1c1c1c" stroke="none" stroke-width="0.5" />
<circle cx="472.88" cy="232.37" r="1.2" fill="#1c1c1c" stroke="none" stroke-width="0.5" />
<circle cx="474.58" cy="233.76" r="1.2" fill="#1c1c1c" stroke="none" stroke-width="0.5" />
<text x="472.03" y="228.64" font-size="7.6" text-anchor="middle" fill="#000" font-family="Liberation Sans, Arial, sans-serif" stroke="#000" stroke-width="0.22" >**</text>
<line x1="472.03" y1="273.50" x2="472.03" y2="277.70" stroke="#2a2a2a" stroke-width="0.8" />
<text x="474.63" y="284.70" font-size="8" text-anchor="end" fill="#000" font-family="Liberation Sans, Arial, sans-serif" transform="rotate(-45 474.63 284.70)" stroke="#000" stroke-width="0.22" >Trich</text>
<rect x="479.85" y="242.18" width="8.50" height="31.32" fill="#86a8d8" stroke="#2a2a2a" stroke-width="0.8" />
<line x1="484.10" y1="239.48" x2="484.10" y2="244.88" stroke="#000" stroke-width="0.7" />
<line x1="481.70" y1="239.48" x2="486.50" y2="239.48" stroke="#000" stroke-width="0.7" />
<line x1="481.70" y1="244.88" x2="486.50" y2="244.88" stroke="#000" stroke-width="0.7" />
<circle cx="481.55" cy="244.28" r="1.2" fill="#1c1c1c" stroke="none" stroke-width="0.5" />
<circle cx="483.25" cy="244.76" r="1.2" fill="#1c1c1c" stroke="none" stroke-width="0.5" />
<circle cx="484.95" cy="243.36" r="1.2" fill="#1c1c1c" stroke="none" stroke-width="0.5" />
<circle cx="486.65" cy="241.57" r="1.2" fill="#1c1c1c" stroke="none" stroke-width="0.5" />
<text x="484.10" y="239.98" font-size="7.6" text-anchor="middle" fill="#000" font-family="Liberation Sans, Arial, sans-serif" stroke="#000" stroke-width="0.22" >**</text>
<line x1="484.10" y1="273.50" x2="484.10" y2="277.70" stroke="#2a2a2a" stroke-width="0.8" />
<text x="486.70" y="284.70" font-size="8" text-anchor="end" fill="#000" font-family="Liberation Sans, Arial, sans-serif" transform="rotate(-45 486.70 284.70)" stroke="#000" stroke-width="0.22" >Phen</text>
<text x="443.30" y="307.20" font-size="9.2" text-anchor="middle" fill="#000" font-family="Liberation Sans, Arial, sans-serif" stroke="#000" stroke-width="0.22" >Sphingomonas</text>
<text x="6.00" y="343.90" font-size="17.4" text-anchor="start" fill="#000" font-family="Liberation Serif, Times New Roman, serif" font-weight="bold" >g</text>
<rect x="27.30" y="335.70" width="472.00" height="104.90" fill="#050505" stroke="none" stroke-width="0.8" />
<defs><radialGradient id="lf" cx="0.45" cy="0.4" r="0.75"><stop offset="0" stop-color="#fff" stop-opacity="0.16"/><stop offset="0.65" stop-color="#fff" stop-opacity="0"/><stop offset="1" stop-color="#000" stop-opacity="0.16"/></radialGradient><pattern id="soil" width="5" height="5" patternUnits="userSpaceOnUse"><rect width="5" height="5" fill="#2b211a"/><circle cx="1" cy="1.2" r="0.7" fill="#43362b"/><circle cx="3.5" cy="3.2" r="0.8" fill="#221913"/><circle cx="3.8" cy="0.8" r="0.5" fill="#3b2f27"/><circle cx="1.2" cy="3.9" r="0.6" fill="#4e3f30"/></pattern></defs>
<clipPath id="cg"><rect x="27.3" y="335.7" width="472.0" height="104.90000000000003"/></clipPath><g clip-path="url(#cg)">
<rect x="65.23" y="363.21" width="30.36" height="25.62" fill="#141312" stroke="#1f1d1c" stroke-width="0.8" rx="2.2"/>
<rect x="66.83" y="364.81" width="27.16" height="22.42" fill="url(#soil)" stroke="none" stroke-width="0" rx="1.5"/>
<rect x="106.59" y="361.31" width="30.36" height="25.62" fill="#141312" stroke="#1f1d1c" stroke-width="0.8" rx="2.2"/>
<rect x="108.19" y="362.91" width="27.16" height="22.42" fill="url(#soil)" stroke="none" stroke-width="0" rx="1.5"/>
<rect x="64.28" y="395.46" width="29.98" height="26.57" fill="#141312" stroke="#1f1d1c" stroke-width="0.8" rx="2.2"/>
<rect x="65.88" y="397.06" width="26.78" height="23.37" fill="url(#soil)" stroke="none" stroke-width="0" rx="1.5"/>
<rect x="108.49" y="396.41" width="30.36" height="26.57" fill="#141312" stroke="#1f1d1c" stroke-width="0.8" rx="2.2"/>
<rect x="110.09" y="398.01" width="27.16" height="23.37" fill="url(#soil)" stroke="none" stroke-width="0" rx="1.5"/>
<line x1="63.90" y1="377.44" x2="53.46" y2="367.00" stroke="#8fc95a" stroke-width="0.7" />
<line x1="63.90" y1="377.44" x2="57.26" y2="385.98" stroke="#8fc95a" stroke-width="0.7" />
<line x1="63.90" y1="377.44" x2="69.59" y2="375.54" stroke="#8fc95a" stroke-width="0.7" />
<line x1="106.59" y1="376.49" x2="96.16" y2="365.10" stroke="#8fc95a" stroke-width="0.7" />
<line x1="106.59" y1="376.49" x2="117.98" y2="366.05" stroke="#8fc95a" stroke-width="0.7" />
<line x1="106.59" y1="376.49" x2="90.46" y2="390.34" stroke="#8fc95a" stroke-width="0.7" />
<line x1="106.59" y1="376.49" x2="106.59" y2="383.13" stroke="#8fc95a" stroke-width="0.7" />
<line x1="111.34" y1="405.90" x2="112.29" y2="393.57" stroke="#8fc95a" stroke-width="0.7" />
<line x1="106.59" y1="376.49" x2="123.67" y2="385.98" stroke="#8fc95a" stroke-width="0.7" />
<line x1="63.90" y1="406.85" x2="60.10" y2="401.73" stroke="#8fc95a" stroke-width="0.7" />
<line x1="63.90" y1="406.85" x2="43.03" y2="413.49" stroke="#8fc95a" stroke-width="0.7" />
<line x1="63.90" y1="406.85" x2="75.28" y2="412.54" stroke="#8fc95a" stroke-width="0.7" />
<line x1="63.90" y1="406.85" x2="62.00" y2="425.83" stroke="#8fc95a" stroke-width="0.7" />
<line x1="63.90" y1="406.85" x2="69.59" y2="417.67" stroke="#8fc95a" stroke-width="0.7" />
<line x1="111.34" y1="405.90" x2="92.36" y2="403.06" stroke="#8fc95a" stroke-width="0.7" />
<line x1="111.34" y1="405.90" x2="102.80" y2="408.75" stroke="#8fc95a" stroke-width="0.7" />
<line x1="111.34" y1="405.90" x2="120.83" y2="401.16" stroke="#8fc95a" stroke-width="0.7" />
<line x1="111.34" y1="405.90" x2="121.77" y2="413.49" stroke="#8fc95a" stroke-width="0.7" />
<line x1="111.34" y1="405.90" x2="101.85" y2="417.29" stroke="#8fc95a" stroke-width="0.7" />
<g transform="rotate(-30 53.46 367.00)"><ellipse cx="53.46" cy="367.00" rx="3.98" ry="7.97" fill="#5fa035"/><ellipse cx="53.46" cy="367.00" rx="3.98" ry="7.97" fill="url(#lf)"/></g>
<g transform="rotate(10 57.26 385.98)"><ellipse cx="57.26" cy="385.98" rx="6.57" ry="8.57" fill="#7dbb4c"/><ellipse cx="57.26" cy="385.98" rx="6.57" ry="8.57" fill="url(#lf)"/></g>
<g transform="rotate(20 69.59 375.54)"><ellipse cx="69.59" cy="375.54" rx="4.98" ry="3.19" fill="#6ab03a"/><ellipse cx="69.59" cy="375.54" rx="4.98" ry="3.19" fill="url(#lf)"/></g>
<g transform="rotate(-20 96.16 365.10)"><ellipse cx="96.16" cy="365.10" rx="3.79" ry="6.57" fill="#8cc850"/><ellipse cx="96.16" cy="365.10" rx="3.79" ry="6.57" fill="url(#lf)"/></g>
<g transform="rotate(-25 117.98 366.05)"><ellipse cx="117.98" cy="366.05" rx="13.95" ry="7.97" fill="#5a9a30"/><ellipse cx="117.98" cy="366.05" rx="13.95" ry="7.97" fill="url(#lf)"/></g>
<g transform="rotate(-5 90.46 390.34)"><ellipse cx="90.46" cy="390.34" rx="11.56" ry="4.98" fill="#6aaa3a"/><ellipse cx="90.46" cy="390.34" rx="11.56" ry="4.98" fill="url(#lf)"/></g>
<g transform="rotate(-30 106.59 383.13)"><ellipse cx="106.59" cy="383.13" rx="7.57" ry="5.18" fill="#6ab03a"/><ellipse cx="106.59" cy="383.13" rx="7.57" ry="5.18" fill="url(#lf)"/></g>
<g transform="rotate(10 112.29 393.57)"><ellipse cx="112.29" cy="393.57" rx="6.57" ry="12.55" fill="#4f9028"/><ellipse cx="112.29" cy="393.57" rx="6.57" ry="12.55" fill="url(#lf)"/></g>
<g transform="rotate(-30 123.67 385.98)"><ellipse cx="123.67" cy="385.98" rx="5.98" ry="2.59" fill="#5fa035"/><ellipse cx="123.67" cy="385.98" rx="5.98" ry="2.59" fill="url(#lf)"/></g>
<g transform="rotate(0 60.10 401.73)"><ellipse cx="60.10" cy="401.73" rx="3.59" ry="3.59" fill="#a0d060"/><ellipse cx="60.10" cy="401.73" rx="3.59" ry="3.59" fill="url(#lf)"/></g>
<g transform="rotate(10 43.03 413.49)"><ellipse cx="43.03" cy="413.49" rx="11.95" ry="5.38" fill="#5a9a30"/><ellipse cx="43.03" cy="413.49" rx="11.95" ry="5.38" fill="url(#lf)"/></g>
<g transform="rotate(-10 75.28 412.54)"><ellipse cx="75.28" cy="412.54" rx="9.96" ry="4.18" fill="#6aaa3a"/><ellipse cx="75.28" cy="412.54" rx="9.96" ry="4.18" fill="url(#lf)"/></g>
<g transform="rotate(10 62.00 425.83)"><ellipse cx="62.00" cy="425.83" rx="6.57" ry="8.37" fill="#6fb040"/><ellipse cx="62.00" cy="425.83" rx="6.57" ry="8.37" fill="url(#lf)"/></g>
<g transform="rotate(0 69.59 417.67)"><ellipse cx="69.59" cy="417.67" rx="4.98" ry="3.79" fill="#90cc55"/><ellipse cx="69.59" cy="417.67" rx="4.98" ry="3.79" fill="url(#lf)"/></g>
<g transform="rotate(15 92.36 403.06)"><ellipse cx="92.36" cy="403.06" rx="9.56" ry="5.38" fill="#4f9028"/><ellipse cx="92.36" cy="403.06" rx="9.56" ry="5.38" fill="url(#lf)"/></g>
<g transform="rotate(5 102.80 408.75)"><ellipse cx="102.80" cy="408.75" rx="7.97" ry="4.78" fill="#3f8020"/><ellipse cx="102.80" cy="408.75" rx="7.97" ry="4.78" fill="url(#lf)"/></g>
<g transform="rotate(-30 120.83 401.16)"><ellipse cx="120.83" cy="401.16" rx="7.57" ry="5.18" fill="#5fa035"/><ellipse cx="120.83" cy="401.16" rx="7.57" ry="5.18" fill="url(#lf)"/></g>
<g transform="rotate(15 121.77 413.49)"><ellipse cx="121.77" cy="413.49" rx="9.96" ry="6.77" fill="#6ab03a"/><ellipse cx="121.77" cy="413.49" rx="9.96" ry="6.77" fill="url(#lf)"/></g>
<g transform="rotate(-30 101.85 417.29)"><ellipse cx="101.85" cy="417.29" rx="4.78" ry="4.18" fill="#8cc850"/><ellipse cx="101.85" cy="417.29" rx="4.78" ry="4.18" fill="url(#lf)"/></g>
<rect x="157.08" y="362.64" width="29.41" height="24.29" fill="#141312" stroke="#1f1d1c" stroke-width="0.8" rx="2.2"/>
<rect x="158.68" y="364.24" width="26.21" height="21.09" fill="url(#soil)" stroke="none" stroke-width="0" rx="1.5"/>
<rect x="195.41" y="363.21" width="28.08" height="23.72" fill="#141312" stroke="#1f1d1c" stroke-width="0.8" rx="2.2"/>
<rect x="197.01" y="364.81" width="24.88" height="20.52" fill="url(#soil)" stroke="none" stroke-width="0" rx="1.5"/>
<rect x="158.98" y="393.57" width="27.51" height="25.62" fill="#141312" stroke="#1f1d1c" stroke-width="0.8" rx="2.2"/>
<rect x="160.58" y="395.17" width="24.31" height="22.42" fill="url(#soil)" stroke="none" stroke-width="0" rx="1.5"/>
<rect x="195.98" y="395.46" width="27.51" height="24.67" fill="#141312" stroke="#1f1d1c" stroke-width="0.8" rx="2.2"/>
<rect x="197.58" y="397.06" width="24.31" height="21.47" fill="url(#soil)" stroke="none" stroke-width="0" rx="1.5"/>
<line x1="175.10" y1="378.39" x2="183.26" y2="358.46" stroke="#8fc95a" stroke-width="0.7" />
<line x1="175.10" y1="378.39" x2="159.92" y2="372.13" stroke="#8fc95a" stroke-width="0.7" />
<line x1="175.10" y1="378.39" x2="161.82" y2="388.82" stroke="#8fc95a" stroke-width="0.7" />
<line x1="175.10" y1="378.39" x2="188.96" y2="380.28" stroke="#8fc95a" stroke-width="0.7" />
<line x1="175.10" y1="378.39" x2="180.80" y2="385.98" stroke="#8fc95a" stroke-width="0.7" />
<line x1="211.16" y1="372.69" x2="213.06" y2="356.57" stroke="#8fc95a" stroke-width="0.7" />
<line x1="211.16" y1="372.69" x2="226.34" y2="368.90" stroke="#8fc95a" stroke-width="0.7" />
<line x1="211.16" y1="372.69" x2="207.93" y2="382.75" stroke="#8fc95a" stroke-width="0.7" />
<line x1="172.26" y1="411.59" x2="165.62" y2="404.95" stroke="#8fc95a" stroke-width="0.7" />
<line x1="172.26" y1="411.59" x2="159.92" y2="415.39" stroke="#8fc95a" stroke-width="0.7" />
<line x1="172.26" y1="411.59" x2="175.67" y2="427.72" stroke="#8fc95a" stroke-width="0.7" />
<line x1="172.26" y1="411.59" x2="175.10" y2="406.85" stroke="#8fc95a" stroke-width="0.7" />
<line x1="209.26" y1="405.90" x2="208.31" y2="396.41" stroke="#8fc95a" stroke-width="0.7" />
<line x1="209.26" y1="405.90" x2="213.06" y2="401.16" stroke="#8fc95a" stroke-width="0.7" />
<line x1="209.26" y1="405.90" x2="196.93" y2="410.65" stroke="#8fc95a" stroke-width="0.7" />
<line x1="209.26" y1="405.90" x2="214.95" y2="416.34" stroke="#8fc95a" stroke-width="0.7" />
<g transform="rotate(25 183.26 358.46)"><ellipse cx="183.26" cy="358.46" rx="8.97" ry="12.95" fill="#6ab03a"/><ellipse cx="183.26" cy="358.46" rx="8.97" ry="12.95" fill="url(#lf)"/></g>
<g transform="rotate(15 159.92 372.13)"><ellipse cx="159.92" cy="372.13" rx="8.37" ry="4.78" fill="#7dbb4c"/><ellipse cx="159.92" cy="372.13" rx="8.37" ry="4.78" fill="url(#lf)"/></g>
<g transform="rotate(-30 161.82 388.82)"><ellipse cx="161.82" cy="388.82" rx="9.96" ry="8.57" fill="#6ab03a"/><ellipse cx="161.82" cy="388.82" rx="9.96" ry="8.57" fill="url(#lf)"/></g>
<g transform="rotate(10 188.96 380.28)"><ellipse cx="188.96" cy="380.28" rx="9.56" ry="6.18" fill="#7dbb4c"/><ellipse cx="188.96" cy="380.28" rx="9.56" ry="6.18" fill="url(#lf)"/></g>
<g transform="rotate(30 180.80 385.98)"><ellipse cx="180.80" cy="385.98" rx="4.38" ry="3.39" fill="#a0d060"/><ellipse cx="180.80" cy="385.98" rx="4.38" ry="3.39" fill="url(#lf)"/></g>
<g transform="rotate(-10 213.06 356.57)"><ellipse cx="213.06" cy="356.57" rx="7.37" ry="9.96" fill="#6ab03a"/><ellipse cx="213.06" cy="356.57" rx="7.37" ry="9.96" fill="url(#lf)"/></g>
<g transform="rotate(-15 226.34 368.90)"><ellipse cx="226.34" cy="368.90" rx="11.95" ry="6.77" fill="#5fa035"/><ellipse cx="226.34" cy="368.90" rx="11.95" ry="6.77" fill="url(#lf)"/></g>
<g transform="rotate(-15 207.93 382.75)"><ellipse cx="207.93" cy="382.75" rx="11.56" ry="8.97" fill="#7dbb4c"/><ellipse cx="207.93" cy="382.75" rx="11.56" ry="8.97" fill="url(#lf)"/></g>
<g transform="rotate(-10 165.62 404.95)"><ellipse cx="165.62" cy="404.95" rx="5.98" ry="6.77" fill="#4f9028"/><ellipse cx="165.62" cy="404.95" rx="5.98" ry="6.77" fill="url(#lf)"/></g>
<g transform="rotate(-15 159.92 415.39)"><ellipse cx="159.92" cy="415.39" rx="9.96" ry="7.77" fill="#5fa035"/><ellipse cx="159.92" cy="415.39" rx="9.96" ry="7.77" fill="url(#lf)"/></g>
<g transform="rotate(-15 175.67 427.72)"><ellipse cx="175.67" cy="427.72" rx="8.77" ry="11.95" fill="#5fa035"/><ellipse cx="175.67" cy="427.72" rx="8.77" ry="11.95" fill="url(#lf)"/></g>
<g transform="rotate(0 175.10 406.85)"><ellipse cx="175.10" cy="406.85" rx="3.59" ry="2.99" fill="#7dbb4c"/><ellipse cx="175.10" cy="406.85" rx="3.59" ry="2.99" fill="url(#lf)"/></g>
<g transform="rotate(0 208.31 396.41)"><ellipse cx="208.31" cy="396.41" rx="3.59" ry="2.99" fill="#8cc850"/><ellipse cx="208.31" cy="396.41" rx="3.59" ry="2.99" fill="url(#lf)"/></g>
<g transform="rotate(-20 213.06 401.16)"><ellipse cx="213.06" cy="401.16" rx="4.98" ry="3.39" fill="#5fa035"/><ellipse cx="213.06" cy="401.16" rx="4.98" ry="3.39" fill="url(#lf)"/></g>
<g transform="rotate(10 196.93 410.65)"><ellipse cx="196.93" cy="410.65" rx="11.95" ry="2.39" fill="#4f9028"/><ellipse cx="196.93" cy="410.65" rx="11.95" ry="2.39" fill="url(#lf)"/></g>
<g transform="rotate(25 214.95 416.34)"><ellipse cx="214.95" cy="416.34" rx="8.97" ry="3.98" fill="#4f9028"/><ellipse cx="214.95" cy="416.34" rx="8.97" ry="3.98" fill="url(#lf)"/></g>
<rect x="278.21" y="370.80" width="23.72" height="19.92" fill="#141312" stroke="#1f1d1c" stroke-width="0.8" rx="2.2"/>
<rect x="279.81" y="372.40" width="20.52" height="16.72" fill="url(#soil)" stroke="none" stroke-width="0" rx="1.5"/>
<rect x="314.26" y="367.95" width="25.62" height="21.82" fill="#141312" stroke="#1f1d1c" stroke-width="0.8" rx="2.2"/>
<rect x="315.86" y="369.55" width="22.42" height="18.62" fill="url(#soil)" stroke="none" stroke-width="0" rx="1.5"/>
<rect x="273.46" y="394.52" width="25.62" height="20.87" fill="#141312" stroke="#1f1d1c" stroke-width="0.8" rx="2.2"/>
<rect x="275.06" y="396.12" width="22.42" height="17.67" fill="url(#soil)" stroke="none" stroke-width="0" rx="1.5"/>
<rect x="309.52" y="397.36" width="25.62" height="22.77" fill="#141312" stroke="#1f1d1c" stroke-width="0.8" rx="2.2"/>
<rect x="311.12" y="398.96" width="22.42" height="19.57" fill="url(#soil)" stroke="none" stroke-width="0" rx="1.5"/>
<line x1="278.21" y1="372.69" x2="268.15" y2="348.98" stroke="#8fc95a" stroke-width="0.7" />
<line x1="278.21" y1="372.69" x2="261.13" y2="369.85" stroke="#8fc95a" stroke-width="0.7" />
<line x1="278.21" y1="372.69" x2="296.23" y2="367.00" stroke="#8fc95a" stroke-width="0.7" />
<line x1="278.21" y1="372.69" x2="278.21" y2="386.55" stroke="#8fc95a" stroke-width="0.7" />
<line x1="315.21" y1="370.80" x2="331.34" y2="354.67" stroke="#8fc95a" stroke-width="0.7" />
<line x1="315.21" y1="370.80" x2="321.85" y2="381.23" stroke="#8fc95a" stroke-width="0.7" />
<line x1="315.21" y1="370.80" x2="319.95" y2="367.00" stroke="#8fc95a" stroke-width="0.7" />
<line x1="315.21" y1="370.80" x2="303.82" y2="378.39" stroke="#8fc95a" stroke-width="0.7" />
<line x1="315.21" y1="370.80" x2="328.49" y2="374.59" stroke="#8fc95a" stroke-width="0.7" />
<line x1="336.08" y1="401.16" x2="343.29" y2="385.98" stroke="#8fc95a" stroke-width="0.7" />
<line x1="336.08" y1="401.16" x2="356.01" y2="397.93" stroke="#8fc95a" stroke-width="0.7" />
<line x1="336.08" y1="401.16" x2="353.16" y2="408.75" stroke="#8fc95a" stroke-width="0.7" />
<line x1="336.08" y1="401.16" x2="319.95" y2="407.80" stroke="#8fc95a" stroke-width="0.7" />
<line x1="282.00" y1="415.39" x2="270.62" y2="409.70" stroke="#8fc95a" stroke-width="0.7" />
<line x1="282.00" y1="415.39" x2="284.47" y2="404.95" stroke="#8fc95a" stroke-width="0.7" />
<line x1="282.00" y1="415.39" x2="303.82" y2="418.24" stroke="#8fc95a" stroke-width="0.7" />
<line x1="282.00" y1="415.39" x2="284.85" y2="428.67" stroke="#8fc95a" stroke-width="0.7" />
<line x1="278.21" y1="372.69" x2="261.13" y2="376.49" stroke="#8fc95a" stroke-width="0.7" />
<g transform="rotate(-25 268.15 348.98)"><ellipse cx="268.15" cy="348.98" rx="7.37" ry="12.95" fill="#6ab03a"/><ellipse cx="268.15" cy="348.98" rx="7.37" ry="12.95" fill="url(#lf)"/></g>
<g transform="rotate(15 261.13 369.85)"><ellipse cx="261.13" cy="369.85" rx="10.96" ry="4.78" fill="#6ab03a"/><ellipse cx="261.13" cy="369.85" rx="10.96" ry="4.78" fill="url(#lf)"/></g>
<g transform="rotate(-10 296.23 367.00)"><ellipse cx="296.23" cy="367.00" rx="13.95" ry="8.17" fill="#6ab03a"/><ellipse cx="296.23" cy="367.00" rx="13.95" ry="8.17" fill="url(#lf)"/></g>
<g transform="rotate(10 278.21 386.55)"><ellipse cx="278.21" cy="386.55" rx="8.77" ry="9.96" fill="#7dbb4c"/><ellipse cx="278.21" cy="386.55" rx="8.77" ry="9.96" fill="url(#lf)"/></g>
<g transform="rotate(-35 331.34 354.67)"><ellipse cx="331.34" cy="354.67" rx="12.95" ry="8.17" fill="#5fa035"/><ellipse cx="331.34" cy="354.67" rx="12.95" ry="8.17" fill="url(#lf)"/></g>
<g transform="rotate(0 321.85 381.23)"><ellipse cx="321.85" cy="381.23" rx="9.36" ry="9.96" fill="#3f8020"/><ellipse cx="321.85" cy="381.23" rx="9.36" ry="9.96" fill="url(#lf)"/></g>
<g transform="rotate(10 319.95 367.00)"><ellipse cx="319.95" cy="367.00" rx="4.38" ry="5.58" fill="#5fa035"/><ellipse cx="319.95" cy="367.00" rx="4.38" ry="5.58" fill="url(#lf)"/></g>
<g transform="rotate(-20 303.82 378.39)"><ellipse cx="303.82" cy="378.39" rx="4.98" ry="3.39" fill="#a0d060"/><ellipse cx="303.82" cy="378.39" rx="4.98" ry="3.39" fill="url(#lf)"/></g>
<g transform="rotate(-30 328.49 374.59)"><ellipse cx="328.49" cy="374.59" rx="3.39" ry="5.98" fill="#6ab03a"/><ellipse cx="328.49" cy="374.59" rx="3.39" ry="5.98" fill="url(#lf)"/></g>
<g transform="rotate(20 343.29 385.98)"><ellipse cx="343.29" cy="385.98" rx="6.97" ry="7.57" fill="#6ab03a"/><ellipse cx="343.29" cy="385.98" rx="6.97" ry="7.57" fill="url(#lf)"/></g>
<g transform="rotate(-10 356.01 397.93)"><ellipse cx="356.01" cy="397.93" rx="10.96" ry="5.98" fill="#6ab03a"/><ellipse cx="356.01" cy="397.93" rx="10.96" ry="5.98" fill="url(#lf)"/></g>
<g transform="rotate(30 353.16 408.75)"><ellipse cx="353.16" cy="408.75" rx="8.97" ry="4.78" fill="#6ab03a"/><ellipse cx="353.16" cy="408.75" rx="8.97" ry="4.78" fill="url(#lf)"/></g>
<g transform="rotate(-20 319.95 407.80)"><ellipse cx="319.95" cy="407.80" rx="13.55" ry="7.37" fill="#7dbb4c"/><ellipse cx="319.95" cy="407.80" rx="13.55" ry="7.37" fill="url(#lf)"/></g>
<g transform="rotate(20 270.62 409.70)"><ellipse cx="270.62" cy="409.70" rx="10.96" ry="9.36" fill="#5fa035"/><ellipse cx="270.62" cy="409.70" rx="10.96" ry="9.36" fill="url(#lf)"/></g>
<g transform="rotate(0 284.47 404.95)"><ellipse cx="284.47" cy="404.95" rx="4.98" ry="4.38" fill="#8cc850"/><ellipse cx="284.47" cy="404.95" rx="4.98" ry="4.38" fill="url(#lf)"/></g>
<g transform="rotate(10 303.82 418.24)"><ellipse cx="303.82" cy="418.24" rx="10.96" ry="5.78" fill="#5fa035"/><ellipse cx="303.82" cy="418.24" rx="10.96" ry="5.78" fill="url(#lf)"/></g>
<g transform="rotate(0 284.85 428.67)"><ellipse cx="284.85" cy="428.67" rx="7.37" ry="8.97" fill="#6ab03a"/><ellipse cx="284.85" cy="428.67" rx="7.37" ry="8.97" fill="url(#lf)"/></g>
<g transform="rotate(-20 261.13 376.49)"><ellipse cx="261.13" cy="376.49" rx="4.98" ry="1.79" fill="#a0d060"/><ellipse cx="261.13" cy="376.49" rx="4.98" ry="1.79" fill="url(#lf)"/></g>
<rect x="399.67" y="364.16" width="23.72" height="17.08" fill="#141312" stroke="#1f1d1c" stroke-width="0.8" rx="2.2"/>
<rect x="401.27" y="365.76" width="20.52" height="13.88" fill="url(#soil)" stroke="none" stroke-width="0" rx="1.5"/>
<rect x="437.62" y="365.10" width="24.67" height="18.98" fill="#141312" stroke="#1f1d1c" stroke-width="0.8" rx="2.2"/>
<rect x="439.22" y="366.70" width="21.47" height="15.78" fill="url(#soil)" stroke="none" stroke-width="0" rx="1.5"/>
<rect x="445.21" y="390.72" width="20.87" height="18.98" fill="#141312" stroke="#1f1d1c" stroke-width="0.8" rx="2.2"/>
<rect x="446.81" y="392.32" width="17.67" height="15.78" fill="url(#soil)" stroke="none" stroke-width="0" rx="1.5"/>
<line x1="412.00" y1="365.10" x2="403.46" y2="349.92" stroke="#8fc95a" stroke-width="0.7" />
<line x1="412.00" y1="365.10" x2="416.75" y2="348.98" stroke="#8fc95a" stroke-width="0.7" />
<line x1="412.00" y1="365.10" x2="426.23" y2="355.62" stroke="#8fc95a" stroke-width="0.7" />
<line x1="412.00" y1="365.10" x2="415.80" y2="360.36" stroke="#8fc95a" stroke-width="0.7" />
<line x1="412.00" y1="365.10" x2="435.34" y2="368.90" stroke="#8fc95a" stroke-width="0.7" />
<line x1="412.00" y1="365.10" x2="394.92" y2="356.57" stroke="#8fc95a" stroke-width="0.7" />
<line x1="412.00" y1="365.10" x2="399.67" y2="373.26" stroke="#8fc95a" stroke-width="0.7" />
<line x1="412.00" y1="365.10" x2="410.10" y2="378.39" stroke="#8fc95a" stroke-width="0.7" />
<line x1="414.85" y1="394.52" x2="393.98" y2="397.36" stroke="#8fc95a" stroke-width="0.7" />
<line x1="414.85" y1="394.52" x2="431.93" y2="390.72" stroke="#8fc95a" stroke-width="0.7" />
<line x1="414.85" y1="394.52" x2="418.64" y2="394.52" stroke="#8fc95a" stroke-width="0.7" />
<line x1="414.85" y1="394.52" x2="406.88" y2="409.70" stroke="#8fc95a" stroke-width="0.7" />
<line x1="414.85" y1="394.52" x2="425.85" y2="412.54" stroke="#8fc95a" stroke-width="0.7" />
<line x1="414.85" y1="394.52" x2="407.26" y2="421.08" stroke="#8fc95a" stroke-width="0.7" />
<line x1="450.90" y1="400.21" x2="445.59" y2="421.08" stroke="#8fc95a" stroke-width="0.7" />
<line x1="450.90" y1="400.21" x2="467.98" y2="390.72" stroke="#8fc95a" stroke-width="0.7" />
<line x1="461.34" y1="370.80" x2="451.47" y2="358.46" stroke="#8fc95a" stroke-width="0.7" />
<line x1="461.34" y1="370.80" x2="466.65" y2="357.51" stroke="#8fc95a" stroke-width="0.7" />
<line x1="461.34" y1="370.80" x2="485.06" y2="358.46" stroke="#8fc95a" stroke-width="0.7" />
<line x1="461.34" y1="370.80" x2="486.01" y2="377.44" stroke="#8fc95a" stroke-width="0.7" />
<line x1="461.34" y1="370.80" x2="475.57" y2="368.90" stroke="#8fc95a" stroke-width="0.7" />
<line x1="461.34" y1="370.80" x2="453.18" y2="371.75" stroke="#8fc95a" stroke-width="0.7" />
<line x1="450.90" y1="400.21" x2="460.39" y2="409.70" stroke="#8fc95a" stroke-width="0.7" />
<g transform="rotate(-10 403.46 349.92)"><ellipse cx="403.46" cy="349.92" rx="6.97" ry="12.95" fill="#4a9028"/><ellipse cx="403.46" cy="349.92" rx="6.97" ry="12.95" fill="url(#lf)"/></g>
<g transform="rotate(-20 416.75 348.98)"><ellipse cx="416.75" cy="348.98" rx="6.38" ry="7.97" fill="#4a9028"/><ellipse cx="416.75" cy="348.98" rx="6.38" ry="7.97" fill="url(#lf)"/></g>
<g transform="rotate(-20 426.23 355.62)"><ellipse cx="426.23" cy="355.62" rx="6.38" ry="3.98" fill="#5fa035"/><ellipse cx="426.23" cy="355.62" rx="6.38" ry="3.98" fill="url(#lf)"/></g>
<g transform="rotate(0 415.80 360.36)"><ellipse cx="415.80" cy="360.36" rx="5.58" ry="4.98" fill="#6ab03a"/><ellipse cx="415.80" cy="360.36" rx="5.58" ry="4.98" fill="url(#lf)"/></g>
<g transform="rotate(10 435.34 368.90)"><ellipse cx="435.34" cy="368.90" rx="12.95" ry="5.38" fill="#4a9028"/><ellipse cx="435.34" cy="368.90" rx="12.95" ry="5.38" fill="url(#lf)"/></g>
<g transform="rotate(0 394.92 356.57)"><ellipse cx="394.92" cy="356.57" rx="4.38" ry="2.39" fill="#4a9028"/><ellipse cx="394.92" cy="356.57" rx="4.38" ry="2.39" fill="url(#lf)"/></g>
<g transform="rotate(0 399.67 373.26)"><ellipse cx="399.67" cy="373.26" rx="4.38" ry="4.38" fill="#4a9028"/><ellipse cx="399.67" cy="373.26" rx="4.38" ry="4.38" fill="url(#lf)"/></g>
<g transform="rotate(-15 410.10 378.39)"><ellipse cx="410.10" cy="378.39" rx="7.97" ry="11.95" fill="#4a9028"/><ellipse cx="410.10" cy="378.39" rx="7.97" ry="11.95" fill="url(#lf)"/></g>
<g transform="rotate(15 393.98 397.36)"><ellipse cx="393.98" cy="397.36" rx="12.95" ry="9.96" fill="#4a9028"/><ellipse cx="393.98" cy="397.36" rx="12.95" ry="9.96" fill="url(#lf)"/></g>
<g transform="rotate(30 431.93 390.72)"><ellipse cx="431.93" cy="390.72" rx="12.95" ry="10.96" fill="#4a9028"/><ellipse cx="431.93" cy="390.72" rx="12.95" ry="10.96" fill="url(#lf)"/></g>
<g transform="rotate(-10 418.64 394.52)"><ellipse cx="418.64" cy="394.52" rx="7.97" ry="10.96" fill="#3f8020"/><ellipse cx="418.64" cy="394.52" rx="7.97" ry="10.96" fill="url(#lf)"/></g>
<g transform="rotate(-15 406.88 409.70)"><ellipse cx="406.88" cy="409.70" rx="11.95" ry="7.97" fill="#5fa035"/><ellipse cx="406.88" cy="409.70" rx="11.95" ry="7.97" fill="url(#lf)"/></g>
<g transform="rotate(0 425.85 412.54)"><ellipse cx="425.85" cy="412.54" rx="10.96" ry="9.96" fill="#5a9a30"/><ellipse cx="425.85" cy="412.54" rx="10.96" ry="9.96" fill="url(#lf)"/></g>
<g transform="rotate(-15 407.26 421.08)"><ellipse cx="407.26" cy="421.08" rx="8.37" ry="4.98" fill="#4a9028"/><ellipse cx="407.26" cy="421.08" rx="8.37" ry="4.98" fill="url(#lf)"/></g>
<g transform="rotate(10 445.59 421.08)"><ellipse cx="445.59" cy="421.08" rx="12.95" ry="13.95" fill="#4a9028"/><ellipse cx="445.59" cy="421.08" rx="12.95" ry="13.95" fill="url(#lf)"/></g>
<g transform="rotate(0 467.98 390.72)"><ellipse cx="467.98" cy="390.72" rx="11.56" ry="11.56" fill="#4a9028"/><ellipse cx="467.98" cy="390.72" rx="11.56" ry="11.56" fill="url(#lf)"/></g>
<g transform="rotate(25 451.47 358.46)"><ellipse cx="451.47" cy="358.46" rx="8.37" ry="5.58" fill="#5fa035"/><ellipse cx="451.47" cy="358.46" rx="8.37" ry="5.58" fill="url(#lf)"/></g>
<g transform="rotate(-15 466.65 357.51)"><ellipse cx="466.65" cy="357.51" rx="3.59" ry="8.97" fill="#4a9028"/><ellipse cx="466.65" cy="357.51" rx="3.59" ry="8.97" fill="url(#lf)"/></g>
<g transform="rotate(-25 485.06 358.46)"><ellipse cx="485.06" cy="358.46" rx="10.96" ry="8.37" fill="#4a9028"/><ellipse cx="485.06" cy="358.46" rx="10.96" ry="8.37" fill="url(#lf)"/></g>
<g transform="rotate(30 486.01 377.44)"><ellipse cx="486.01" cy="377.44" rx="7.97" ry="6.97" fill="#5a9a30"/><ellipse cx="486.01" cy="377.44" rx="7.97" ry="6.97" fill="url(#lf)"/></g>
<g transform="rotate(-15 475.57 368.90)"><ellipse cx="475.57" cy="368.90" rx="8.97" ry="2.99" fill="#4a9028"/><ellipse cx="475.57" cy="368.90" rx="8.97" ry="2.99" fill="url(#lf)"/></g>
<g transform="rotate(0 453.18 371.75)"><ellipse cx="453.18" cy="371.75" rx="3.98" ry="4.38" fill="#5fa035"/><ellipse cx="453.18" cy="371.75" rx="3.98" ry="4.38" fill="url(#lf)"/></g>
<g transform="rotate(0 460.39 409.70)"><ellipse cx="460.39" cy="409.70" rx="4.98" ry="5.98" fill="#3f8020"/><ellipse cx="460.39" cy="409.70" rx="4.98" ry="5.98" fill="url(#lf)"/></g>
</g>
<text x="94.30" y="435.70" font-size="9.4" text-anchor="middle" fill="#f4f4f4" font-family="Liberation Sans, Arial, sans-serif" >Control</text>
<text x="212.00" y="434.70" font-size="9.4" text-anchor="middle" fill="#f4f4f4" font-family="Liberation Sans, Arial, sans-serif" >Strain LSS1</text>
<text x="321.90" y="432.80" font-size="9.4" text-anchor="middle" fill="#f4f4f4" font-family="Liberation Sans, Arial, sans-serif" >Strain LSS2</text>
<text x="415.50" y="435.90" font-size="9.4" text-anchor="middle" fill="#f4f4f4" font-family="Liberation Sans, Arial, sans-serif" >SynCom</text>
<text x="1.20" y="457.30" font-size="18" text-anchor="start" fill="#000" font-family="Liberation Serif, Times New Roman, serif" font-weight="bold" >h</text>
<rect x="27.60" y="453.40" width="128.10" height="108.10" fill="#fff" stroke="#777" stroke-width="0.8" />
<line x1="27.60" y1="453.40" x2="27.60" y2="561.50" stroke="#555" stroke-width="0.9" />
<line x1="23.40" y1="561.50" x2="155.70" y2="561.50" stroke="#2a2a2a" stroke-width="0.9" />
<line x1="23.40" y1="453.40" x2="28.00" y2="453.40" stroke="#2a2a2a" stroke-width="0.9" />
<line x1="23.40" y1="561.50" x2="27.60" y2="561.50" stroke="#2a2a2a" stroke-width="0.8" />
<text x="21.60" y="563.80" font-size="6.4" text-anchor="end" fill="#000" font-family="Liberation Sans, Arial, sans-serif" stroke="#000" stroke-width="0.22" >0.0</text>
<line x1="23.40" y1="539.88" x2="27.60" y2="539.88" stroke="#2a2a2a" stroke-width="0.8" />
<text x="21.60" y="542.18" font-size="6.4" text-anchor="end" fill="#000" font-family="Liberation Sans, Arial, sans-serif" stroke="#000" stroke-width="0.22" >0.5</text>
<line x1="23.40" y1="518.26" x2="27.60" y2="518.26" stroke="#2a2a2a" stroke-width="0.8" />
<text x="21.60" y="520.56" font-size="6.4" text-anchor="end" fill="#000" font-family="Liberation Sans, Arial, sans-serif" stroke="#000" stroke-width="0.22" >1.0</text>
<line x1="23.40" y1="496.64" x2="27.60" y2="496.64" stroke="#2a2a2a" stroke-width="0.8" />
<text x="21.60" y="498.94" font-size="6.4" text-anchor="end" fill="#000" font-family="Liberation Sans, Arial, sans-serif" stroke="#000" stroke-width="0.22" >1.5</text>
<line x1="23.40" y1="475.02" x2="27.60" y2="475.02" stroke="#2a2a2a" stroke-width="0.8" />
<text x="21.60" y="477.32" font-size="6.4" text-anchor="end" fill="#000" font-family="Liberation Sans, Arial, sans-serif" stroke="#000" stroke-width="0.22" >2.0</text>
<line x1="23.40" y1="453.40" x2="27.60" y2="453.40" stroke="#2a2a2a" stroke-width="0.8" />
<text x="21.60" y="455.70" font-size="6.4" text-anchor="end" fill="#000" font-family="Liberation Sans, Arial, sans-serif" stroke="#000" stroke-width="0.22" >2.5</text>
<text x="7.90" y="507.20" font-size="9" text-anchor="middle" fill="#000" font-family="Liberation Sans, Arial, sans-serif" transform="rotate(-90 7.90 507.20)" stroke="#000" stroke-width="0.22" >Weight (g)</text>
<rect x="32.75" y="512.86" width="10.10" height="48.64" fill="#dbb1af" stroke="#2a2a2a" stroke-width="0.8" />
<line x1="37.80" y1="506.37" x2="37.80" y2="519.34" stroke="#000" stroke-width="0.7" />
<line x1="34.80" y1="506.37" x2="40.80" y2="506.37" stroke="#000" stroke-width="0.7" />
<line x1="34.80" y1="519.34" x2="40.80" y2="519.34" stroke="#000" stroke-width="0.7" />
<circle cx="36.90" cy="518.60" r="1.2" fill="#1c1c1c" stroke="none" stroke-width="0.5" />
<circle cx="37.50" cy="514.69" r="1.2" fill="#1c1c1c" stroke="none" stroke-width="0.5" />
<circle cx="38.10" cy="511.22" r="1.2" fill="#1c1c1c" stroke="none" stroke-width="0.5" />
<circle cx="38.70" cy="506.07" r="1.2" fill="#1c1c1c" stroke="none" stroke-width="0.5" />
<text x="37.80" y="503.77" font-size="8.6" text-anchor="middle" fill="#000" font-family="Liberation Sans, Arial, sans-serif" stroke="#000" stroke-width="0.22" >c</text>
<line x1="37.80" y1="561.50" x2="37.80" y2="565.70" stroke="#2a2a2a" stroke-width="0.8" />
<text x="40.20" y="572.70" font-size="8" text-anchor="end" fill="#000" font-family="Liberation Sans, Arial, sans-serif" transform="rotate(-45 40.20 572.70)" stroke="#000" stroke-width="0.22" >Control</text>
<rect x="46.45" y="508.53" width="10.10" height="52.97" fill="#dbb1af" stroke="#2a2a2a" stroke-width="0.8" />
<line x1="51.50" y1="502.91" x2="51.50" y2="514.15" stroke="#000" stroke-width="0.7" />
<line x1="48.50" y1="502.91" x2="54.50" y2="502.91" stroke="#000" stroke-width="0.7" />
<line x1="48.50" y1="514.15" x2="54.50" y2="514.15" stroke="#000" stroke-width="0.7" />
<circle cx="50.60" cy="512.48" r="1.2" fill="#1c1c1c" stroke="none" stroke-width="0.5" />
<circle cx="51.20" cy="510.22" r="1.2" fill="#1c1c1c" stroke="none" stroke-width="0.5" />
<circle cx="51.80" cy="506.55" r="1.2" fill="#1c1c1c" stroke="none" stroke-width="0.5" />
<circle cx="52.40" cy="504.41" r="1.2" fill="#1c1c1c" stroke="none" stroke-width="0.5" />
<text x="51.50" y="500.31" font-size="8.6" text-anchor="middle" fill="#000" font-family="Liberation Sans, Arial, sans-serif" stroke="#000" stroke-width="0.22" >bc</text>
<line x1="51.50" y1="561.50" x2="51.50" y2="565.70" stroke="#2a2a2a" stroke-width="0.8" />
<text x="53.90" y="572.70" font-size="8" text-anchor="end" fill="#000" font-family="Liberation Sans, Arial, sans-serif" transform="rotate(-45 53.90 572.70)" stroke="#000" stroke-width="0.22" >LSS1</text>
<rect x="60.15" y="502.05" width="10.10" height="59.45" fill="#dbb1af" stroke="#2a2a2a" stroke-width="0.8" />
<line x1="65.20" y1="494.69" x2="65.20" y2="509.40" stroke="#000" stroke-width="0.7" />
<line x1="62.20" y1="494.69" x2="68.20" y2="494.69" stroke="#000" stroke-width="0.7" />
<line x1="62.20" y1="509.40" x2="68.20" y2="509.40" stroke="#000" stroke-width="0.7" />
<circle cx="64.30" cy="508.82" r="1.2" fill="#1c1c1c" stroke="none" stroke-width="0.5" />
<circle cx="64.90" cy="504.36" r="1.2" fill="#1c1c1c" stroke="none" stroke-width="0.5" />
<circle cx="65.50" cy="500.29" r="1.2" fill="#1c1c1c" stroke="none" stroke-width="0.5" />
<circle cx="66.10" cy="495.79" r="1.2" fill="#1c1c1c" stroke="none" stroke-width="0.5" />
<text x="65.20" y="492.09" font-size="8.6" text-anchor="middle" fill="#000" font-family="Liberation Sans, Arial, sans-serif" stroke="#000" stroke-width="0.22" >b</text>
<line x1="65.20" y1="561.50" x2="65.20" y2="565.70" stroke="#2a2a2a" stroke-width="0.8" />
<text x="67.60" y="572.70" font-size="8" text-anchor="end" fill="#000" font-family="Liberation Sans, Arial, sans-serif" transform="rotate(-45 67.60 572.70)" stroke="#000" stroke-width="0.22" >LSS2</text>
<rect x="74.15" y="485.61" width="10.10" height="75.89" fill="#dbb1af" stroke="#2a2a2a" stroke-width="0.8" />
<line x1="79.20" y1="476.97" x2="79.20" y2="494.26" stroke="#000" stroke-width="0.7" />
<line x1="76.20" y1="476.97" x2="82.20" y2="476.97" stroke="#000" stroke-width="0.7" />
<line x1="76.20" y1="494.26" x2="82.20" y2="494.26" stroke="#000" stroke-width="0.7" />
<circle cx="78.30" cy="494.10" r="1.2" fill="#1c1c1c" stroke="none" stroke-width="0.5" />
<circle cx="78.90" cy="488.15" r="1.2" fill="#1c1c1c" stroke="none" stroke-width="0.5" />
<circle cx="79.50" cy="482.76" r="1.2" fill="#1c1c1c" stroke="none" stroke-width="0.5" />
<circle cx="80.10" cy="479.02" r="1.2" fill="#1c1c1c" stroke="none" stroke-width="0.5" />
<text x="79.20" y="474.37" font-size="8.6" text-anchor="middle" fill="#000" font-family="Liberation Sans, Arial, sans-serif" stroke="#000" stroke-width="0.22" >a</text>
<line x1="79.20" y1="561.50" x2="79.20" y2="565.70" stroke="#2a2a2a" stroke-width="0.8" />
<text x="81.60" y="572.70" font-size="8" text-anchor="end" fill="#000" font-family="Liberation Sans, Arial, sans-serif" transform="rotate(-45 81.60 572.70)" stroke="#000" stroke-width="0.22" >SynCom</text>
<text x="51.20" y="602.60" font-size="8.8" text-anchor="middle" fill="#000" font-family="Liberation Sans, Arial, sans-serif" stroke="#000" stroke-width="0.22" >Leaves</text>
<rect x="98.55" y="551.12" width="10.10" height="10.38" fill="#86a8d8" stroke="#2a2a2a" stroke-width="0.8" />
<line x1="103.60" y1="549.83" x2="103.60" y2="552.42" stroke="#000" stroke-width="0.7" />
<line x1="100.60" y1="549.83" x2="106.60" y2="549.83" stroke="#000" stroke-width="0.7" />
<line x1="100.60" y1="552.42" x2="106.60" y2="552.42" stroke="#000" stroke-width="0.7" />
<circle cx="100.45" cy="551.67" r="1.2" fill="#1c1c1c" stroke="none" stroke-width="0.5" />
<circle cx="102.55" cy="551.93" r="1.2" fill="#1c1c1c" stroke="none" stroke-width="0.5" />
<circle cx="104.65" cy="551.11" r="1.2" fill="#1c1c1c" stroke="none" stroke-width="0.5" />
<circle cx="106.75" cy="550.24" r="1.2" fill="#1c1c1c" stroke="none" stroke-width="0.5" />
<text x="103.60" y="547.23" font-size="8.6" text-anchor="middle" fill="#000" font-family="Liberation Sans, Arial, sans-serif" stroke="#000" stroke-width="0.22" >c</text>
<line x1="103.60" y1="561.50" x2="103.60" y2="565.70" stroke="#2a2a2a" stroke-width="0.8" />
<text x="106.00" y="572.70" font-size="8" text-anchor="end" fill="#000" font-family="Liberation Sans, Arial, sans-serif" transform="rotate(-45 106.00 572.70)" stroke="#000" stroke-width="0.22" >Control</text>
<rect x="112.55" y="546.37" width="10.10" height="15.13" fill="#86a8d8" stroke="#2a2a2a" stroke-width="0.8" />
<line x1="117.60" y1="545.07" x2="117.60" y2="547.66" stroke="#000" stroke-width="0.7" />
<line x1="114.60" y1="545.07" x2="120.60" y2="545.07" stroke="#000" stroke-width="0.7" />
<line x1="114.60" y1="547.66" x2="120.60" y2="547.66" stroke="#000" stroke-width="0.7" />
<circle cx="114.45" cy="546.18" r="1.2" fill="#1c1c1c" stroke="none" stroke-width="0.5" />
<circle cx="116.55" cy="545.80" r="1.2" fill="#1c1c1c" stroke="none" stroke-width="0.5" />
<circle cx="118.65" cy="546.61" r="1.2" fill="#1c1c1c" stroke="none" stroke-width="0.5" />
<circle cx="120.75" cy="545.86" r="1.2" fill="#1c1c1c" stroke="none" stroke-width="0.5" />
<text x="117.60" y="542.47" font-size="8.6" text-anchor="middle" fill="#000" font-family="Liberation Sans, Arial, sans-serif" stroke="#000" stroke-width="0.22" >b</text>
<line x1="117.60" y1="561.50" x2="117.60" y2="565.70" stroke="#2a2a2a" stroke-width="0.8" />
<text x="120.00" y="572.70" font-size="8" text-anchor="end" fill="#000" font-family="Liberation Sans, Arial, sans-serif" transform="rotate(-45 120.00 572.70)" stroke="#000" stroke-width="0.22" >LSS1</text>
<rect x="126.05" y="545.41" width="10.10" height="16.09" fill="#86a8d8" stroke="#2a2a2a" stroke-width="0.8" />
<line x1="131.10" y1="544.12" x2="131.10" y2="546.71" stroke="#000" stroke-width="0.7" />
<line x1="128.10" y1="544.12" x2="134.10" y2="544.12" stroke="#000" stroke-width="0.7" />
<line x1="128.10" y1="546.71" x2="134.10" y2="546.71" stroke="#000" stroke-width="0.7" />
<circle cx="127.95" cy="546.24" r="1.2" fill="#1c1c1c" stroke="none" stroke-width="0.5" />
<circle cx="130.05" cy="545.85" r="1.2" fill="#1c1c1c" stroke="none" stroke-width="0.5" />
<circle cx="132.15" cy="545.05" r="1.2" fill="#1c1c1c" stroke="none" stroke-width="0.5" />
<circle cx="134.25" cy="544.95" r="1.2" fill="#1c1c1c" stroke="none" stroke-width="0.5" />
<text x="131.10" y="541.52" font-size="8.6" text-anchor="middle" fill="#000" font-family="Liberation Sans, Arial, sans-serif" stroke="#000" stroke-width="0.22" >b</text>
<line x1="131.10" y1="561.50" x2="131.10" y2="565.70" stroke="#2a2a2a" stroke-width="0.8" />
<text x="133.50" y="572.70" font-size="8" text-anchor="end" fill="#000" font-family="Liberation Sans, Arial, sans-serif" transform="rotate(-45 133.50 572.70)" stroke="#000" stroke-width="0.22" >LSS2</text>
<rect x="139.65" y="540.44" width="10.10" height="21.06" fill="#86a8d8" stroke="#2a2a2a" stroke-width="0.8" />
<line x1="144.70" y1="538.28" x2="144.70" y2="542.60" stroke="#000" stroke-width="0.7" />
<line x1="141.70" y1="538.28" x2="147.70" y2="538.28" stroke="#000" stroke-width="0.7" />
<line x1="141.70" y1="542.60" x2="147.70" y2="542.60" stroke="#000" stroke-width="0.7" />
<circle cx="141.55" cy="540.71" r="1.2" fill="#1c1c1c" stroke="none" stroke-width="0.5" />
<circle cx="143.65" cy="541.87" r="1.2" fill="#1c1c1c" stroke="none" stroke-width="0.5" />
<circle cx="145.75" cy="541.25" r="1.2" fill="#1c1c1c" stroke="none" stroke-width="0.5" />
<circle cx="147.85" cy="541.45" r="1.2" fill="#1c1c1c" stroke="none" stroke-width="0.5" />
<text x="144.70" y="535.68" font-size="8.6" text-anchor="middle" fill="#000" font-family="Liberation Sans, Arial, sans-serif" stroke="#000" stroke-width="0.22" >a</text>
<line x1="144.70" y1="561.50" x2="144.70" y2="565.70" stroke="#2a2a2a" stroke-width="0.8" />
<text x="147.10" y="572.70" font-size="8" text-anchor="end" fill="#000" font-family="Liberation Sans, Arial, sans-serif" transform="rotate(-45 147.10 572.70)" stroke="#000" stroke-width="0.22" >SynCom</text>
<text x="111.80" y="602.60" font-size="8.8" text-anchor="middle" fill="#000" font-family="Liberation Sans, Arial, sans-serif" stroke="#000" stroke-width="0.22" >Roots</text>
<text x="173.00" y="460.80" font-size="18" text-anchor="start" fill="#000" font-family="Liberation Serif, Times New Roman, serif" font-weight="bold" >i</text>
<rect x="192.60" y="458.40" width="137.70" height="107.90" fill="#fff" stroke="#222" stroke-width="0.8" />
<line x1="190.00" y1="566.30" x2="192.60" y2="566.30" stroke="#222" stroke-width="0.8" />
<text x="185.40" y="569.30" font-size="8.4" text-anchor="end" fill="#000" font-family="Liberation Sans, Arial, sans-serif" stroke="#000" stroke-width="0.22" >0</text>
<line x1="190.00" y1="530.30" x2="192.60" y2="530.30" stroke="#222" stroke-width="0.8" />
<text x="185.40" y="533.30" font-size="8.4" text-anchor="end" fill="#000" font-family="Liberation Sans, Arial, sans-serif" stroke="#000" stroke-width="0.22" >1</text>
<line x1="190.00" y1="494.30" x2="192.60" y2="494.30" stroke="#222" stroke-width="0.8" />
<text x="185.40" y="497.30" font-size="8.4" text-anchor="end" fill="#000" font-family="Liberation Sans, Arial, sans-serif" stroke="#000" stroke-width="0.22" >2</text>
<line x1="190.00" y1="458.30" x2="192.60" y2="458.30" stroke="#222" stroke-width="0.8" />
<text x="185.40" y="461.30" font-size="8.4" text-anchor="end" fill="#000" font-family="Liberation Sans, Arial, sans-serif" stroke="#000" stroke-width="0.22" >3</text>
<line x1="192.60" y1="566.30" x2="192.60" y2="568.90" stroke="#222" stroke-width="0.8" />
<text x="192.60" y="578.90" font-size="8.4" text-anchor="middle" fill="#000" font-family="Liberation Sans, Arial, sans-serif" stroke="#000" stroke-width="0.22" >0</text>
<line x1="217.54" y1="566.30" x2="217.54" y2="568.90" stroke="#222" stroke-width="0.8" />
<text x="217.54" y="578.90" font-size="8.4" text-anchor="middle" fill="#000" font-family="Liberation Sans, Arial, sans-serif" stroke="#000" stroke-width="0.22" >2</text>
<line x1="242.48" y1="566.30" x2="242.48" y2="568.90" stroke="#222" stroke-width="0.8" />
<text x="242.48" y="578.90" font-size="8.4" text-anchor="middle" fill="#000" font-family="Liberation Sans, Arial, sans-serif" stroke="#000" stroke-width="0.22" >4</text>
<line x1="267.42" y1="566.30" x2="267.42" y2="568.90" stroke="#222" stroke-width="0.8" />
<text x="267.42" y="578.90" font-size="8.4" text-anchor="middle" fill="#000" font-family="Liberation Sans, Arial, sans-serif" stroke="#000" stroke-width="0.22" >6</text>
<line x1="292.36" y1="566.30" x2="292.36" y2="568.90" stroke="#222" stroke-width="0.8" />
<text x="292.36" y="578.90" font-size="8.4" text-anchor="middle" fill="#000" font-family="Liberation Sans, Arial, sans-serif" stroke="#000" stroke-width="0.22" >8</text>
<line x1="317.30" y1="566.30" x2="317.30" y2="568.90" stroke="#222" stroke-width="0.8" />
<text x="317.30" y="578.90" font-size="8.4" text-anchor="middle" fill="#000" font-family="Liberation Sans, Arial, sans-serif" stroke="#000" stroke-width="0.22" >10</text>
<text x="177.90" y="516.00" font-size="10.1" text-anchor="middle" fill="#000" font-family="Liberation Sans, Arial, sans-serif" transform="rotate(-90 177.90 516.00)" stroke="#000" stroke-width="0.22" >Concentration (mg/Kg)</text>
<text x="261.80" y="590.40" font-size="10" text-anchor="middle" fill="#000" font-family="Liberation Sans, Arial, sans-serif" stroke="#000" stroke-width="0.22" >Days</text>
<path d="M192.60,467.30C207.56,474.10 215.05,478.27 230.01,482.42C254.95,489.33 286.75,499.53 317.30,501.86" fill="none" stroke="#111" stroke-width="1.0" stroke-dasharray="3,1.8"/>
<path d="M192.60,465.50C207.56,475.22 215.05,481.27 230.01,487.10C254.95,496.82 286.75,510.86 317.30,514.10" fill="none" stroke="#111" stroke-width="1.0" stroke-dasharray="3,1.8"/>
<path d="M192.60,465.50C207.56,478.95 215.05,487.91 230.01,495.38C254.95,507.84 286.75,523.89 317.30,527.78" fill="none" stroke="#111" stroke-width="1.0" stroke-dasharray="3,1.8"/>
<path d="M192.60,464.78C207.56,480.33 215.05,490.61 230.01,499.34C254.95,513.88 286.75,532.92 317.30,537.50" fill="none" stroke="#111" stroke-width="1.0" stroke-dasharray="3,1.8"/>
<line x1="192.60" y1="462.98" x2="192.60" y2="471.62" stroke="#8a8a8a" stroke-width="0.6" />
<line x1="191.20" y1="462.98" x2="194.00" y2="462.98" stroke="#8a8a8a" stroke-width="0.6" />
<line x1="191.20" y1="471.62" x2="194.00" y2="471.62" stroke="#8a8a8a" stroke-width="0.6" />
<line x1="230.01" y1="471.62" x2="230.01" y2="493.22" stroke="#8a8a8a" stroke-width="0.6" />
<line x1="228.61" y1="471.62" x2="231.41" y2="471.62" stroke="#8a8a8a" stroke-width="0.6" />
<line x1="228.61" y1="493.22" x2="231.41" y2="493.22" stroke="#8a8a8a" stroke-width="0.6" />
<line x1="317.30" y1="491.06" x2="317.30" y2="512.66" stroke="#8a8a8a" stroke-width="0.6" />
<line x1="315.90" y1="491.06" x2="318.70" y2="491.06" stroke="#8a8a8a" stroke-width="0.6" />
<line x1="315.90" y1="512.66" x2="318.70" y2="512.66" stroke="#8a8a8a" stroke-width="0.6" />
<line x1="192.60" y1="461.90" x2="192.60" y2="469.10" stroke="#8a8a8a" stroke-width="0.6" />
<line x1="191.20" y1="461.90" x2="194.00" y2="461.90" stroke="#8a8a8a" stroke-width="0.6" />
<line x1="191.20" y1="469.10" x2="194.00" y2="469.10" stroke="#8a8a8a" stroke-width="0.6" />
<line x1="230.01" y1="479.90" x2="230.01" y2="494.30" stroke="#8a8a8a" stroke-width="0.6" />
<line x1="228.61" y1="479.90" x2="231.41" y2="479.90" stroke="#8a8a8a" stroke-width="0.6" />
<line x1="228.61" y1="494.30" x2="231.41" y2="494.30" stroke="#8a8a8a" stroke-width="0.6" />
<line x1="317.30" y1="506.90" x2="317.30" y2="521.30" stroke="#8a8a8a" stroke-width="0.6" />
<line x1="315.90" y1="506.90" x2="318.70" y2="506.90" stroke="#8a8a8a" stroke-width="0.6" />
<line x1="315.90" y1="521.30" x2="318.70" y2="521.30" stroke="#8a8a8a" stroke-width="0.6" />
<line x1="192.60" y1="461.90" x2="192.60" y2="469.10" stroke="#8a8a8a" stroke-width="0.6" />
<line x1="191.20" y1="461.90" x2="194.00" y2="461.90" stroke="#8a8a8a" stroke-width="0.6" />
<line x1="191.20" y1="469.10" x2="194.00" y2="469.10" stroke="#8a8a8a" stroke-width="0.6" />
<line x1="230.01" y1="488.18" x2="230.01" y2="502.58" stroke="#8a8a8a" stroke-width="0.6" />
<line x1="228.61" y1="488.18" x2="231.41" y2="488.18" stroke="#8a8a8a" stroke-width="0.6" />
<line x1="228.61" y1="502.58" x2="231.41" y2="502.58" stroke="#8a8a8a" stroke-width="0.6" />
<line x1="317.30" y1="520.58" x2="317.30" y2="534.98" stroke="#8a8a8a" stroke-width="0.6" />
<line x1="315.90" y1="520.58" x2="318.70" y2="520.58" stroke="#8a8a8a" stroke-width="0.6" />
<line x1="315.90" y1="534.98" x2="318.70" y2="534.98" stroke="#8a8a8a" stroke-width="0.6" />
<line x1="192.60" y1="461.18" x2="192.60" y2="468.38" stroke="#8a8a8a" stroke-width="0.6" />
<line x1="191.20" y1="461.18" x2="194.00" y2="461.18" stroke="#8a8a8a" stroke-width="0.6" />
<line x1="191.20" y1="468.38" x2="194.00" y2="468.38" stroke="#8a8a8a" stroke-width="0.6" />
<line x1="230.01" y1="492.14" x2="230.01" y2="506.54" stroke="#8a8a8a" stroke-width="0.6" />
<line x1="228.61" y1="492.14" x2="231.41" y2="492.14" stroke="#8a8a8a" stroke-width="0.6" />
<line x1="228.61" y1="506.54" x2="231.41" y2="506.54" stroke="#8a8a8a" stroke-width="0.6" />
<line x1="317.30" y1="529.58" x2="317.30" y2="545.42" stroke="#8a8a8a" stroke-width="0.6" />
<line x1="315.90" y1="529.58" x2="318.70" y2="529.58" stroke="#8a8a8a" stroke-width="0.6" />
<line x1="315.90" y1="545.42" x2="318.70" y2="545.42" stroke="#8a8a8a" stroke-width="0.6" />
<path d="M192.60,463.67L196.23,470.38L188.97,470.38Z" fill="#8faadc" stroke="#26355e" stroke-width="0.6"/>
<path d="M230.01,478.79L233.64,485.50L226.38,485.50Z" fill="#8faadc" stroke="#26355e" stroke-width="0.6"/>
<circle cx="230.01" cy="482.42" r="0.55" fill="#222" stroke="none" stroke-width="0.5" />
<path d="M317.30,498.23L320.93,504.94L313.67,504.94Z" fill="#8faadc" stroke="#26355e" stroke-width="0.6"/>
<circle cx="317.30" cy="501.86" r="0.55" fill="#222" stroke="none" stroke-width="0.5" />
<path d="M192.60,462.42L195.68,465.50L192.60,468.58L189.52,465.50Z" fill="#f4b183" stroke="#c46a2a" stroke-width="0.6"/>
<path d="M230.01,484.02L233.09,487.10L230.01,490.18L226.93,487.10Z" fill="#f4b183" stroke="#c46a2a" stroke-width="0.6"/>
<circle cx="230.01" cy="487.10" r="0.55" fill="#222" stroke="none" stroke-width="0.5" />
<path d="M317.30,511.02L320.38,514.10L317.30,517.18L314.22,514.10Z" fill="#f4b183" stroke="#c46a2a" stroke-width="0.6"/>
<circle cx="317.30" cy="514.10" r="0.55" fill="#222" stroke="none" stroke-width="0.5" />
<circle cx="192.60" cy="465.50" r="3.24" fill="#ffd24d" stroke="#4a3c10" stroke-width="0.6" />
<circle cx="230.01" cy="495.38" r="3.24" fill="#ffd24d" stroke="#4a3c10" stroke-width="0.6" />
<circle cx="230.01" cy="495.38" r="0.55" fill="#222" stroke="none" stroke-width="0.5" />
<circle cx="317.30" cy="527.78" r="3.24" fill="#ffd24d" stroke="#4a3c10" stroke-width="0.6" />
<circle cx="317.30" cy="527.78" r="0.55" fill="#222" stroke="none" stroke-width="0.5" />
<rect x="189.36" y="461.54" width="6.48" height="6.48" fill="#a9d18e" stroke="#2c4a1e" stroke-width="0.6" />
<rect x="226.77" y="496.10" width="6.48" height="6.48" fill="#a9d18e" stroke="#2c4a1e" stroke-width="0.6" />
<circle cx="230.01" cy="499.34" r="0.55" fill="#222" stroke="none" stroke-width="0.5" />
<rect x="314.06" y="534.26" width="6.48" height="6.48" fill="#a9d18e" stroke="#2c4a1e" stroke-width="0.6" />
<circle cx="317.30" cy="537.50" r="0.55" fill="#222" stroke="none" stroke-width="0.5" />
<path d="M192.60,463.94L195.96,470.16L189.24,470.16Z" fill="#8faadc" stroke="#26355e" stroke-width="0.6"/>
<path d="M207.80,461.65L210.15,466.00L205.45,466.00Z" fill="#8faadc" stroke="#26355e" stroke-width="0.6"/>
<text x="210.60" y="467.00" font-size="8.0" text-anchor="start" fill="#000" font-family="Liberation Sans, Arial, sans-serif" stroke="#000" stroke-width="0.22" >Control</text>
<path d="M238.50,462.00L240.50,464.00L238.50,466.00L236.50,464.00Z" fill="#f4b183" stroke="#c46a2a" stroke-width="0.6"/>
<text x="242.20" y="467.00" font-size="8.0" text-anchor="start" fill="#000" font-family="Liberation Sans, Arial, sans-serif" stroke="#000" stroke-width="0.22" >LSS1</text>
<circle cx="266.70" cy="464.00" r="2.1" fill="#ffd24d" stroke="#4a3c10" stroke-width="0.6" />
<text x="270.40" y="467.00" font-size="8.0" text-anchor="start" fill="#000" font-family="Liberation Sans, Arial, sans-serif" stroke="#000" stroke-width="0.22" >LSS2</text>
<rect x="292.30" y="461.90" width="4.20" height="4.20" fill="#a9d18e" stroke="#2c4a1e" stroke-width="0.6" />
<text x="298.40" y="467.00" font-size="8.0" text-anchor="start" fill="#000" font-family="Liberation Sans, Arial, sans-serif" stroke="#000" stroke-width="0.22" >SynCom</text>
<text x="339.90" y="460.20" font-size="18" text-anchor="start" fill="#000" font-family="Liberation Serif, Times New Roman, serif" font-weight="bold" >j</text>
<rect x="363.50" y="457.70" width="138.10" height="108.60" fill="#fff" stroke="#222" stroke-width="0.8" />
<line x1="360.90" y1="566.30" x2="363.50" y2="566.30" stroke="#222" stroke-width="0.8" />
<text x="356.30" y="569.30" font-size="8.0" text-anchor="end" fill="#000" font-family="Liberation Sans, Arial, sans-serif" stroke="#000" stroke-width="0.22" >0</text>
<line x1="360.90" y1="550.84" x2="363.50" y2="550.84" stroke="#222" stroke-width="0.8" />
<text x="356.30" y="553.84" font-size="8.0" text-anchor="end" fill="#000" font-family="Liberation Sans, Arial, sans-serif" stroke="#000" stroke-width="0.22" >1</text>
<line x1="360.90" y1="535.38" x2="363.50" y2="535.38" stroke="#222" stroke-width="0.8" />
<text x="356.30" y="538.38" font-size="8.0" text-anchor="end" fill="#000" font-family="Liberation Sans, Arial, sans-serif" stroke="#000" stroke-width="0.22" >2</text>
<line x1="360.90" y1="519.92" x2="363.50" y2="519.92" stroke="#222" stroke-width="0.8" />
<text x="356.30" y="522.92" font-size="8.0" text-anchor="end" fill="#000" font-family="Liberation Sans, Arial, sans-serif" stroke="#000" stroke-width="0.22" >3</text>
<line x1="360.90" y1="504.46" x2="363.50" y2="504.46" stroke="#222" stroke-width="0.8" />
<text x="356.30" y="507.46" font-size="8.0" text-anchor="end" fill="#000" font-family="Liberation Sans, Arial, sans-serif" stroke="#000" stroke-width="0.22" >4</text>
<line x1="360.90" y1="489.00" x2="363.50" y2="489.00" stroke="#222" stroke-width="0.8" />
<text x="356.30" y="492.00" font-size="8.0" text-anchor="end" fill="#000" font-family="Liberation Sans, Arial, sans-serif" stroke="#000" stroke-width="0.22" >5</text>
<line x1="360.90" y1="473.54" x2="363.50" y2="473.54" stroke="#222" stroke-width="0.8" />
<text x="356.30" y="476.54" font-size="8.0" text-anchor="end" fill="#000" font-family="Liberation Sans, Arial, sans-serif" stroke="#000" stroke-width="0.22" >6</text>
<line x1="360.90" y1="458.08" x2="363.50" y2="458.08" stroke="#222" stroke-width="0.8" />
<text x="356.30" y="461.08" font-size="8.0" text-anchor="end" fill="#000" font-family="Liberation Sans, Arial, sans-serif" stroke="#000" stroke-width="0.22" >7</text>
<line x1="363.50" y1="566.30" x2="363.50" y2="568.90" stroke="#222" stroke-width="0.8" />
<text x="363.50" y="578.90" font-size="8.0" text-anchor="middle" fill="#000" font-family="Liberation Sans, Arial, sans-serif" stroke="#000" stroke-width="0.22" >0</text>
<line x1="388.70" y1="566.30" x2="388.70" y2="568.90" stroke="#222" stroke-width="0.8" />
<text x="388.70" y="578.90" font-size="8.0" text-anchor="middle" fill="#000" font-family="Liberation Sans, Arial, sans-serif" stroke="#000" stroke-width="0.22" >1</text>
<line x1="413.90" y1="566.30" x2="413.90" y2="568.90" stroke="#222" stroke-width="0.8" />
<text x="413.90" y="578.90" font-size="8.0" text-anchor="middle" fill="#000" font-family="Liberation Sans, Arial, sans-serif" stroke="#000" stroke-width="0.22" >2</text>
<line x1="439.10" y1="566.30" x2="439.10" y2="568.90" stroke="#222" stroke-width="0.8" />
<text x="439.10" y="578.90" font-size="8.0" text-anchor="middle" fill="#000" font-family="Liberation Sans, Arial, sans-serif" stroke="#000" stroke-width="0.22" >3</text>
<line x1="464.30" y1="566.30" x2="464.30" y2="568.90" stroke="#222" stroke-width="0.8" />
<text x="464.30" y="578.90" font-size="8.0" text-anchor="middle" fill="#000" font-family="Liberation Sans, Arial, sans-serif" stroke="#000" stroke-width="0.22" >4</text>
<line x1="489.50" y1="566.30" x2="489.50" y2="568.90" stroke="#222" stroke-width="0.8" />
<text x="489.50" y="578.90" font-size="8.0" text-anchor="middle" fill="#000" font-family="Liberation Sans, Arial, sans-serif" stroke="#000" stroke-width="0.22" >5</text>
<text x="346.40" y="516.00" font-size="10.1" text-anchor="middle" fill="#000" font-family="Liberation Sans, Arial, sans-serif" transform="rotate(-90 346.40 516.00)" stroke="#000" stroke-width="0.22" >Concentration (mg/L)</text>
<text x="430.00" y="590.40" font-size="10" text-anchor="middle" fill="#000" font-family="Liberation Sans, Arial, sans-serif" stroke="#000" stroke-width="0.22" >Days</text>
<path d="M363.50,484.36C383.66,485.41 398.78,485.94 413.90,486.68C439.10,487.92 463.04,490.08 489.50,490.55" fill="none" stroke="#111" stroke-width="1.0" stroke-dasharray="3,1.8"/>
<path d="M363.50,484.36C383.66,485.75 398.78,486.53 413.90,487.45C439.10,489.00 463.04,491.54 489.50,492.09" fill="none" stroke="#111" stroke-width="1.0" stroke-dasharray="3,1.8"/>
<path d="M363.50,484.36C383.66,491.32 398.78,496.76 413.90,499.82C439.10,504.92 463.04,508.67 489.50,509.87" fill="none" stroke="#111" stroke-width="1.0" stroke-dasharray="3,1.8"/>
<path d="M363.50,485.13C383.66,493.48 398.78,499.51 413.90,503.69C439.10,510.64 463.04,517.97 489.50,519.92" fill="none" stroke="#111" stroke-width="1.0" stroke-dasharray="3,1.8"/>
<line x1="363.50" y1="477.40" x2="363.50" y2="491.32" stroke="#8a8a8a" stroke-width="0.6" />
<line x1="362.10" y1="477.40" x2="364.90" y2="477.40" stroke="#8a8a8a" stroke-width="0.6" />
<line x1="362.10" y1="491.32" x2="364.90" y2="491.32" stroke="#8a8a8a" stroke-width="0.6" />
<line x1="413.90" y1="480.50" x2="413.90" y2="492.86" stroke="#8a8a8a" stroke-width="0.6" />
<line x1="412.50" y1="480.50" x2="415.30" y2="480.50" stroke="#8a8a8a" stroke-width="0.6" />
<line x1="412.50" y1="492.86" x2="415.30" y2="492.86" stroke="#8a8a8a" stroke-width="0.6" />
<line x1="489.50" y1="485.91" x2="489.50" y2="495.18" stroke="#8a8a8a" stroke-width="0.6" />
<line x1="488.10" y1="485.91" x2="490.90" y2="485.91" stroke="#8a8a8a" stroke-width="0.6" />
<line x1="488.10" y1="495.18" x2="490.90" y2="495.18" stroke="#8a8a8a" stroke-width="0.6" />
<line x1="363.50" y1="479.72" x2="363.50" y2="489.00" stroke="#8a8a8a" stroke-width="0.6" />
<line x1="362.10" y1="479.72" x2="364.90" y2="479.72" stroke="#8a8a8a" stroke-width="0.6" />
<line x1="362.10" y1="489.00" x2="364.90" y2="489.00" stroke="#8a8a8a" stroke-width="0.6" />
<line x1="413.90" y1="482.82" x2="413.90" y2="492.09" stroke="#8a8a8a" stroke-width="0.6" />
<line x1="412.50" y1="482.82" x2="415.30" y2="482.82" stroke="#8a8a8a" stroke-width="0.6" />
<line x1="412.50" y1="492.09" x2="415.30" y2="492.09" stroke="#8a8a8a" stroke-width="0.6" />
<line x1="489.50" y1="488.23" x2="489.50" y2="495.96" stroke="#8a8a8a" stroke-width="0.6" />
<line x1="488.10" y1="488.23" x2="490.90" y2="488.23" stroke="#8a8a8a" stroke-width="0.6" />
<line x1="488.10" y1="495.96" x2="490.90" y2="495.96" stroke="#8a8a8a" stroke-width="0.6" />
<line x1="363.50" y1="479.72" x2="363.50" y2="489.00" stroke="#8a8a8a" stroke-width="0.6" />
<line x1="362.10" y1="479.72" x2="364.90" y2="479.72" stroke="#8a8a8a" stroke-width="0.6" />
<line x1="362.10" y1="489.00" x2="364.90" y2="489.00" stroke="#8a8a8a" stroke-width="0.6" />
<line x1="413.90" y1="494.41" x2="413.90" y2="505.23" stroke="#8a8a8a" stroke-width="0.6" />
<line x1="412.50" y1="494.41" x2="415.30" y2="494.41" stroke="#8a8a8a" stroke-width="0.6" />
<line x1="412.50" y1="505.23" x2="415.30" y2="505.23" stroke="#8a8a8a" stroke-width="0.6" />
<line x1="489.50" y1="504.46" x2="489.50" y2="515.28" stroke="#8a8a8a" stroke-width="0.6" />
<line x1="488.10" y1="504.46" x2="490.90" y2="504.46" stroke="#8a8a8a" stroke-width="0.6" />
<line x1="488.10" y1="515.28" x2="490.90" y2="515.28" stroke="#8a8a8a" stroke-width="0.6" />
<line x1="363.50" y1="480.50" x2="363.50" y2="489.77" stroke="#8a8a8a" stroke-width="0.6" />
<line x1="362.10" y1="480.50" x2="364.90" y2="480.50" stroke="#8a8a8a" stroke-width="0.6" />
<line x1="362.10" y1="489.77" x2="364.90" y2="489.77" stroke="#8a8a8a" stroke-width="0.6" />
<line x1="413.90" y1="498.28" x2="413.90" y2="509.10" stroke="#8a8a8a" stroke-width="0.6" />
<line x1="412.50" y1="498.28" x2="415.30" y2="498.28" stroke="#8a8a8a" stroke-width="0.6" />
<line x1="412.50" y1="509.10" x2="415.30" y2="509.10" stroke="#8a8a8a" stroke-width="0.6" />
<line x1="489.50" y1="514.51" x2="489.50" y2="525.33" stroke="#8a8a8a" stroke-width="0.6" />
<line x1="488.10" y1="514.51" x2="490.90" y2="514.51" stroke="#8a8a8a" stroke-width="0.6" />
<line x1="488.10" y1="525.33" x2="490.90" y2="525.33" stroke="#8a8a8a" stroke-width="0.6" />
<path d="M363.50,481.34L366.52,486.93L360.48,486.93Z" fill="#8faadc" stroke="#26355e" stroke-width="0.6"/>
<path d="M413.90,483.66L416.92,489.25L410.88,489.25Z" fill="#8faadc" stroke="#26355e" stroke-width="0.6"/>
<circle cx="413.90" cy="486.68" r="0.55" fill="#222" stroke="none" stroke-width="0.5" />
<path d="M489.50,487.52L492.52,493.12L486.48,493.12Z" fill="#8faadc" stroke="#26355e" stroke-width="0.6"/>
<circle cx="489.50" cy="490.55" r="0.55" fill="#222" stroke="none" stroke-width="0.5" />
<path d="M363.50,481.80L366.06,484.36L363.50,486.93L360.94,484.36Z" fill="#f4b183" stroke="#c46a2a" stroke-width="0.6"/>
<path d="M413.90,484.89L416.46,487.45L413.90,490.02L411.33,487.45Z" fill="#f4b183" stroke="#c46a2a" stroke-width="0.6"/>
<circle cx="413.90" cy="487.45" r="0.55" fill="#222" stroke="none" stroke-width="0.5" />
<path d="M489.50,489.53L492.06,492.09L489.50,494.66L486.94,492.09Z" fill="#f4b183" stroke="#c46a2a" stroke-width="0.6"/>
<circle cx="489.50" cy="492.09" r="0.55" fill="#222" stroke="none" stroke-width="0.5" />
<circle cx="363.50" cy="484.36" r="2.7" fill="#ffd24d" stroke="#4a3c10" stroke-width="0.6" />
<circle cx="413.90" cy="499.82" r="2.7" fill="#ffd24d" stroke="#4a3c10" stroke-width="0.6" />
<circle cx="413.90" cy="499.82" r="0.55" fill="#222" stroke="none" stroke-width="0.5" />
<circle cx="489.50" cy="509.87" r="2.7" fill="#ffd24d" stroke="#4a3c10" stroke-width="0.6" />
<circle cx="489.50" cy="509.87" r="0.55" fill="#222" stroke="none" stroke-width="0.5" />
<rect x="360.80" y="482.43" width="5.40" height="5.40" fill="#a9d18e" stroke="#2c4a1e" stroke-width="0.6" />
<rect x="411.20" y="500.99" width="5.40" height="5.40" fill="#a9d18e" stroke="#2c4a1e" stroke-width="0.6" />
<circle cx="413.90" cy="503.69" r="0.55" fill="#222" stroke="none" stroke-width="0.5" />
<rect x="486.80" y="517.22" width="5.40" height="5.40" fill="#a9d18e" stroke="#2c4a1e" stroke-width="0.6" />
<circle cx="489.50" cy="519.92" r="0.55" fill="#222" stroke="none" stroke-width="0.5" />
<path d="M363.50,481.56L366.30,486.74L360.70,486.74Z" fill="#8faadc" stroke="#26355e" stroke-width="0.6"/>
<path d="M382.10,461.65L384.45,466.00L379.75,466.00Z" fill="#8faadc" stroke="#26355e" stroke-width="0.6"/>
<text x="385.60" y="467.00" font-size="8.0" text-anchor="start" fill="#000" font-family="Liberation Sans, Arial, sans-serif" stroke="#000" stroke-width="0.22" >MSM</text>
<path d="M409.00,462.00L411.00,464.00L409.00,466.00L407.00,464.00Z" fill="#f4b183" stroke="#c46a2a" stroke-width="0.6"/>
<text x="412.60" y="467.00" font-size="8.0" text-anchor="start" fill="#000" font-family="Liberation Sans, Arial, sans-serif" stroke="#000" stroke-width="0.22" >LSS1</text>
<circle cx="436.90" cy="464.00" r="2.1" fill="#ffd24d" stroke="#4a3c10" stroke-width="0.6" />
<text x="440.60" y="467.00" font-size="8.0" text-anchor="start" fill="#000" font-family="Liberation Sans, Arial, sans-serif" stroke="#000" stroke-width="0.22" >LSS2</text>
<rect x="463.00" y="461.90" width="4.20" height="4.20" fill="#a9d18e" stroke="#2c4a1e" stroke-width="0.6" />
<text x="468.90" y="467.00" font-size="8.0" text-anchor="start" fill="#000" font-family="Liberation Sans, Arial, sans-serif" stroke="#000" stroke-width="0.22" >SynCom</text>
</svg></body></html>
